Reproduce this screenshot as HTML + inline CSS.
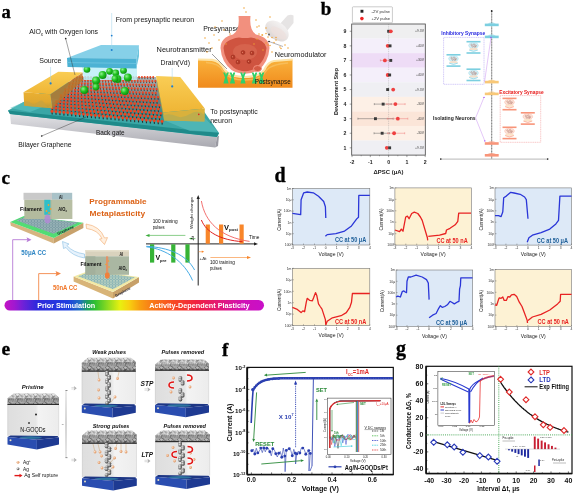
<!DOCTYPE html>
<html><head><meta charset="utf-8"><style>
html,body{margin:0;padding:0;background:#fff;width:575px;height:496px;overflow:hidden}
svg{display:block;filter:blur(0.35px)}
text{font-family:"Liberation Sans",sans-serif}
.sf{font-family:"Liberation Serif",serif;font-weight:bold}
</style></head><body>
<svg width="575" height="496" viewBox="0 0 575 496">
<rect width="575" height="496" fill="#fff"/>
<g id="pa">
<text class="sf" x="1.6" y="18" font-size="18.5" stroke="#000" stroke-width="0.35">a</text>
<defs>
<linearGradient id="gbase" x1="0" y1="0" x2="0" y2="1"><stop offset="0" stop-color="#e2e2e6"/><stop offset="1" stop-color="#a9a9b0"/></linearGradient>
<linearGradient id="gold1" x1="0" y1="0" x2="0" y2="1"><stop offset="0" stop-color="#f9cd55"/><stop offset="1" stop-color="#efb535"/></linearGradient>
<linearGradient id="goldf" x1="0" y1="0" x2="0" y2="1"><stop offset="0" stop-color="#eab032"/><stop offset="0.6" stop-color="#e0a830"/><stop offset="1" stop-color="#b89a3a"/></linearGradient>
<linearGradient id="orgin" x1="0" y1="0" x2="0" y2="1"><stop offset="0" stop-color="#f9b23c"/><stop offset="1" stop-color="#f08a1c"/></linearGradient>
<radialGradient id="gball" cx="0.35" cy="0.35" r="0.7"><stop offset="0" stop-color="#8ff08f"/><stop offset="0.5" stop-color="#22c422"/><stop offset="1" stop-color="#0c8a0c"/></radialGradient>
<linearGradient id="mush" x1="0" y1="0" x2="0" y2="1"><stop offset="0" stop-color="#f4f2f2"/><stop offset="1" stop-color="#ddd6d4"/></linearGradient>
</defs>
<polygon points="10,114 217,137 215,147.5 11,124" fill="url(#gbase)"/>
<polygon points="217,137 219,135.5 218,146 215,147.5" fill="#9a9aa2"/>
<polygon points="8,110.5 60,82 182,80 219,133 217,137 10,114" fill="#3aa6a6"/>
<polygon points="8,110.5 219,133 217,137 10,114" fill="#1f8a8a"/>
<polygon points="10,108 40,95 60,100 30,112" fill="#5cc4c4" opacity="0.6"/>
<polygon points="166,121 205,118 218,132 190,131" fill="#5cc0c0" opacity="0.6"/>
<defs><linearGradient id="latbg" x1="0" y1="0" x2="0" y2="1"><stop offset="0" stop-color="#b0b0b0"/><stop offset="0.5" stop-color="#6e7c7c"/><stop offset="0.85" stop-color="#3a8c8c"/><stop offset="1" stop-color="#2a9a9a"/></linearGradient></defs>
<polygon points="50,111 74,77 156,77 164,121.5" fill="url(#latbg)"/>
<line x1="74.0" y1="77.0" x2="74.2" y2="79.1" stroke="#2a2a2a" stroke-width="0.66"/>
<circle cx="74.0" cy="77.0" r="0.95" fill="#ee4420"/>
<line x1="76.8" y1="77.0" x2="77.0" y2="79.1" stroke="#2a2a2a" stroke-width="0.66"/>
<circle cx="76.8" cy="77.0" r="0.95" fill="#ee4420"/>
<line x1="79.7" y1="77.0" x2="79.9" y2="79.1" stroke="#2a2a2a" stroke-width="0.66"/>
<circle cx="79.7" cy="77.0" r="0.95" fill="#ee4420"/>
<line x1="82.5" y1="77.0" x2="82.7" y2="79.1" stroke="#2a2a2a" stroke-width="0.66"/>
<circle cx="82.5" cy="77.0" r="0.95" fill="#ee4420"/>
<line x1="85.3" y1="77.0" x2="85.5" y2="79.1" stroke="#2a2a2a" stroke-width="0.66"/>
<circle cx="85.3" cy="77.0" r="0.95" fill="#ee4420"/>
<line x1="88.1" y1="77.0" x2="88.3" y2="79.1" stroke="#2a2a2a" stroke-width="0.66"/>
<circle cx="88.1" cy="77.0" r="0.95" fill="#ee4420"/>
<line x1="91.0" y1="77.0" x2="91.2" y2="79.1" stroke="#2a2a2a" stroke-width="0.66"/>
<circle cx="91.0" cy="77.0" r="0.95" fill="#ee4420"/>
<line x1="93.8" y1="77.0" x2="94.0" y2="79.1" stroke="#2a2a2a" stroke-width="0.66"/>
<circle cx="93.8" cy="77.0" r="0.95" fill="#ee4420"/>
<line x1="96.6" y1="77.0" x2="96.8" y2="79.1" stroke="#2a2a2a" stroke-width="0.66"/>
<circle cx="96.6" cy="77.0" r="0.95" fill="#ee4420"/>
<line x1="99.4" y1="77.0" x2="99.6" y2="79.1" stroke="#2a2a2a" stroke-width="0.66"/>
<circle cx="99.4" cy="77.0" r="0.95" fill="#ee4420"/>
<line x1="102.3" y1="77.0" x2="102.5" y2="79.1" stroke="#2a2a2a" stroke-width="0.66"/>
<circle cx="102.3" cy="77.0" r="0.95" fill="#ee4420"/>
<line x1="105.1" y1="77.0" x2="105.3" y2="79.1" stroke="#2a2a2a" stroke-width="0.66"/>
<circle cx="105.1" cy="77.0" r="0.95" fill="#ee4420"/>
<line x1="107.9" y1="77.0" x2="108.1" y2="79.1" stroke="#2a2a2a" stroke-width="0.66"/>
<circle cx="107.9" cy="77.0" r="0.95" fill="#ee4420"/>
<line x1="110.8" y1="77.0" x2="111.0" y2="79.1" stroke="#2a2a2a" stroke-width="0.66"/>
<circle cx="110.8" cy="77.0" r="0.95" fill="#ee4420"/>
<line x1="113.6" y1="77.0" x2="113.8" y2="79.1" stroke="#2a2a2a" stroke-width="0.66"/>
<circle cx="113.6" cy="77.0" r="0.95" fill="#ee4420"/>
<line x1="116.4" y1="77.0" x2="116.6" y2="79.1" stroke="#2a2a2a" stroke-width="0.66"/>
<circle cx="116.4" cy="77.0" r="0.95" fill="#ee4420"/>
<line x1="119.2" y1="77.0" x2="119.4" y2="79.1" stroke="#2a2a2a" stroke-width="0.66"/>
<circle cx="119.2" cy="77.0" r="0.95" fill="#ee4420"/>
<line x1="122.1" y1="77.0" x2="122.3" y2="79.1" stroke="#2a2a2a" stroke-width="0.66"/>
<circle cx="122.1" cy="77.0" r="0.95" fill="#ee4420"/>
<line x1="124.9" y1="77.0" x2="125.1" y2="79.1" stroke="#2a2a2a" stroke-width="0.66"/>
<circle cx="124.9" cy="77.0" r="0.95" fill="#ee4420"/>
<line x1="127.7" y1="77.0" x2="127.9" y2="79.1" stroke="#2a2a2a" stroke-width="0.66"/>
<circle cx="127.7" cy="77.0" r="0.95" fill="#ee4420"/>
<line x1="130.6" y1="77.0" x2="130.8" y2="79.1" stroke="#2a2a2a" stroke-width="0.66"/>
<circle cx="130.6" cy="77.0" r="0.95" fill="#ee4420"/>
<line x1="133.4" y1="77.0" x2="133.6" y2="79.1" stroke="#2a2a2a" stroke-width="0.66"/>
<circle cx="133.4" cy="77.0" r="0.95" fill="#ee4420"/>
<line x1="136.2" y1="77.0" x2="136.4" y2="79.1" stroke="#2a2a2a" stroke-width="0.66"/>
<circle cx="136.2" cy="77.0" r="0.95" fill="#ee4420"/>
<line x1="139.0" y1="77.0" x2="139.2" y2="79.1" stroke="#2a2a2a" stroke-width="0.66"/>
<circle cx="139.0" cy="77.0" r="0.95" fill="#ee4420"/>
<line x1="141.9" y1="77.0" x2="142.1" y2="79.1" stroke="#2a2a2a" stroke-width="0.66"/>
<circle cx="141.9" cy="77.0" r="0.95" fill="#ee4420"/>
<line x1="144.7" y1="77.0" x2="144.9" y2="79.1" stroke="#2a2a2a" stroke-width="0.66"/>
<circle cx="144.7" cy="77.0" r="0.95" fill="#ee4420"/>
<line x1="147.5" y1="77.0" x2="147.7" y2="79.1" stroke="#2a2a2a" stroke-width="0.66"/>
<circle cx="147.5" cy="77.0" r="0.95" fill="#ee4420"/>
<line x1="150.3" y1="77.0" x2="150.5" y2="79.1" stroke="#2a2a2a" stroke-width="0.66"/>
<circle cx="150.3" cy="77.0" r="0.95" fill="#ee4420"/>
<line x1="153.2" y1="77.0" x2="153.4" y2="79.1" stroke="#2a2a2a" stroke-width="0.66"/>
<circle cx="153.2" cy="77.0" r="0.95" fill="#ee4420"/>
<line x1="73.3" y1="80.1" x2="73.5" y2="82.3" stroke="#2a2a2a" stroke-width="0.70"/>
<circle cx="73.3" cy="80.1" r="1.00" fill="#ee4420"/>
<line x1="76.2" y1="80.1" x2="76.4" y2="82.3" stroke="#2a2a2a" stroke-width="0.70"/>
<circle cx="76.2" cy="80.1" r="1.00" fill="#ee4420"/>
<line x1="79.1" y1="80.2" x2="79.3" y2="82.4" stroke="#2a2a2a" stroke-width="0.70"/>
<circle cx="79.1" cy="80.2" r="1.00" fill="#ee4420"/>
<line x1="82.1" y1="80.2" x2="82.3" y2="82.4" stroke="#2a2a2a" stroke-width="0.70"/>
<circle cx="82.1" cy="80.2" r="1.00" fill="#ee4420"/>
<line x1="85.0" y1="80.2" x2="85.2" y2="82.4" stroke="#2a2a2a" stroke-width="0.70"/>
<circle cx="85.0" cy="80.2" r="1.00" fill="#ee4420"/>
<line x1="87.9" y1="80.3" x2="88.1" y2="82.5" stroke="#2a2a2a" stroke-width="0.70"/>
<circle cx="87.9" cy="80.3" r="1.00" fill="#ee4420"/>
<line x1="90.8" y1="80.3" x2="91.0" y2="82.5" stroke="#2a2a2a" stroke-width="0.70"/>
<circle cx="90.8" cy="80.3" r="1.00" fill="#ee4420"/>
<line x1="93.8" y1="80.3" x2="94.0" y2="82.5" stroke="#2a2a2a" stroke-width="0.70"/>
<circle cx="93.8" cy="80.3" r="1.00" fill="#ee4420"/>
<line x1="96.7" y1="80.4" x2="96.9" y2="82.6" stroke="#2a2a2a" stroke-width="0.70"/>
<circle cx="96.7" cy="80.4" r="1.00" fill="#ee4420"/>
<line x1="99.6" y1="80.4" x2="99.8" y2="82.6" stroke="#2a2a2a" stroke-width="0.70"/>
<circle cx="99.6" cy="80.4" r="1.00" fill="#ee4420"/>
<line x1="102.6" y1="80.4" x2="102.8" y2="82.6" stroke="#2a2a2a" stroke-width="0.70"/>
<circle cx="102.6" cy="80.4" r="1.00" fill="#ee4420"/>
<line x1="105.5" y1="80.5" x2="105.7" y2="82.7" stroke="#2a2a2a" stroke-width="0.70"/>
<circle cx="105.5" cy="80.5" r="1.00" fill="#ee4420"/>
<line x1="108.4" y1="80.5" x2="108.6" y2="82.7" stroke="#2a2a2a" stroke-width="0.70"/>
<circle cx="108.4" cy="80.5" r="1.00" fill="#ee4420"/>
<line x1="111.3" y1="80.5" x2="111.5" y2="82.7" stroke="#2a2a2a" stroke-width="0.70"/>
<circle cx="111.3" cy="80.5" r="1.00" fill="#ee4420"/>
<line x1="114.3" y1="80.6" x2="114.5" y2="82.8" stroke="#2a2a2a" stroke-width="0.70"/>
<circle cx="114.3" cy="80.6" r="1.00" fill="#ee4420"/>
<line x1="117.2" y1="80.6" x2="117.4" y2="82.8" stroke="#2a2a2a" stroke-width="0.70"/>
<circle cx="117.2" cy="80.6" r="1.00" fill="#ee4420"/>
<line x1="120.1" y1="80.6" x2="120.3" y2="82.8" stroke="#2a2a2a" stroke-width="0.70"/>
<circle cx="120.1" cy="80.6" r="1.00" fill="#ee4420"/>
<line x1="123.1" y1="80.7" x2="123.3" y2="82.9" stroke="#2a2a2a" stroke-width="0.70"/>
<circle cx="123.1" cy="80.7" r="1.00" fill="#ee4420"/>
<line x1="126.0" y1="80.7" x2="126.2" y2="82.9" stroke="#2a2a2a" stroke-width="0.70"/>
<circle cx="126.0" cy="80.7" r="1.00" fill="#ee4420"/>
<line x1="128.9" y1="80.7" x2="129.1" y2="82.9" stroke="#2a2a2a" stroke-width="0.70"/>
<circle cx="128.9" cy="80.7" r="1.00" fill="#ee4420"/>
<line x1="131.8" y1="80.8" x2="132.0" y2="83.0" stroke="#2a2a2a" stroke-width="0.70"/>
<circle cx="131.8" cy="80.8" r="1.00" fill="#ee4420"/>
<line x1="134.8" y1="80.8" x2="135.0" y2="83.0" stroke="#2a2a2a" stroke-width="0.70"/>
<circle cx="134.8" cy="80.8" r="1.00" fill="#ee4420"/>
<line x1="137.7" y1="80.8" x2="137.9" y2="83.0" stroke="#2a2a2a" stroke-width="0.70"/>
<circle cx="137.7" cy="80.8" r="1.00" fill="#ee4420"/>
<line x1="140.6" y1="80.9" x2="140.8" y2="83.1" stroke="#2a2a2a" stroke-width="0.70"/>
<circle cx="140.6" cy="80.9" r="1.00" fill="#ee4420"/>
<line x1="143.6" y1="80.9" x2="143.8" y2="83.1" stroke="#2a2a2a" stroke-width="0.70"/>
<circle cx="143.6" cy="80.9" r="1.00" fill="#ee4420"/>
<line x1="146.5" y1="80.9" x2="146.7" y2="83.1" stroke="#2a2a2a" stroke-width="0.70"/>
<circle cx="146.5" cy="80.9" r="1.00" fill="#ee4420"/>
<line x1="149.4" y1="81.0" x2="149.6" y2="83.2" stroke="#2a2a2a" stroke-width="0.70"/>
<circle cx="149.4" cy="81.0" r="1.00" fill="#ee4420"/>
<line x1="152.3" y1="81.0" x2="152.5" y2="83.2" stroke="#2a2a2a" stroke-width="0.70"/>
<circle cx="152.3" cy="81.0" r="1.00" fill="#ee4420"/>
<line x1="155.3" y1="81.0" x2="155.5" y2="83.2" stroke="#2a2a2a" stroke-width="0.70"/>
<circle cx="155.3" cy="81.0" r="1.00" fill="#ee4420"/>
<line x1="69.6" y1="83.2" x2="69.8" y2="85.5" stroke="#2a2a2a" stroke-width="0.73"/>
<circle cx="69.6" cy="83.2" r="1.05" fill="#ee4420"/>
<line x1="72.7" y1="83.2" x2="72.9" y2="85.6" stroke="#2a2a2a" stroke-width="0.73"/>
<circle cx="72.7" cy="83.2" r="1.05" fill="#ee4420"/>
<line x1="75.7" y1="83.3" x2="75.9" y2="85.6" stroke="#2a2a2a" stroke-width="0.73"/>
<circle cx="75.7" cy="83.3" r="1.05" fill="#ee4420"/>
<line x1="78.7" y1="83.4" x2="78.9" y2="85.7" stroke="#2a2a2a" stroke-width="0.73"/>
<circle cx="78.7" cy="83.4" r="1.05" fill="#ee4420"/>
<line x1="81.7" y1="83.4" x2="81.9" y2="85.8" stroke="#2a2a2a" stroke-width="0.73"/>
<circle cx="81.7" cy="83.4" r="1.05" fill="#ee4420"/>
<line x1="84.8" y1="83.5" x2="85.0" y2="85.8" stroke="#2a2a2a" stroke-width="0.73"/>
<circle cx="84.8" cy="83.5" r="1.05" fill="#ee4420"/>
<line x1="87.8" y1="83.6" x2="88.0" y2="85.9" stroke="#2a2a2a" stroke-width="0.73"/>
<circle cx="87.8" cy="83.6" r="1.05" fill="#ee4420"/>
<line x1="90.8" y1="83.6" x2="91.0" y2="86.0" stroke="#2a2a2a" stroke-width="0.73"/>
<circle cx="90.8" cy="83.6" r="1.05" fill="#ee4420"/>
<line x1="93.9" y1="83.7" x2="94.1" y2="86.0" stroke="#2a2a2a" stroke-width="0.73"/>
<circle cx="93.9" cy="83.7" r="1.05" fill="#ee4420"/>
<line x1="96.9" y1="83.8" x2="97.1" y2="86.1" stroke="#2a2a2a" stroke-width="0.73"/>
<circle cx="96.9" cy="83.8" r="1.05" fill="#ee4420"/>
<line x1="99.9" y1="83.8" x2="100.1" y2="86.2" stroke="#2a2a2a" stroke-width="0.73"/>
<circle cx="99.9" cy="83.8" r="1.05" fill="#ee4420"/>
<line x1="102.9" y1="83.9" x2="103.1" y2="86.2" stroke="#2a2a2a" stroke-width="0.73"/>
<circle cx="102.9" cy="83.9" r="1.05" fill="#ee4420"/>
<line x1="106.0" y1="84.0" x2="106.2" y2="86.3" stroke="#2a2a2a" stroke-width="0.73"/>
<circle cx="106.0" cy="84.0" r="1.05" fill="#ee4420"/>
<line x1="109.0" y1="84.0" x2="109.2" y2="86.3" stroke="#2a2a2a" stroke-width="0.73"/>
<circle cx="109.0" cy="84.0" r="1.05" fill="#ee4420"/>
<line x1="112.0" y1="84.1" x2="112.2" y2="86.4" stroke="#2a2a2a" stroke-width="0.73"/>
<circle cx="112.0" cy="84.1" r="1.05" fill="#ee4420"/>
<line x1="115.1" y1="84.2" x2="115.3" y2="86.5" stroke="#2a2a2a" stroke-width="0.73"/>
<circle cx="115.1" cy="84.2" r="1.05" fill="#ee4420"/>
<line x1="118.1" y1="84.2" x2="118.3" y2="86.5" stroke="#2a2a2a" stroke-width="0.73"/>
<circle cx="118.1" cy="84.2" r="1.05" fill="#ee4420"/>
<line x1="121.1" y1="84.3" x2="121.3" y2="86.6" stroke="#2a2a2a" stroke-width="0.73"/>
<circle cx="121.1" cy="84.3" r="1.05" fill="#ee4420"/>
<line x1="124.1" y1="84.4" x2="124.3" y2="86.7" stroke="#2a2a2a" stroke-width="0.73"/>
<circle cx="124.1" cy="84.4" r="1.05" fill="#ee4420"/>
<line x1="127.2" y1="84.4" x2="127.4" y2="86.7" stroke="#2a2a2a" stroke-width="0.73"/>
<circle cx="127.2" cy="84.4" r="1.05" fill="#ee4420"/>
<line x1="130.2" y1="84.5" x2="130.4" y2="86.8" stroke="#2a2a2a" stroke-width="0.73"/>
<circle cx="130.2" cy="84.5" r="1.05" fill="#ee4420"/>
<line x1="133.2" y1="84.6" x2="133.4" y2="86.9" stroke="#2a2a2a" stroke-width="0.73"/>
<circle cx="133.2" cy="84.6" r="1.05" fill="#ee4420"/>
<line x1="136.3" y1="84.6" x2="136.5" y2="86.9" stroke="#2a2a2a" stroke-width="0.73"/>
<circle cx="136.3" cy="84.6" r="1.05" fill="#ee4420"/>
<line x1="139.3" y1="84.7" x2="139.5" y2="87.0" stroke="#2a2a2a" stroke-width="0.73"/>
<circle cx="139.3" cy="84.7" r="1.05" fill="#ee4420"/>
<line x1="142.3" y1="84.8" x2="142.5" y2="87.1" stroke="#2a2a2a" stroke-width="0.73"/>
<circle cx="142.3" cy="84.8" r="1.05" fill="#ee4420"/>
<line x1="145.3" y1="84.8" x2="145.5" y2="87.1" stroke="#2a2a2a" stroke-width="0.73"/>
<circle cx="145.3" cy="84.8" r="1.05" fill="#ee4420"/>
<line x1="148.4" y1="84.9" x2="148.6" y2="87.2" stroke="#2a2a2a" stroke-width="0.73"/>
<circle cx="148.4" cy="84.9" r="1.05" fill="#ee4420"/>
<line x1="151.4" y1="85.0" x2="151.6" y2="87.3" stroke="#2a2a2a" stroke-width="0.73"/>
<circle cx="151.4" cy="85.0" r="1.05" fill="#ee4420"/>
<line x1="154.4" y1="85.0" x2="154.6" y2="87.3" stroke="#2a2a2a" stroke-width="0.73"/>
<circle cx="154.4" cy="85.0" r="1.05" fill="#ee4420"/>
<line x1="69.0" y1="86.3" x2="69.2" y2="88.7" stroke="#2a2a2a" stroke-width="0.77"/>
<circle cx="69.0" cy="86.3" r="1.10" fill="#ee4420"/>
<line x1="72.1" y1="86.4" x2="72.3" y2="88.8" stroke="#2a2a2a" stroke-width="0.77"/>
<circle cx="72.1" cy="86.4" r="1.10" fill="#ee4420"/>
<line x1="75.3" y1="86.5" x2="75.5" y2="88.9" stroke="#2a2a2a" stroke-width="0.77"/>
<circle cx="75.3" cy="86.5" r="1.10" fill="#ee4420"/>
<line x1="78.4" y1="86.6" x2="78.6" y2="89.0" stroke="#2a2a2a" stroke-width="0.77"/>
<circle cx="78.4" cy="86.6" r="1.10" fill="#ee4420"/>
<line x1="81.5" y1="86.7" x2="81.7" y2="89.1" stroke="#2a2a2a" stroke-width="0.77"/>
<circle cx="81.5" cy="86.7" r="1.10" fill="#ee4420"/>
<line x1="84.7" y1="86.8" x2="84.9" y2="89.2" stroke="#2a2a2a" stroke-width="0.77"/>
<circle cx="84.7" cy="86.8" r="1.10" fill="#ee4420"/>
<line x1="87.8" y1="86.9" x2="88.0" y2="89.3" stroke="#2a2a2a" stroke-width="0.77"/>
<circle cx="87.8" cy="86.9" r="1.10" fill="#ee4420"/>
<line x1="90.9" y1="87.0" x2="91.1" y2="89.4" stroke="#2a2a2a" stroke-width="0.77"/>
<circle cx="90.9" cy="87.0" r="1.10" fill="#ee4420"/>
<line x1="94.0" y1="87.1" x2="94.2" y2="89.5" stroke="#2a2a2a" stroke-width="0.77"/>
<circle cx="94.0" cy="87.1" r="1.10" fill="#ee4420"/>
<line x1="97.2" y1="87.2" x2="97.4" y2="89.6" stroke="#2a2a2a" stroke-width="0.77"/>
<circle cx="97.2" cy="87.2" r="1.10" fill="#ee4420"/>
<line x1="100.3" y1="87.3" x2="100.5" y2="89.7" stroke="#2a2a2a" stroke-width="0.77"/>
<circle cx="100.3" cy="87.3" r="1.10" fill="#ee4420"/>
<line x1="103.4" y1="87.4" x2="103.6" y2="89.8" stroke="#2a2a2a" stroke-width="0.77"/>
<circle cx="103.4" cy="87.4" r="1.10" fill="#ee4420"/>
<line x1="106.6" y1="87.5" x2="106.8" y2="89.9" stroke="#2a2a2a" stroke-width="0.77"/>
<circle cx="106.6" cy="87.5" r="1.10" fill="#ee4420"/>
<line x1="109.7" y1="87.6" x2="109.9" y2="90.0" stroke="#2a2a2a" stroke-width="0.77"/>
<circle cx="109.7" cy="87.6" r="1.10" fill="#ee4420"/>
<line x1="112.8" y1="87.7" x2="113.0" y2="90.1" stroke="#2a2a2a" stroke-width="0.77"/>
<circle cx="112.8" cy="87.7" r="1.10" fill="#ee4420"/>
<line x1="115.9" y1="87.8" x2="116.1" y2="90.2" stroke="#2a2a2a" stroke-width="0.77"/>
<circle cx="115.9" cy="87.8" r="1.10" fill="#ee4420"/>
<line x1="119.1" y1="87.9" x2="119.3" y2="90.3" stroke="#2a2a2a" stroke-width="0.77"/>
<circle cx="119.1" cy="87.9" r="1.10" fill="#ee4420"/>
<line x1="122.2" y1="88.0" x2="122.4" y2="90.4" stroke="#2a2a2a" stroke-width="0.77"/>
<circle cx="122.2" cy="88.0" r="1.10" fill="#ee4420"/>
<line x1="125.3" y1="88.1" x2="125.5" y2="90.5" stroke="#2a2a2a" stroke-width="0.77"/>
<circle cx="125.3" cy="88.1" r="1.10" fill="#ee4420"/>
<line x1="128.5" y1="88.2" x2="128.7" y2="90.6" stroke="#2a2a2a" stroke-width="0.77"/>
<circle cx="128.5" cy="88.2" r="1.10" fill="#ee4420"/>
<line x1="131.6" y1="88.3" x2="131.8" y2="90.7" stroke="#2a2a2a" stroke-width="0.77"/>
<circle cx="131.6" cy="88.3" r="1.10" fill="#ee4420"/>
<line x1="134.7" y1="88.4" x2="134.9" y2="90.8" stroke="#2a2a2a" stroke-width="0.77"/>
<circle cx="134.7" cy="88.4" r="1.10" fill="#ee4420"/>
<line x1="137.8" y1="88.5" x2="138.0" y2="90.9" stroke="#2a2a2a" stroke-width="0.77"/>
<circle cx="137.8" cy="88.5" r="1.10" fill="#ee4420"/>
<line x1="141.0" y1="88.6" x2="141.2" y2="91.0" stroke="#2a2a2a" stroke-width="0.77"/>
<circle cx="141.0" cy="88.6" r="1.10" fill="#ee4420"/>
<line x1="144.1" y1="88.7" x2="144.3" y2="91.1" stroke="#2a2a2a" stroke-width="0.77"/>
<circle cx="144.1" cy="88.7" r="1.10" fill="#ee4420"/>
<line x1="147.2" y1="88.8" x2="147.4" y2="91.2" stroke="#2a2a2a" stroke-width="0.77"/>
<circle cx="147.2" cy="88.8" r="1.10" fill="#ee4420"/>
<line x1="150.4" y1="88.9" x2="150.6" y2="91.3" stroke="#2a2a2a" stroke-width="0.77"/>
<circle cx="150.4" cy="88.9" r="1.10" fill="#ee4420"/>
<line x1="153.5" y1="89.0" x2="153.7" y2="91.4" stroke="#2a2a2a" stroke-width="0.77"/>
<circle cx="153.5" cy="89.0" r="1.10" fill="#ee4420"/>
<line x1="156.6" y1="89.1" x2="156.8" y2="91.5" stroke="#2a2a2a" stroke-width="0.77"/>
<circle cx="156.6" cy="89.1" r="1.10" fill="#ee4420"/>
<line x1="65.3" y1="89.4" x2="65.5" y2="91.9" stroke="#2a2a2a" stroke-width="0.80"/>
<circle cx="65.3" cy="89.4" r="1.15" fill="#ee4420"/>
<line x1="68.5" y1="89.5" x2="68.7" y2="92.0" stroke="#2a2a2a" stroke-width="0.80"/>
<circle cx="68.5" cy="89.5" r="1.15" fill="#ee4420"/>
<line x1="71.7" y1="89.6" x2="71.9" y2="92.2" stroke="#2a2a2a" stroke-width="0.80"/>
<circle cx="71.7" cy="89.6" r="1.15" fill="#ee4420"/>
<line x1="75.0" y1="89.8" x2="75.2" y2="92.3" stroke="#2a2a2a" stroke-width="0.80"/>
<circle cx="75.0" cy="89.8" r="1.15" fill="#ee4420"/>
<line x1="78.2" y1="89.9" x2="78.4" y2="92.4" stroke="#2a2a2a" stroke-width="0.80"/>
<circle cx="78.2" cy="89.9" r="1.15" fill="#ee4420"/>
<line x1="81.4" y1="90.0" x2="81.6" y2="92.6" stroke="#2a2a2a" stroke-width="0.80"/>
<circle cx="81.4" cy="90.0" r="1.15" fill="#ee4420"/>
<line x1="84.6" y1="90.2" x2="84.8" y2="92.7" stroke="#2a2a2a" stroke-width="0.80"/>
<circle cx="84.6" cy="90.2" r="1.15" fill="#ee4420"/>
<line x1="87.9" y1="90.3" x2="88.1" y2="92.8" stroke="#2a2a2a" stroke-width="0.80"/>
<circle cx="87.9" cy="90.3" r="1.15" fill="#ee4420"/>
<line x1="91.1" y1="90.4" x2="91.3" y2="92.9" stroke="#2a2a2a" stroke-width="0.80"/>
<circle cx="91.1" cy="90.4" r="1.15" fill="#ee4420"/>
<line x1="94.3" y1="90.5" x2="94.5" y2="93.1" stroke="#2a2a2a" stroke-width="0.80"/>
<circle cx="94.3" cy="90.5" r="1.15" fill="#ee4420"/>
<line x1="97.6" y1="90.7" x2="97.8" y2="93.2" stroke="#2a2a2a" stroke-width="0.80"/>
<circle cx="97.6" cy="90.7" r="1.15" fill="#ee4420"/>
<line x1="100.8" y1="90.8" x2="101.0" y2="93.3" stroke="#2a2a2a" stroke-width="0.80"/>
<circle cx="100.8" cy="90.8" r="1.15" fill="#ee4420"/>
<line x1="104.0" y1="90.9" x2="104.2" y2="93.5" stroke="#2a2a2a" stroke-width="0.80"/>
<circle cx="104.0" cy="90.9" r="1.15" fill="#ee4420"/>
<line x1="107.2" y1="91.1" x2="107.4" y2="93.6" stroke="#2a2a2a" stroke-width="0.80"/>
<circle cx="107.2" cy="91.1" r="1.15" fill="#ee4420"/>
<line x1="110.5" y1="91.2" x2="110.7" y2="93.7" stroke="#2a2a2a" stroke-width="0.80"/>
<circle cx="110.5" cy="91.2" r="1.15" fill="#ee4420"/>
<line x1="113.7" y1="91.3" x2="113.9" y2="93.9" stroke="#2a2a2a" stroke-width="0.80"/>
<circle cx="113.7" cy="91.3" r="1.15" fill="#ee4420"/>
<line x1="116.9" y1="91.5" x2="117.1" y2="94.0" stroke="#2a2a2a" stroke-width="0.80"/>
<circle cx="116.9" cy="91.5" r="1.15" fill="#ee4420"/>
<line x1="120.2" y1="91.6" x2="120.4" y2="94.1" stroke="#2a2a2a" stroke-width="0.80"/>
<circle cx="120.2" cy="91.6" r="1.15" fill="#ee4420"/>
<line x1="123.4" y1="91.7" x2="123.6" y2="94.3" stroke="#2a2a2a" stroke-width="0.80"/>
<circle cx="123.4" cy="91.7" r="1.15" fill="#ee4420"/>
<line x1="126.6" y1="91.9" x2="126.8" y2="94.4" stroke="#2a2a2a" stroke-width="0.80"/>
<circle cx="126.6" cy="91.9" r="1.15" fill="#ee4420"/>
<line x1="129.8" y1="92.0" x2="130.0" y2="94.5" stroke="#2a2a2a" stroke-width="0.80"/>
<circle cx="129.8" cy="92.0" r="1.15" fill="#ee4420"/>
<line x1="133.1" y1="92.1" x2="133.3" y2="94.7" stroke="#2a2a2a" stroke-width="0.80"/>
<circle cx="133.1" cy="92.1" r="1.15" fill="#ee4420"/>
<line x1="136.3" y1="92.3" x2="136.5" y2="94.8" stroke="#2a2a2a" stroke-width="0.80"/>
<circle cx="136.3" cy="92.3" r="1.15" fill="#ee4420"/>
<line x1="139.5" y1="92.4" x2="139.7" y2="94.9" stroke="#2a2a2a" stroke-width="0.80"/>
<circle cx="139.5" cy="92.4" r="1.15" fill="#ee4420"/>
<line x1="142.8" y1="92.5" x2="143.0" y2="95.1" stroke="#2a2a2a" stroke-width="0.80"/>
<circle cx="142.8" cy="92.5" r="1.15" fill="#ee4420"/>
<line x1="146.0" y1="92.7" x2="146.2" y2="95.2" stroke="#2a2a2a" stroke-width="0.80"/>
<circle cx="146.0" cy="92.7" r="1.15" fill="#ee4420"/>
<line x1="149.2" y1="92.8" x2="149.4" y2="95.3" stroke="#2a2a2a" stroke-width="0.80"/>
<circle cx="149.2" cy="92.8" r="1.15" fill="#ee4420"/>
<line x1="152.5" y1="92.9" x2="152.7" y2="95.4" stroke="#2a2a2a" stroke-width="0.80"/>
<circle cx="152.5" cy="92.9" r="1.15" fill="#ee4420"/>
<line x1="155.7" y1="93.1" x2="155.9" y2="95.6" stroke="#2a2a2a" stroke-width="0.80"/>
<circle cx="155.7" cy="93.1" r="1.15" fill="#ee4420"/>
<line x1="64.8" y1="92.5" x2="65.0" y2="95.2" stroke="#2a2a2a" stroke-width="0.84"/>
<circle cx="64.8" cy="92.5" r="1.20" fill="#ee4420"/>
<line x1="68.1" y1="92.7" x2="68.3" y2="95.3" stroke="#2a2a2a" stroke-width="0.84"/>
<circle cx="68.1" cy="92.7" r="1.20" fill="#ee4420"/>
<line x1="71.4" y1="92.9" x2="71.6" y2="95.5" stroke="#2a2a2a" stroke-width="0.84"/>
<circle cx="71.4" cy="92.9" r="1.20" fill="#ee4420"/>
<line x1="74.7" y1="93.0" x2="74.9" y2="95.7" stroke="#2a2a2a" stroke-width="0.84"/>
<circle cx="74.7" cy="93.0" r="1.20" fill="#ee4420"/>
<line x1="78.1" y1="93.2" x2="78.3" y2="95.8" stroke="#2a2a2a" stroke-width="0.84"/>
<circle cx="78.1" cy="93.2" r="1.20" fill="#ee4420"/>
<line x1="81.4" y1="93.4" x2="81.6" y2="96.0" stroke="#2a2a2a" stroke-width="0.84"/>
<circle cx="81.4" cy="93.4" r="1.20" fill="#ee4420"/>
<line x1="84.7" y1="93.5" x2="84.9" y2="96.2" stroke="#2a2a2a" stroke-width="0.84"/>
<circle cx="84.7" cy="93.5" r="1.20" fill="#ee4420"/>
<line x1="88.1" y1="93.7" x2="88.3" y2="96.3" stroke="#2a2a2a" stroke-width="0.84"/>
<circle cx="88.1" cy="93.7" r="1.20" fill="#ee4420"/>
<line x1="91.4" y1="93.9" x2="91.6" y2="96.5" stroke="#2a2a2a" stroke-width="0.84"/>
<circle cx="91.4" cy="93.9" r="1.20" fill="#ee4420"/>
<line x1="94.7" y1="94.0" x2="94.9" y2="96.7" stroke="#2a2a2a" stroke-width="0.84"/>
<circle cx="94.7" cy="94.0" r="1.20" fill="#ee4420"/>
<line x1="98.0" y1="94.2" x2="98.2" y2="96.8" stroke="#2a2a2a" stroke-width="0.84"/>
<circle cx="98.0" cy="94.2" r="1.20" fill="#ee4420"/>
<line x1="101.4" y1="94.3" x2="101.6" y2="97.0" stroke="#2a2a2a" stroke-width="0.84"/>
<circle cx="101.4" cy="94.3" r="1.20" fill="#ee4420"/>
<line x1="104.7" y1="94.5" x2="104.9" y2="97.2" stroke="#2a2a2a" stroke-width="0.84"/>
<circle cx="104.7" cy="94.5" r="1.20" fill="#ee4420"/>
<line x1="108.0" y1="94.7" x2="108.2" y2="97.3" stroke="#2a2a2a" stroke-width="0.84"/>
<circle cx="108.0" cy="94.7" r="1.20" fill="#ee4420"/>
<line x1="111.4" y1="94.8" x2="111.6" y2="97.5" stroke="#2a2a2a" stroke-width="0.84"/>
<circle cx="111.4" cy="94.8" r="1.20" fill="#ee4420"/>
<line x1="114.7" y1="95.0" x2="114.9" y2="97.6" stroke="#2a2a2a" stroke-width="0.84"/>
<circle cx="114.7" cy="95.0" r="1.20" fill="#ee4420"/>
<line x1="118.0" y1="95.2" x2="118.2" y2="97.8" stroke="#2a2a2a" stroke-width="0.84"/>
<circle cx="118.0" cy="95.2" r="1.20" fill="#ee4420"/>
<line x1="121.4" y1="95.3" x2="121.6" y2="98.0" stroke="#2a2a2a" stroke-width="0.84"/>
<circle cx="121.4" cy="95.3" r="1.20" fill="#ee4420"/>
<line x1="124.7" y1="95.5" x2="124.9" y2="98.1" stroke="#2a2a2a" stroke-width="0.84"/>
<circle cx="124.7" cy="95.5" r="1.20" fill="#ee4420"/>
<line x1="128.0" y1="95.7" x2="128.2" y2="98.3" stroke="#2a2a2a" stroke-width="0.84"/>
<circle cx="128.0" cy="95.7" r="1.20" fill="#ee4420"/>
<line x1="131.3" y1="95.8" x2="131.5" y2="98.5" stroke="#2a2a2a" stroke-width="0.84"/>
<circle cx="131.3" cy="95.8" r="1.20" fill="#ee4420"/>
<line x1="134.7" y1="96.0" x2="134.9" y2="98.6" stroke="#2a2a2a" stroke-width="0.84"/>
<circle cx="134.7" cy="96.0" r="1.20" fill="#ee4420"/>
<line x1="138.0" y1="96.2" x2="138.2" y2="98.8" stroke="#2a2a2a" stroke-width="0.84"/>
<circle cx="138.0" cy="96.2" r="1.20" fill="#ee4420"/>
<line x1="141.3" y1="96.3" x2="141.5" y2="99.0" stroke="#2a2a2a" stroke-width="0.84"/>
<circle cx="141.3" cy="96.3" r="1.20" fill="#ee4420"/>
<line x1="144.7" y1="96.5" x2="144.9" y2="99.1" stroke="#2a2a2a" stroke-width="0.84"/>
<circle cx="144.7" cy="96.5" r="1.20" fill="#ee4420"/>
<line x1="148.0" y1="96.7" x2="148.2" y2="99.3" stroke="#2a2a2a" stroke-width="0.84"/>
<circle cx="148.0" cy="96.7" r="1.20" fill="#ee4420"/>
<line x1="151.3" y1="96.8" x2="151.5" y2="99.5" stroke="#2a2a2a" stroke-width="0.84"/>
<circle cx="151.3" cy="96.8" r="1.20" fill="#ee4420"/>
<line x1="154.6" y1="97.0" x2="154.8" y2="99.6" stroke="#2a2a2a" stroke-width="0.84"/>
<circle cx="154.6" cy="97.0" r="1.20" fill="#ee4420"/>
<line x1="158.0" y1="97.1" x2="158.2" y2="99.8" stroke="#2a2a2a" stroke-width="0.84"/>
<circle cx="158.0" cy="97.1" r="1.20" fill="#ee4420"/>
<line x1="60.9" y1="95.5" x2="61.1" y2="98.3" stroke="#2a2a2a" stroke-width="0.88"/>
<circle cx="60.9" cy="95.5" r="1.25" fill="#ee4420"/>
<line x1="64.3" y1="95.7" x2="64.5" y2="98.5" stroke="#2a2a2a" stroke-width="0.88"/>
<circle cx="64.3" cy="95.7" r="1.25" fill="#ee4420"/>
<line x1="67.8" y1="95.9" x2="68.0" y2="98.7" stroke="#2a2a2a" stroke-width="0.88"/>
<circle cx="67.8" cy="95.9" r="1.25" fill="#ee4420"/>
<line x1="71.2" y1="96.1" x2="71.4" y2="98.9" stroke="#2a2a2a" stroke-width="0.88"/>
<circle cx="71.2" cy="96.1" r="1.25" fill="#ee4420"/>
<line x1="74.6" y1="96.3" x2="74.8" y2="99.1" stroke="#2a2a2a" stroke-width="0.88"/>
<circle cx="74.6" cy="96.3" r="1.25" fill="#ee4420"/>
<line x1="78.1" y1="96.5" x2="78.3" y2="99.3" stroke="#2a2a2a" stroke-width="0.88"/>
<circle cx="78.1" cy="96.5" r="1.25" fill="#ee4420"/>
<line x1="81.5" y1="96.7" x2="81.7" y2="99.5" stroke="#2a2a2a" stroke-width="0.88"/>
<circle cx="81.5" cy="96.7" r="1.25" fill="#ee4420"/>
<line x1="84.9" y1="96.9" x2="85.1" y2="99.7" stroke="#2a2a2a" stroke-width="0.88"/>
<circle cx="84.9" cy="96.9" r="1.25" fill="#ee4420"/>
<line x1="88.3" y1="97.1" x2="88.5" y2="99.9" stroke="#2a2a2a" stroke-width="0.88"/>
<circle cx="88.3" cy="97.1" r="1.25" fill="#ee4420"/>
<line x1="91.8" y1="97.3" x2="92.0" y2="100.1" stroke="#2a2a2a" stroke-width="0.88"/>
<circle cx="91.8" cy="97.3" r="1.25" fill="#ee4420"/>
<line x1="95.2" y1="97.5" x2="95.4" y2="100.3" stroke="#2a2a2a" stroke-width="0.88"/>
<circle cx="95.2" cy="97.5" r="1.25" fill="#ee4420"/>
<line x1="98.6" y1="97.7" x2="98.8" y2="100.5" stroke="#2a2a2a" stroke-width="0.88"/>
<circle cx="98.6" cy="97.7" r="1.25" fill="#ee4420"/>
<line x1="102.1" y1="97.9" x2="102.3" y2="100.7" stroke="#2a2a2a" stroke-width="0.88"/>
<circle cx="102.1" cy="97.9" r="1.25" fill="#ee4420"/>
<line x1="105.5" y1="98.1" x2="105.7" y2="100.9" stroke="#2a2a2a" stroke-width="0.88"/>
<circle cx="105.5" cy="98.1" r="1.25" fill="#ee4420"/>
<line x1="108.9" y1="98.3" x2="109.1" y2="101.1" stroke="#2a2a2a" stroke-width="0.88"/>
<circle cx="108.9" cy="98.3" r="1.25" fill="#ee4420"/>
<line x1="112.4" y1="98.5" x2="112.6" y2="101.3" stroke="#2a2a2a" stroke-width="0.88"/>
<circle cx="112.4" cy="98.5" r="1.25" fill="#ee4420"/>
<line x1="115.8" y1="98.7" x2="116.0" y2="101.5" stroke="#2a2a2a" stroke-width="0.88"/>
<circle cx="115.8" cy="98.7" r="1.25" fill="#ee4420"/>
<line x1="119.2" y1="98.9" x2="119.4" y2="101.7" stroke="#2a2a2a" stroke-width="0.88"/>
<circle cx="119.2" cy="98.9" r="1.25" fill="#ee4420"/>
<line x1="122.6" y1="99.1" x2="122.8" y2="101.9" stroke="#2a2a2a" stroke-width="0.88"/>
<circle cx="122.6" cy="99.1" r="1.25" fill="#ee4420"/>
<line x1="126.1" y1="99.3" x2="126.3" y2="102.0" stroke="#2a2a2a" stroke-width="0.88"/>
<circle cx="126.1" cy="99.3" r="1.25" fill="#ee4420"/>
<line x1="129.5" y1="99.5" x2="129.7" y2="102.2" stroke="#2a2a2a" stroke-width="0.88"/>
<circle cx="129.5" cy="99.5" r="1.25" fill="#ee4420"/>
<line x1="132.9" y1="99.7" x2="133.1" y2="102.4" stroke="#2a2a2a" stroke-width="0.88"/>
<circle cx="132.9" cy="99.7" r="1.25" fill="#ee4420"/>
<line x1="136.4" y1="99.9" x2="136.6" y2="102.6" stroke="#2a2a2a" stroke-width="0.88"/>
<circle cx="136.4" cy="99.9" r="1.25" fill="#ee4420"/>
<line x1="139.8" y1="100.1" x2="140.0" y2="102.8" stroke="#2a2a2a" stroke-width="0.88"/>
<circle cx="139.8" cy="100.1" r="1.25" fill="#ee4420"/>
<line x1="143.2" y1="100.3" x2="143.4" y2="103.0" stroke="#2a2a2a" stroke-width="0.88"/>
<circle cx="143.2" cy="100.3" r="1.25" fill="#ee4420"/>
<line x1="146.6" y1="100.5" x2="146.8" y2="103.2" stroke="#2a2a2a" stroke-width="0.88"/>
<circle cx="146.6" cy="100.5" r="1.25" fill="#ee4420"/>
<line x1="150.1" y1="100.7" x2="150.3" y2="103.4" stroke="#2a2a2a" stroke-width="0.88"/>
<circle cx="150.1" cy="100.7" r="1.25" fill="#ee4420"/>
<line x1="153.5" y1="100.9" x2="153.7" y2="103.6" stroke="#2a2a2a" stroke-width="0.88"/>
<circle cx="153.5" cy="100.9" r="1.25" fill="#ee4420"/>
<line x1="156.9" y1="101.1" x2="157.1" y2="103.8" stroke="#2a2a2a" stroke-width="0.88"/>
<circle cx="156.9" cy="101.1" r="1.25" fill="#ee4420"/>
<line x1="60.5" y1="98.8" x2="60.7" y2="101.6" stroke="#2a2a2a" stroke-width="0.91"/>
<circle cx="60.5" cy="98.8" r="1.30" fill="#ee4420"/>
<line x1="64.0" y1="99.0" x2="64.2" y2="101.8" stroke="#2a2a2a" stroke-width="0.91"/>
<circle cx="64.0" cy="99.0" r="1.30" fill="#ee4420"/>
<line x1="67.6" y1="99.2" x2="67.8" y2="102.1" stroke="#2a2a2a" stroke-width="0.91"/>
<circle cx="67.6" cy="99.2" r="1.30" fill="#ee4420"/>
<line x1="71.1" y1="99.4" x2="71.3" y2="102.3" stroke="#2a2a2a" stroke-width="0.91"/>
<circle cx="71.1" cy="99.4" r="1.30" fill="#ee4420"/>
<line x1="74.6" y1="99.7" x2="74.8" y2="102.5" stroke="#2a2a2a" stroke-width="0.91"/>
<circle cx="74.6" cy="99.7" r="1.30" fill="#ee4420"/>
<line x1="78.1" y1="99.9" x2="78.3" y2="102.8" stroke="#2a2a2a" stroke-width="0.91"/>
<circle cx="78.1" cy="99.9" r="1.30" fill="#ee4420"/>
<line x1="81.7" y1="100.1" x2="81.9" y2="103.0" stroke="#2a2a2a" stroke-width="0.91"/>
<circle cx="81.7" cy="100.1" r="1.30" fill="#ee4420"/>
<line x1="85.2" y1="100.4" x2="85.4" y2="103.2" stroke="#2a2a2a" stroke-width="0.91"/>
<circle cx="85.2" cy="100.4" r="1.30" fill="#ee4420"/>
<line x1="88.7" y1="100.6" x2="88.9" y2="103.5" stroke="#2a2a2a" stroke-width="0.91"/>
<circle cx="88.7" cy="100.6" r="1.30" fill="#ee4420"/>
<line x1="92.3" y1="100.8" x2="92.5" y2="103.7" stroke="#2a2a2a" stroke-width="0.91"/>
<circle cx="92.3" cy="100.8" r="1.30" fill="#ee4420"/>
<line x1="95.8" y1="101.1" x2="96.0" y2="103.9" stroke="#2a2a2a" stroke-width="0.91"/>
<circle cx="95.8" cy="101.1" r="1.30" fill="#ee4420"/>
<line x1="99.3" y1="101.3" x2="99.5" y2="104.1" stroke="#2a2a2a" stroke-width="0.91"/>
<circle cx="99.3" cy="101.3" r="1.30" fill="#ee4420"/>
<line x1="102.8" y1="101.5" x2="103.0" y2="104.4" stroke="#2a2a2a" stroke-width="0.91"/>
<circle cx="102.8" cy="101.5" r="1.30" fill="#ee4420"/>
<line x1="106.4" y1="101.7" x2="106.6" y2="104.6" stroke="#2a2a2a" stroke-width="0.91"/>
<circle cx="106.4" cy="101.7" r="1.30" fill="#ee4420"/>
<line x1="109.9" y1="102.0" x2="110.1" y2="104.8" stroke="#2a2a2a" stroke-width="0.91"/>
<circle cx="109.9" cy="102.0" r="1.30" fill="#ee4420"/>
<line x1="113.4" y1="102.2" x2="113.6" y2="105.1" stroke="#2a2a2a" stroke-width="0.91"/>
<circle cx="113.4" cy="102.2" r="1.30" fill="#ee4420"/>
<line x1="117.0" y1="102.4" x2="117.2" y2="105.3" stroke="#2a2a2a" stroke-width="0.91"/>
<circle cx="117.0" cy="102.4" r="1.30" fill="#ee4420"/>
<line x1="120.5" y1="102.7" x2="120.7" y2="105.5" stroke="#2a2a2a" stroke-width="0.91"/>
<circle cx="120.5" cy="102.7" r="1.30" fill="#ee4420"/>
<line x1="124.0" y1="102.9" x2="124.2" y2="105.8" stroke="#2a2a2a" stroke-width="0.91"/>
<circle cx="124.0" cy="102.9" r="1.30" fill="#ee4420"/>
<line x1="127.6" y1="103.1" x2="127.8" y2="106.0" stroke="#2a2a2a" stroke-width="0.91"/>
<circle cx="127.6" cy="103.1" r="1.30" fill="#ee4420"/>
<line x1="131.1" y1="103.4" x2="131.3" y2="106.2" stroke="#2a2a2a" stroke-width="0.91"/>
<circle cx="131.1" cy="103.4" r="1.30" fill="#ee4420"/>
<line x1="134.6" y1="103.6" x2="134.8" y2="106.5" stroke="#2a2a2a" stroke-width="0.91"/>
<circle cx="134.6" cy="103.6" r="1.30" fill="#ee4420"/>
<line x1="138.1" y1="103.8" x2="138.3" y2="106.7" stroke="#2a2a2a" stroke-width="0.91"/>
<circle cx="138.1" cy="103.8" r="1.30" fill="#ee4420"/>
<line x1="141.7" y1="104.1" x2="141.9" y2="106.9" stroke="#2a2a2a" stroke-width="0.91"/>
<circle cx="141.7" cy="104.1" r="1.30" fill="#ee4420"/>
<line x1="145.2" y1="104.3" x2="145.4" y2="107.1" stroke="#2a2a2a" stroke-width="0.91"/>
<circle cx="145.2" cy="104.3" r="1.30" fill="#ee4420"/>
<line x1="148.7" y1="104.5" x2="148.9" y2="107.4" stroke="#2a2a2a" stroke-width="0.91"/>
<circle cx="148.7" cy="104.5" r="1.30" fill="#ee4420"/>
<line x1="152.3" y1="104.7" x2="152.5" y2="107.6" stroke="#2a2a2a" stroke-width="0.91"/>
<circle cx="152.3" cy="104.7" r="1.30" fill="#ee4420"/>
<line x1="155.8" y1="105.0" x2="156.0" y2="107.8" stroke="#2a2a2a" stroke-width="0.91"/>
<circle cx="155.8" cy="105.0" r="1.30" fill="#ee4420"/>
<line x1="159.3" y1="105.2" x2="159.5" y2="108.1" stroke="#2a2a2a" stroke-width="0.91"/>
<circle cx="159.3" cy="105.2" r="1.30" fill="#ee4420"/>
<line x1="56.5" y1="101.7" x2="56.7" y2="104.7" stroke="#2a2a2a" stroke-width="0.94"/>
<circle cx="56.5" cy="101.7" r="1.35" fill="#ee4420"/>
<line x1="60.2" y1="102.0" x2="60.4" y2="105.0" stroke="#2a2a2a" stroke-width="0.94"/>
<circle cx="60.2" cy="102.0" r="1.35" fill="#ee4420"/>
<line x1="63.8" y1="102.3" x2="64.0" y2="105.2" stroke="#2a2a2a" stroke-width="0.94"/>
<circle cx="63.8" cy="102.3" r="1.35" fill="#ee4420"/>
<line x1="67.4" y1="102.5" x2="67.6" y2="105.5" stroke="#2a2a2a" stroke-width="0.94"/>
<circle cx="67.4" cy="102.5" r="1.35" fill="#ee4420"/>
<line x1="71.1" y1="102.8" x2="71.3" y2="105.8" stroke="#2a2a2a" stroke-width="0.94"/>
<circle cx="71.1" cy="102.8" r="1.35" fill="#ee4420"/>
<line x1="74.7" y1="103.0" x2="74.9" y2="106.0" stroke="#2a2a2a" stroke-width="0.94"/>
<circle cx="74.7" cy="103.0" r="1.35" fill="#ee4420"/>
<line x1="78.3" y1="103.3" x2="78.5" y2="106.3" stroke="#2a2a2a" stroke-width="0.94"/>
<circle cx="78.3" cy="103.3" r="1.35" fill="#ee4420"/>
<line x1="82.0" y1="103.6" x2="82.2" y2="106.5" stroke="#2a2a2a" stroke-width="0.94"/>
<circle cx="82.0" cy="103.6" r="1.35" fill="#ee4420"/>
<line x1="85.6" y1="103.8" x2="85.8" y2="106.8" stroke="#2a2a2a" stroke-width="0.94"/>
<circle cx="85.6" cy="103.8" r="1.35" fill="#ee4420"/>
<line x1="89.2" y1="104.1" x2="89.4" y2="107.1" stroke="#2a2a2a" stroke-width="0.94"/>
<circle cx="89.2" cy="104.1" r="1.35" fill="#ee4420"/>
<line x1="92.8" y1="104.4" x2="93.0" y2="107.3" stroke="#2a2a2a" stroke-width="0.94"/>
<circle cx="92.8" cy="104.4" r="1.35" fill="#ee4420"/>
<line x1="96.5" y1="104.6" x2="96.7" y2="107.6" stroke="#2a2a2a" stroke-width="0.94"/>
<circle cx="96.5" cy="104.6" r="1.35" fill="#ee4420"/>
<line x1="100.1" y1="104.9" x2="100.3" y2="107.9" stroke="#2a2a2a" stroke-width="0.94"/>
<circle cx="100.1" cy="104.9" r="1.35" fill="#ee4420"/>
<line x1="103.7" y1="105.2" x2="103.9" y2="108.1" stroke="#2a2a2a" stroke-width="0.94"/>
<circle cx="103.7" cy="105.2" r="1.35" fill="#ee4420"/>
<line x1="107.4" y1="105.4" x2="107.6" y2="108.4" stroke="#2a2a2a" stroke-width="0.94"/>
<circle cx="107.4" cy="105.4" r="1.35" fill="#ee4420"/>
<line x1="111.0" y1="105.7" x2="111.2" y2="108.6" stroke="#2a2a2a" stroke-width="0.94"/>
<circle cx="111.0" cy="105.7" r="1.35" fill="#ee4420"/>
<line x1="114.6" y1="105.9" x2="114.8" y2="108.9" stroke="#2a2a2a" stroke-width="0.94"/>
<circle cx="114.6" cy="105.9" r="1.35" fill="#ee4420"/>
<line x1="118.3" y1="106.2" x2="118.5" y2="109.2" stroke="#2a2a2a" stroke-width="0.94"/>
<circle cx="118.3" cy="106.2" r="1.35" fill="#ee4420"/>
<line x1="121.9" y1="106.5" x2="122.1" y2="109.4" stroke="#2a2a2a" stroke-width="0.94"/>
<circle cx="121.9" cy="106.5" r="1.35" fill="#ee4420"/>
<line x1="125.5" y1="106.7" x2="125.7" y2="109.7" stroke="#2a2a2a" stroke-width="0.94"/>
<circle cx="125.5" cy="106.7" r="1.35" fill="#ee4420"/>
<line x1="129.1" y1="107.0" x2="129.3" y2="110.0" stroke="#2a2a2a" stroke-width="0.94"/>
<circle cx="129.1" cy="107.0" r="1.35" fill="#ee4420"/>
<line x1="132.8" y1="107.3" x2="133.0" y2="110.2" stroke="#2a2a2a" stroke-width="0.94"/>
<circle cx="132.8" cy="107.3" r="1.35" fill="#ee4420"/>
<line x1="136.4" y1="107.5" x2="136.6" y2="110.5" stroke="#2a2a2a" stroke-width="0.94"/>
<circle cx="136.4" cy="107.5" r="1.35" fill="#ee4420"/>
<line x1="140.0" y1="107.8" x2="140.2" y2="110.8" stroke="#2a2a2a" stroke-width="0.94"/>
<circle cx="140.0" cy="107.8" r="1.35" fill="#ee4420"/>
<line x1="143.7" y1="108.0" x2="143.9" y2="111.0" stroke="#2a2a2a" stroke-width="0.94"/>
<circle cx="143.7" cy="108.0" r="1.35" fill="#ee4420"/>
<line x1="147.3" y1="108.3" x2="147.5" y2="111.3" stroke="#2a2a2a" stroke-width="0.94"/>
<circle cx="147.3" cy="108.3" r="1.35" fill="#ee4420"/>
<line x1="150.9" y1="108.6" x2="151.1" y2="111.5" stroke="#2a2a2a" stroke-width="0.94"/>
<circle cx="150.9" cy="108.6" r="1.35" fill="#ee4420"/>
<line x1="154.6" y1="108.8" x2="154.8" y2="111.8" stroke="#2a2a2a" stroke-width="0.94"/>
<circle cx="154.6" cy="108.8" r="1.35" fill="#ee4420"/>
<line x1="158.2" y1="109.1" x2="158.4" y2="112.1" stroke="#2a2a2a" stroke-width="0.94"/>
<circle cx="158.2" cy="109.1" r="1.35" fill="#ee4420"/>
<line x1="56.2" y1="105.0" x2="56.4" y2="108.0" stroke="#2a2a2a" stroke-width="0.98"/>
<circle cx="56.2" cy="105.0" r="1.40" fill="#ee4420"/>
<line x1="60.0" y1="105.3" x2="60.2" y2="108.3" stroke="#2a2a2a" stroke-width="0.98"/>
<circle cx="60.0" cy="105.3" r="1.40" fill="#ee4420"/>
<line x1="63.7" y1="105.6" x2="63.9" y2="108.6" stroke="#2a2a2a" stroke-width="0.98"/>
<circle cx="63.7" cy="105.6" r="1.40" fill="#ee4420"/>
<line x1="67.4" y1="105.9" x2="67.6" y2="108.9" stroke="#2a2a2a" stroke-width="0.98"/>
<circle cx="67.4" cy="105.9" r="1.40" fill="#ee4420"/>
<line x1="71.2" y1="106.2" x2="71.4" y2="109.2" stroke="#2a2a2a" stroke-width="0.98"/>
<circle cx="71.2" cy="106.2" r="1.40" fill="#ee4420"/>
<line x1="74.9" y1="106.4" x2="75.1" y2="109.5" stroke="#2a2a2a" stroke-width="0.98"/>
<circle cx="74.9" cy="106.4" r="1.40" fill="#ee4420"/>
<line x1="78.6" y1="106.7" x2="78.8" y2="109.8" stroke="#2a2a2a" stroke-width="0.98"/>
<circle cx="78.6" cy="106.7" r="1.40" fill="#ee4420"/>
<line x1="82.3" y1="107.0" x2="82.5" y2="110.1" stroke="#2a2a2a" stroke-width="0.98"/>
<circle cx="82.3" cy="107.0" r="1.40" fill="#ee4420"/>
<line x1="86.1" y1="107.3" x2="86.3" y2="110.4" stroke="#2a2a2a" stroke-width="0.98"/>
<circle cx="86.1" cy="107.3" r="1.40" fill="#ee4420"/>
<line x1="89.8" y1="107.6" x2="90.0" y2="110.7" stroke="#2a2a2a" stroke-width="0.98"/>
<circle cx="89.8" cy="107.6" r="1.40" fill="#ee4420"/>
<line x1="93.5" y1="107.9" x2="93.7" y2="111.0" stroke="#2a2a2a" stroke-width="0.98"/>
<circle cx="93.5" cy="107.9" r="1.40" fill="#ee4420"/>
<line x1="97.3" y1="108.2" x2="97.5" y2="111.3" stroke="#2a2a2a" stroke-width="0.98"/>
<circle cx="97.3" cy="108.2" r="1.40" fill="#ee4420"/>
<line x1="101.0" y1="108.5" x2="101.2" y2="111.6" stroke="#2a2a2a" stroke-width="0.98"/>
<circle cx="101.0" cy="108.5" r="1.40" fill="#ee4420"/>
<line x1="104.7" y1="108.8" x2="104.9" y2="111.9" stroke="#2a2a2a" stroke-width="0.98"/>
<circle cx="104.7" cy="108.8" r="1.40" fill="#ee4420"/>
<line x1="108.5" y1="109.1" x2="108.7" y2="112.2" stroke="#2a2a2a" stroke-width="0.98"/>
<circle cx="108.5" cy="109.1" r="1.40" fill="#ee4420"/>
<line x1="112.2" y1="109.4" x2="112.4" y2="112.5" stroke="#2a2a2a" stroke-width="0.98"/>
<circle cx="112.2" cy="109.4" r="1.40" fill="#ee4420"/>
<line x1="115.9" y1="109.7" x2="116.1" y2="112.8" stroke="#2a2a2a" stroke-width="0.98"/>
<circle cx="115.9" cy="109.7" r="1.40" fill="#ee4420"/>
<line x1="119.6" y1="110.0" x2="119.8" y2="113.1" stroke="#2a2a2a" stroke-width="0.98"/>
<circle cx="119.6" cy="110.0" r="1.40" fill="#ee4420"/>
<line x1="123.4" y1="110.3" x2="123.6" y2="113.4" stroke="#2a2a2a" stroke-width="0.98"/>
<circle cx="123.4" cy="110.3" r="1.40" fill="#ee4420"/>
<line x1="127.1" y1="110.6" x2="127.3" y2="113.7" stroke="#2a2a2a" stroke-width="0.98"/>
<circle cx="127.1" cy="110.6" r="1.40" fill="#ee4420"/>
<line x1="130.8" y1="110.9" x2="131.0" y2="114.0" stroke="#2a2a2a" stroke-width="0.98"/>
<circle cx="130.8" cy="110.9" r="1.40" fill="#ee4420"/>
<line x1="134.6" y1="111.2" x2="134.8" y2="114.3" stroke="#2a2a2a" stroke-width="0.98"/>
<circle cx="134.6" cy="111.2" r="1.40" fill="#ee4420"/>
<line x1="138.3" y1="111.5" x2="138.5" y2="114.6" stroke="#2a2a2a" stroke-width="0.98"/>
<circle cx="138.3" cy="111.5" r="1.40" fill="#ee4420"/>
<line x1="142.0" y1="111.8" x2="142.2" y2="114.9" stroke="#2a2a2a" stroke-width="0.98"/>
<circle cx="142.0" cy="111.8" r="1.40" fill="#ee4420"/>
<line x1="145.8" y1="112.1" x2="146.0" y2="115.2" stroke="#2a2a2a" stroke-width="0.98"/>
<circle cx="145.8" cy="112.1" r="1.40" fill="#ee4420"/>
<line x1="149.5" y1="112.4" x2="149.7" y2="115.5" stroke="#2a2a2a" stroke-width="0.98"/>
<circle cx="149.5" cy="112.4" r="1.40" fill="#ee4420"/>
<line x1="153.2" y1="112.7" x2="153.4" y2="115.7" stroke="#2a2a2a" stroke-width="0.98"/>
<circle cx="153.2" cy="112.7" r="1.40" fill="#ee4420"/>
<line x1="156.9" y1="113.0" x2="157.1" y2="116.0" stroke="#2a2a2a" stroke-width="0.98"/>
<circle cx="156.9" cy="113.0" r="1.40" fill="#ee4420"/>
<line x1="160.7" y1="113.3" x2="160.9" y2="116.3" stroke="#2a2a2a" stroke-width="0.98"/>
<circle cx="160.7" cy="113.3" r="1.40" fill="#ee4420"/>
<line x1="52.2" y1="107.9" x2="52.4" y2="111.1" stroke="#2a2a2a" stroke-width="1.01"/>
<circle cx="52.2" cy="107.9" r="1.45" fill="#ee4420"/>
<line x1="56.0" y1="108.2" x2="56.2" y2="111.4" stroke="#2a2a2a" stroke-width="1.01"/>
<circle cx="56.0" cy="108.2" r="1.45" fill="#ee4420"/>
<line x1="59.8" y1="108.6" x2="60.0" y2="111.8" stroke="#2a2a2a" stroke-width="1.01"/>
<circle cx="59.8" cy="108.6" r="1.45" fill="#ee4420"/>
<line x1="63.7" y1="108.9" x2="63.9" y2="112.1" stroke="#2a2a2a" stroke-width="1.01"/>
<circle cx="63.7" cy="108.9" r="1.45" fill="#ee4420"/>
<line x1="67.5" y1="109.2" x2="67.7" y2="112.4" stroke="#2a2a2a" stroke-width="1.01"/>
<circle cx="67.5" cy="109.2" r="1.45" fill="#ee4420"/>
<line x1="71.3" y1="109.6" x2="71.5" y2="112.7" stroke="#2a2a2a" stroke-width="1.01"/>
<circle cx="71.3" cy="109.6" r="1.45" fill="#ee4420"/>
<line x1="75.2" y1="109.9" x2="75.4" y2="113.1" stroke="#2a2a2a" stroke-width="1.01"/>
<circle cx="75.2" cy="109.9" r="1.45" fill="#ee4420"/>
<line x1="79.0" y1="110.2" x2="79.2" y2="113.4" stroke="#2a2a2a" stroke-width="1.01"/>
<circle cx="79.0" cy="110.2" r="1.45" fill="#ee4420"/>
<line x1="82.8" y1="110.5" x2="83.0" y2="113.7" stroke="#2a2a2a" stroke-width="1.01"/>
<circle cx="82.8" cy="110.5" r="1.45" fill="#ee4420"/>
<line x1="86.7" y1="110.9" x2="86.9" y2="114.1" stroke="#2a2a2a" stroke-width="1.01"/>
<circle cx="86.7" cy="110.9" r="1.45" fill="#ee4420"/>
<line x1="90.5" y1="111.2" x2="90.7" y2="114.4" stroke="#2a2a2a" stroke-width="1.01"/>
<circle cx="90.5" cy="111.2" r="1.45" fill="#ee4420"/>
<line x1="94.3" y1="111.5" x2="94.5" y2="114.7" stroke="#2a2a2a" stroke-width="1.01"/>
<circle cx="94.3" cy="111.5" r="1.45" fill="#ee4420"/>
<line x1="98.2" y1="111.9" x2="98.4" y2="115.0" stroke="#2a2a2a" stroke-width="1.01"/>
<circle cx="98.2" cy="111.9" r="1.45" fill="#ee4420"/>
<line x1="102.0" y1="112.2" x2="102.2" y2="115.4" stroke="#2a2a2a" stroke-width="1.01"/>
<circle cx="102.0" cy="112.2" r="1.45" fill="#ee4420"/>
<line x1="105.8" y1="112.5" x2="106.0" y2="115.7" stroke="#2a2a2a" stroke-width="1.01"/>
<circle cx="105.8" cy="112.5" r="1.45" fill="#ee4420"/>
<line x1="109.6" y1="112.8" x2="109.8" y2="116.0" stroke="#2a2a2a" stroke-width="1.01"/>
<circle cx="109.6" cy="112.8" r="1.45" fill="#ee4420"/>
<line x1="113.5" y1="113.2" x2="113.7" y2="116.4" stroke="#2a2a2a" stroke-width="1.01"/>
<circle cx="113.5" cy="113.2" r="1.45" fill="#ee4420"/>
<line x1="117.3" y1="113.5" x2="117.5" y2="116.7" stroke="#2a2a2a" stroke-width="1.01"/>
<circle cx="117.3" cy="113.5" r="1.45" fill="#ee4420"/>
<line x1="121.1" y1="113.8" x2="121.3" y2="117.0" stroke="#2a2a2a" stroke-width="1.01"/>
<circle cx="121.1" cy="113.8" r="1.45" fill="#ee4420"/>
<line x1="125.0" y1="114.2" x2="125.2" y2="117.4" stroke="#2a2a2a" stroke-width="1.01"/>
<circle cx="125.0" cy="114.2" r="1.45" fill="#ee4420"/>
<line x1="128.8" y1="114.5" x2="129.0" y2="117.7" stroke="#2a2a2a" stroke-width="1.01"/>
<circle cx="128.8" cy="114.5" r="1.45" fill="#ee4420"/>
<line x1="132.6" y1="114.8" x2="132.8" y2="118.0" stroke="#2a2a2a" stroke-width="1.01"/>
<circle cx="132.6" cy="114.8" r="1.45" fill="#ee4420"/>
<line x1="136.5" y1="115.2" x2="136.7" y2="118.3" stroke="#2a2a2a" stroke-width="1.01"/>
<circle cx="136.5" cy="115.2" r="1.45" fill="#ee4420"/>
<line x1="140.3" y1="115.5" x2="140.5" y2="118.7" stroke="#2a2a2a" stroke-width="1.01"/>
<circle cx="140.3" cy="115.5" r="1.45" fill="#ee4420"/>
<line x1="144.1" y1="115.8" x2="144.3" y2="119.0" stroke="#2a2a2a" stroke-width="1.01"/>
<circle cx="144.1" cy="115.8" r="1.45" fill="#ee4420"/>
<line x1="147.9" y1="116.1" x2="148.1" y2="119.3" stroke="#2a2a2a" stroke-width="1.01"/>
<circle cx="147.9" cy="116.1" r="1.45" fill="#ee4420"/>
<line x1="151.8" y1="116.5" x2="152.0" y2="119.7" stroke="#2a2a2a" stroke-width="1.01"/>
<circle cx="151.8" cy="116.5" r="1.45" fill="#ee4420"/>
<line x1="155.6" y1="116.8" x2="155.8" y2="120.0" stroke="#2a2a2a" stroke-width="1.01"/>
<circle cx="155.6" cy="116.8" r="1.45" fill="#ee4420"/>
<line x1="159.4" y1="117.1" x2="159.6" y2="120.3" stroke="#2a2a2a" stroke-width="1.01"/>
<circle cx="159.4" cy="117.1" r="1.45" fill="#ee4420"/>
<line x1="52.0" y1="111.2" x2="52.2" y2="114.5" stroke="#2a2a2a" stroke-width="1.05"/>
<circle cx="52.0" cy="111.2" r="1.50" fill="#ee4420"/>
<line x1="55.9" y1="111.5" x2="56.1" y2="114.8" stroke="#2a2a2a" stroke-width="1.05"/>
<circle cx="55.9" cy="111.5" r="1.50" fill="#ee4420"/>
<line x1="59.8" y1="111.9" x2="60.0" y2="115.2" stroke="#2a2a2a" stroke-width="1.05"/>
<circle cx="59.8" cy="111.9" r="1.50" fill="#ee4420"/>
<line x1="63.8" y1="112.3" x2="64.0" y2="115.6" stroke="#2a2a2a" stroke-width="1.05"/>
<circle cx="63.8" cy="112.3" r="1.50" fill="#ee4420"/>
<line x1="67.7" y1="112.6" x2="67.9" y2="115.9" stroke="#2a2a2a" stroke-width="1.05"/>
<circle cx="67.7" cy="112.6" r="1.50" fill="#ee4420"/>
<line x1="71.6" y1="113.0" x2="71.8" y2="116.3" stroke="#2a2a2a" stroke-width="1.05"/>
<circle cx="71.6" cy="113.0" r="1.50" fill="#ee4420"/>
<line x1="75.6" y1="113.4" x2="75.8" y2="116.7" stroke="#2a2a2a" stroke-width="1.05"/>
<circle cx="75.6" cy="113.4" r="1.50" fill="#ee4420"/>
<line x1="79.5" y1="113.7" x2="79.7" y2="117.0" stroke="#2a2a2a" stroke-width="1.05"/>
<circle cx="79.5" cy="113.7" r="1.50" fill="#ee4420"/>
<line x1="83.4" y1="114.1" x2="83.6" y2="117.4" stroke="#2a2a2a" stroke-width="1.05"/>
<circle cx="83.4" cy="114.1" r="1.50" fill="#ee4420"/>
<line x1="87.3" y1="114.4" x2="87.5" y2="117.7" stroke="#2a2a2a" stroke-width="1.05"/>
<circle cx="87.3" cy="114.4" r="1.50" fill="#ee4420"/>
<line x1="91.3" y1="114.8" x2="91.5" y2="118.1" stroke="#2a2a2a" stroke-width="1.05"/>
<circle cx="91.3" cy="114.8" r="1.50" fill="#ee4420"/>
<line x1="95.2" y1="115.2" x2="95.4" y2="118.5" stroke="#2a2a2a" stroke-width="1.05"/>
<circle cx="95.2" cy="115.2" r="1.50" fill="#ee4420"/>
<line x1="99.1" y1="115.5" x2="99.3" y2="118.8" stroke="#2a2a2a" stroke-width="1.05"/>
<circle cx="99.1" cy="115.5" r="1.50" fill="#ee4420"/>
<line x1="103.1" y1="115.9" x2="103.3" y2="119.2" stroke="#2a2a2a" stroke-width="1.05"/>
<circle cx="103.1" cy="115.9" r="1.50" fill="#ee4420"/>
<line x1="107.0" y1="116.2" x2="107.2" y2="119.5" stroke="#2a2a2a" stroke-width="1.05"/>
<circle cx="107.0" cy="116.2" r="1.50" fill="#ee4420"/>
<line x1="110.9" y1="116.6" x2="111.1" y2="119.9" stroke="#2a2a2a" stroke-width="1.05"/>
<circle cx="110.9" cy="116.6" r="1.50" fill="#ee4420"/>
<line x1="114.9" y1="117.0" x2="115.1" y2="120.3" stroke="#2a2a2a" stroke-width="1.05"/>
<circle cx="114.9" cy="117.0" r="1.50" fill="#ee4420"/>
<line x1="118.8" y1="117.3" x2="119.0" y2="120.6" stroke="#2a2a2a" stroke-width="1.05"/>
<circle cx="118.8" cy="117.3" r="1.50" fill="#ee4420"/>
<line x1="122.7" y1="117.7" x2="122.9" y2="121.0" stroke="#2a2a2a" stroke-width="1.05"/>
<circle cx="122.7" cy="117.7" r="1.50" fill="#ee4420"/>
<line x1="126.7" y1="118.1" x2="126.9" y2="121.4" stroke="#2a2a2a" stroke-width="1.05"/>
<circle cx="126.7" cy="118.1" r="1.50" fill="#ee4420"/>
<line x1="130.6" y1="118.4" x2="130.8" y2="121.7" stroke="#2a2a2a" stroke-width="1.05"/>
<circle cx="130.6" cy="118.4" r="1.50" fill="#ee4420"/>
<line x1="134.5" y1="118.8" x2="134.7" y2="122.1" stroke="#2a2a2a" stroke-width="1.05"/>
<circle cx="134.5" cy="118.8" r="1.50" fill="#ee4420"/>
<line x1="138.4" y1="119.1" x2="138.6" y2="122.4" stroke="#2a2a2a" stroke-width="1.05"/>
<circle cx="138.4" cy="119.1" r="1.50" fill="#ee4420"/>
<line x1="142.4" y1="119.5" x2="142.6" y2="122.8" stroke="#2a2a2a" stroke-width="1.05"/>
<circle cx="142.4" cy="119.5" r="1.50" fill="#ee4420"/>
<line x1="146.3" y1="119.9" x2="146.5" y2="123.2" stroke="#2a2a2a" stroke-width="1.05"/>
<circle cx="146.3" cy="119.9" r="1.50" fill="#ee4420"/>
<line x1="150.2" y1="120.2" x2="150.4" y2="123.5" stroke="#2a2a2a" stroke-width="1.05"/>
<circle cx="150.2" cy="120.2" r="1.50" fill="#ee4420"/>
<line x1="154.2" y1="120.6" x2="154.4" y2="123.9" stroke="#2a2a2a" stroke-width="1.05"/>
<circle cx="154.2" cy="120.6" r="1.50" fill="#ee4420"/>
<line x1="158.1" y1="121.0" x2="158.3" y2="124.3" stroke="#2a2a2a" stroke-width="1.05"/>
<circle cx="158.1" cy="121.0" r="1.50" fill="#ee4420"/>
<line x1="162.0" y1="121.3" x2="162.2" y2="124.6" stroke="#2a2a2a" stroke-width="1.05"/>
<circle cx="162.0" cy="121.3" r="1.50" fill="#ee4420"/>
<polygon points="50.4,94.3 82.6,72.6 82.6,80.4 52.2,108.3" fill="#b9762a" opacity="0.85"/>
<polygon points="23.5,92.3 58.3,71.7 82.6,72.6 50.4,94.3" fill="url(#gold1)"/>
<polygon points="23.5,92.3 50.4,94.3 52.2,108.3 24.3,105.7" fill="url(#goldf)"/>
<path d="M24,102 Q28,100 31,103 T38,102 T45,104 T51.5,103 L52.2,108.3 L24.3,105.7Z" fill="#c9a43e" opacity="0.8"/>
<polygon points="156,76.1 163.1,112.4 164.1,120.5 157,84.2" fill="#c2902c"/>
<polygon points="156,76.1 180.2,77.1 204.8,108.4 163.1,112.4" fill="url(#gold1)"/>
<polygon points="163.1,112.4 204.8,108.4 204.4,121.5 164.1,120.5" fill="#d9b13c"/>
<path d="M163.5,115 Q170,113 176,116 T190,114 T204.6,115 L204.4,121.5 L164.1,120.5Z" fill="#b6ad50" opacity="0.8"/>
<polygon points="82,66 137,66 137,80 84,80" fill="#bdeef8" opacity="0.85"/>
<circle cx="87" cy="69.5" r="3.3" fill="url(#gball)"/>
<circle cx="96" cy="80.5" r="4" fill="url(#gball)"/>
<circle cx="102.6" cy="75" r="4" fill="url(#gball)"/>
<circle cx="109.6" cy="71.3" r="3.4" fill="url(#gball)"/>
<circle cx="115.7" cy="73" r="3.4" fill="url(#gball)"/>
<circle cx="117.4" cy="79" r="4" fill="url(#gball)"/>
<circle cx="123.5" cy="70.4" r="3.4" fill="url(#gball)"/>
<circle cx="127.8" cy="77.4" r="4" fill="url(#gball)"/>
<circle cx="96" cy="87" r="3.4" fill="url(#gball)"/>
<circle cx="84.3" cy="90" r="4" fill="url(#gball)"/>
<circle cx="124.8" cy="91" r="4" fill="url(#gball)"/>
<circle cx="115" cy="78.7" r="3.4" fill="url(#gball)"/>
<polygon points="67,58 101,45 139,45.3 136.5,58.5" fill="#86d0e8"/>
<polygon points="136.5,58.5 139,45.5 139,56 136.5,67.5" fill="#6cc4de"/>
<polygon points="67,58 136.5,58.5 136.5,68.5 67.5,67" fill="#4cb2d4"/>
<line x1="67" y1="62.5" x2="136.5" y2="63.5" stroke="#6cc4e0" stroke-width="0.9"/>
<line x1="111.7" y1="13" x2="111.7" y2="50" stroke="#9fd3ea" stroke-width="0.5"/>
<circle cx="111.7" cy="35.6" r="0.9" fill="#1e7fd0"/><circle cx="111.7" cy="50" r="1" fill="#1e7fd0"/>
<line x1="65.7" y1="38.6" x2="75" y2="75" stroke="#333" stroke-width="0.45"/><circle cx="65.7" cy="38.6" r="0.8" fill="#222"/>
<line x1="50.6" y1="67" x2="50.6" y2="83" stroke="#9fd3ea" stroke-width="0.5"/><circle cx="50.6" cy="83.4" r="1.1" fill="#1e7fd0"/>
<line x1="172.2" y1="68" x2="172.2" y2="86" stroke="#9fd3ea" stroke-width="0.5"/><circle cx="172.2" cy="86.4" r="1.1" fill="#1e7fd0"/>
<line x1="41.7" y1="136" x2="86" y2="117" stroke="#333" stroke-width="0.45"/><circle cx="41.7" cy="136" r="0.8" fill="#222"/>
<circle cx="198.8" cy="114.4" r="0.8" fill="#e02020"/>
<text x="115.7" y="21.6" font-size="7.2" fill="#151515" textLength="78.5" lengthAdjust="spacingAndGlyphs" >From presynaptic neuron</text>
<text x="29.3" y="34.3" font-size="7.2" fill="#151515" textLength="68.8" lengthAdjust="spacingAndGlyphs" >AlO<tspan font-size="4.5" dy="1.5">x</tspan><tspan dy="-1.5"> with Oxygen Ions</tspan></text>
<text x="39.2" y="62.7" font-size="7.2" fill="#151515" textLength="22.3" lengthAdjust="spacingAndGlyphs" >Source</text>
<text x="160.5" y="65.3" font-size="7.2" fill="#151515" textLength="29.5" lengthAdjust="spacingAndGlyphs" >Drain(Vd)</text>
<text x="156.6" y="51.6" font-size="7.2" fill="#151515" textLength="55" lengthAdjust="spacingAndGlyphs" >Neurotransmitter</text>
<text x="203.2" y="31.2" font-size="7.2" fill="#151515" textLength="36.6" lengthAdjust="spacingAndGlyphs" >Presynapse</text>
<text x="210.2" y="114.2" font-size="7.2" fill="#151515" textLength="47.5" lengthAdjust="spacingAndGlyphs" >To postsynaptic</text>
<text x="210.2" y="123.2" font-size="7.2" fill="#151515" textLength="21.9" lengthAdjust="spacingAndGlyphs" >neuron</text>
<text x="96" y="134.5" font-size="7.2" fill="#151515" textLength="28.6" lengthAdjust="spacingAndGlyphs" >Back gate</text>
<text x="18.3" y="146.8" font-size="7.2" fill="#151515" textLength="53.2" lengthAdjust="spacingAndGlyphs" >Bilayer Graphene</text>
<path d="M198,59.5 L212,59.8 Q220,61 224.5,69.5 Q229,77 245,77 Q260,77 264.5,69.5 Q268,62 274,61 L292.5,59.5 L292.5,87.7 L198,87.7 Z" fill="url(#orgin)"/>
<path d="M198,59.5 L212,59.8 Q220,61 224.5,69.5 Q229,77 245,77 Q260,77 264.5,69.5 Q268,62 274,61 L292.5,59.5" fill="none" stroke="#fde4a8" stroke-width="2.2"/>
<path d="M226,70 Q232,76 245,76 Q258,76 263.5,70 L262,72 Q256,77.5 245,77.5 Q233,77.5 227,72 Z" fill="#fde4a8"/>
<path d="M206,62.5 Q219,63 223,71 Q229,80 245,80 Q261,80 266,71 Q270,64.5 288,63" fill="none" stroke="#f7c060" stroke-width="1.5" opacity="0.8"/>
<path d="M238.5,16 L250.5,16 Q249,30 256,34.5 Q269.5,37.5 269.5,48 Q268.5,62 258.5,70 Q252,73.8 245,73.8 Q238,73.8 231.5,70 Q221.5,62 220.5,48 Q220.5,37.5 233,34.5 Q240,30 238.5,16 Z" fill="#f2907e"/>
<path d="M239,37.5 Q245,38.5 251,37.5 Q265.5,39.5 266.5,48 Q265.5,60 256.5,67.5 Q251,71.3 245,71.3 Q239,71.3 233.5,67.5 Q224.5,60 223.5,48 Q224.5,39.5 239,37.5 Z" fill="#cf5440"/>
<ellipse cx="257.5" cy="68.5" rx="4" ry="3" fill="#d45a44" stroke="#f2907e" stroke-width="1"/>
<ellipse cx="245" cy="52" rx="12" ry="8" fill="#e07a62" opacity="0.4"/>
<circle cx="233" cy="57" r="2" fill="#b63a28" stroke="#8e2a1c" stroke-width="0.4"/>
<circle cx="232.5" cy="56.7" r="0.5" fill="#f0a080"/>
<circle cx="243" cy="52.5" r="2" fill="#b63a28" stroke="#8e2a1c" stroke-width="0.4"/>
<circle cx="242.5" cy="52.2" r="0.5" fill="#f0a080"/>
<circle cx="252" cy="53" r="2" fill="#b63a28" stroke="#8e2a1c" stroke-width="0.4"/>
<circle cx="251.5" cy="52.7" r="0.5" fill="#f0a080"/>
<circle cx="238" cy="62" r="2" fill="#b63a28" stroke="#8e2a1c" stroke-width="0.4"/>
<circle cx="237.5" cy="61.7" r="0.5" fill="#f0a080"/>
<circle cx="249" cy="61.5" r="2" fill="#b63a28" stroke="#8e2a1c" stroke-width="0.4"/>
<circle cx="248.5" cy="61.2" r="0.5" fill="#f0a080"/>
<path d="M223.2,72.5 L225.1,72.5 L226,75 L226.9,72.5 L228.8,72.5 L227,77.5 L228.6,83.5 L223.4,83.5 L225,77.5Z" fill="#2fd06a"/>
<path d="M229.7,72.5 L231.6,72.5 L232.5,75 L233.4,72.5 L235.3,72.5 L233.5,77.5 L235.1,83.5 L229.9,83.5 L231.5,77.5Z" fill="#2fd06a"/>
<path d="M240.2,72.5 L242.1,72.5 L243,75 L243.9,72.5 L245.8,72.5 L244,77.5 L245.6,83.5 L240.4,83.5 L242,77.5Z" fill="#2fd06a"/>
<path d="M251.7,72.5 L253.6,72.5 L254.5,75 L255.4,72.5 L257.3,72.5 L255.5,77.5 L257.1,83.5 L251.9,83.5 L253.5,77.5Z" fill="#2fd06a"/>
<path d="M258.7,72.5 L260.6,72.5 L261.5,75 L262.4,72.5 L264.3,72.5 L262.5,77.5 L264.1,83.5 L258.9,83.5 L260.5,77.5Z" fill="#2fd06a"/>
<path d="M279,25 L287.5,15.5 Q291,14 293.5,15.5 L293.5,23 L287,31 Z" fill="#e6e4e4"/>
<ellipse cx="277" cy="31" rx="13" ry="8.8" transform="rotate(36 277 31)" fill="url(#mush)"/>
<ellipse cx="278.5" cy="33" rx="9" ry="4.5" transform="rotate(36 278.5 33)" fill="#efe0dc" opacity="0.6"/>
<circle cx="269" cy="34.5" r="0.9" fill="#555"/>
<line x1="269" y1="41.5" x2="283" y2="46.5" stroke="#667" stroke-width="0.5"/><circle cx="269" cy="41.5" r="0.8" fill="#111"/>
<circle cx="257" cy="27" r="0.75" fill="#f0a030"/>
<circle cx="259" cy="34" r="0.75" fill="#f0a030"/>
<circle cx="262.5" cy="35" r="0.75" fill="#f0a030"/>
<circle cx="266" cy="33.5" r="0.75" fill="#f0a030"/>
<circle cx="268" cy="37" r="0.75" fill="#f0a030"/>
<circle cx="272" cy="37.5" r="0.75" fill="#f0a030"/>
<circle cx="276" cy="37.5" r="0.75" fill="#f0a030"/>
<circle cx="274" cy="42.5" r="0.75" fill="#f0a030"/>
<circle cx="266" cy="43" r="0.75" fill="#f0a030"/>
<circle cx="270" cy="45.5" r="0.75" fill="#f0a030"/>
<circle cx="281" cy="48.5" r="0.75" fill="#f0a030"/>
<circle cx="205" cy="38" r="0.75" fill="#f0a030"/>
<circle cx="209" cy="43" r="0.75" fill="#f0a030"/>
<circle cx="214" cy="35" r="0.75" fill="#f0a030"/>
<circle cx="219" cy="40" r="0.75" fill="#f0a030"/>
<circle cx="212" cy="48" r="0.75" fill="#f0a030"/>
<circle cx="224" cy="30" r="0.75" fill="#f0a030"/>
<circle cx="230" cy="34" r="0.75" fill="#f0a030"/>
<circle cx="226" cy="44" r="0.75" fill="#f0a030"/>
<circle cx="207" cy="52" r="0.75" fill="#f0a030"/>
<circle cx="256" cy="20" r="0.75" fill="#f0a030"/>
<circle cx="259" cy="26" r="0.75" fill="#f0a030"/>
<circle cx="262" cy="35" r="0.75" fill="#f0a030"/>
<circle cx="268" cy="45" r="0.75" fill="#f0a030"/>
<circle cx="272" cy="52" r="0.75" fill="#f0a030"/>
<circle cx="276" cy="40" r="0.75" fill="#f0a030"/>
<circle cx="280" cy="47" r="0.75" fill="#f0a030"/>
<circle cx="285" cy="45" r="0.75" fill="#f0a030"/>
<circle cx="263" cy="50" r="0.75" fill="#f0a030"/>
<circle cx="254" cy="44" r="0.75" fill="#f0a030"/>
<circle cx="257" cy="39" r="0.75" fill="#f0a030"/>
<circle cx="246" cy="12" r="0.75" fill="#f0a030"/>
<circle cx="244" cy="8" r="0.75" fill="#f0a030"/>
<circle cx="215" cy="27" r="0.75" fill="#f0a030"/>
<circle cx="222" cy="21" r="0.75" fill="#f0a030"/>
<circle cx="270" cy="17" r="0.75" fill="#f0a030"/>
<circle cx="288" cy="48" r="0.75" fill="#f0a030"/>
<circle cx="266" cy="28" r="0.75" fill="#f0a030"/>
<text x="274.7" y="57.3" font-size="7.2" fill="#151515" textLength="51.8" lengthAdjust="spacingAndGlyphs" >Neuromodulator</text>
<text x="254.7" y="83.8" font-size="7.2" fill="#151515" textLength="36" lengthAdjust="spacingAndGlyphs" >Postsynapse</text>
<line x1="212" y1="54" x2="227" y2="69" stroke="#222" stroke-width="0.45"/>
</g>
<g id="pb">
<text class="sf" x="320.8" y="14.8" font-size="19" stroke="#000" stroke-width="0.35">b</text>
<rect x="351.7" y="24.00" width="73.60000000000002" height="14.62" fill="#efeff0"/>
<rect x="351.7" y="38.57" width="73.60000000000002" height="14.62" fill="#f4effa"/>
<rect x="351.7" y="53.13" width="73.60000000000002" height="14.62" fill="#eedcf6"/>
<rect x="351.7" y="67.70" width="73.60000000000002" height="14.62" fill="#f4effa"/>
<rect x="351.7" y="82.27" width="73.60000000000002" height="14.62" fill="#efeff3"/>
<rect x="351.7" y="96.83" width="73.60000000000002" height="14.62" fill="#fdf0e6"/>
<rect x="351.7" y="111.40" width="73.60000000000002" height="14.62" fill="#fbe5d8"/>
<rect x="351.7" y="125.97" width="73.60000000000002" height="14.62" fill="#fdf0e6"/>
<rect x="351.7" y="140.53" width="73.60000000000002" height="14.62" fill="#efeff3"/>
<line x1="388.6" y1="24" x2="388.6" y2="155.1" stroke="#999" stroke-width="0.4" stroke-dasharray="1,0.8"/>
<rect x="351.7" y="24" width="73.60000000000002" height="131.1" fill="none" stroke="#444" stroke-width="0.8"/>
<line x1="349.7" y1="147.82" x2="351.7" y2="147.82" stroke="#444" stroke-width="0.5"/>
<text x="343.6" y="149.71666666666667" font-size="5.2" fill="#222" font-weight="bold">1</text>
<line x1="349.7" y1="133.25" x2="351.7" y2="133.25" stroke="#444" stroke-width="0.5"/>
<text x="343.6" y="135.15" font-size="5.2" fill="#222" font-weight="bold">2</text>
<line x1="349.7" y1="118.68" x2="351.7" y2="118.68" stroke="#444" stroke-width="0.5"/>
<text x="343.6" y="120.58333333333334" font-size="5.2" fill="#222" font-weight="bold">3</text>
<line x1="349.7" y1="104.12" x2="351.7" y2="104.12" stroke="#444" stroke-width="0.5"/>
<text x="343.6" y="106.01666666666667" font-size="5.2" fill="#222" font-weight="bold">4</text>
<line x1="349.7" y1="89.55" x2="351.7" y2="89.55" stroke="#444" stroke-width="0.5"/>
<text x="343.6" y="91.45" font-size="5.2" fill="#222" font-weight="bold">5</text>
<line x1="349.7" y1="74.98" x2="351.7" y2="74.98" stroke="#444" stroke-width="0.5"/>
<text x="343.6" y="76.88333333333334" font-size="5.2" fill="#222" font-weight="bold">6</text>
<line x1="349.7" y1="60.42" x2="351.7" y2="60.42" stroke="#444" stroke-width="0.5"/>
<text x="343.6" y="62.31666666666666" font-size="5.2" fill="#222" font-weight="bold">7</text>
<line x1="349.7" y1="45.85" x2="351.7" y2="45.85" stroke="#444" stroke-width="0.5"/>
<text x="343.6" y="47.74999999999999" font-size="5.2" fill="#222" font-weight="bold">8</text>
<line x1="349.7" y1="31.28" x2="351.7" y2="31.28" stroke="#444" stroke-width="0.5"/>
<text x="343.6" y="33.18333333333333" font-size="5.2" fill="#222" font-weight="bold">9</text>
<line x1="352.0" y1="155.1" x2="352.0" y2="157.1" stroke="#444" stroke-width="0.5"/>
<text x="352.0" y="163.6" font-size="5.2" font-weight="bold" fill="#222" text-anchor="middle">-2</text>
<line x1="370.3" y1="155.1" x2="370.3" y2="157.1" stroke="#444" stroke-width="0.5"/>
<text x="370.3" y="163.6" font-size="5.2" font-weight="bold" fill="#222" text-anchor="middle">-1</text>
<line x1="388.6" y1="155.1" x2="388.6" y2="157.1" stroke="#444" stroke-width="0.5"/>
<text x="388.6" y="163.6" font-size="5.2" font-weight="bold" fill="#222" text-anchor="middle">0</text>
<line x1="406.9" y1="155.1" x2="406.9" y2="157.1" stroke="#444" stroke-width="0.5"/>
<text x="406.9" y="163.6" font-size="5.2" font-weight="bold" fill="#222" text-anchor="middle">1</text>
<line x1="425.2" y1="155.1" x2="425.2" y2="157.1" stroke="#444" stroke-width="0.5"/>
<text x="425.2" y="163.6" font-size="5.2" font-weight="bold" fill="#222" text-anchor="middle">2</text>
<line x1="361.2" y1="155.1" x2="361.2" y2="156.29999999999998" stroke="#444" stroke-width="0.4"/>
<line x1="379.5" y1="155.1" x2="379.5" y2="156.29999999999998" stroke="#444" stroke-width="0.4"/>
<line x1="397.8" y1="155.1" x2="397.8" y2="156.29999999999998" stroke="#444" stroke-width="0.4"/>
<line x1="416.1" y1="155.1" x2="416.1" y2="156.29999999999998" stroke="#444" stroke-width="0.4"/>
<text x="388.6" y="173.6" font-size="5.2" font-weight="bold" fill="#222" text-anchor="middle" textLength="30" lengthAdjust="spacingAndGlyphs">ΔPSC (μA)</text>
<text transform="translate(337.8,91.4) rotate(-90)" font-size="5.6" font-weight="bold" fill="#222" text-anchor="middle" textLength="47" lengthAdjust="spacingAndGlyphs">Development Step</text>
<text x="424" y="32.28" font-size="3.4" fill="#444" text-anchor="end">+9.3V</text>
<text x="424" y="46.85" font-size="3.4" fill="#444" text-anchor="end">+40V</text>
<text x="424" y="61.42" font-size="3.4" fill="#444" text-anchor="end">+30V</text>
<text x="424" y="75.98" font-size="3.4" fill="#444" text-anchor="end">+40V</text>
<text x="424" y="90.55" font-size="3.4" fill="#444" text-anchor="end">+9.3V</text>
<text x="424" y="105.12" font-size="3.4" fill="#444" text-anchor="end">-30V</text>
<text x="424" y="119.68" font-size="3.4" fill="#444" text-anchor="end">-40V</text>
<text x="424" y="134.25" font-size="3.4" fill="#444" text-anchor="end">-30V</text>
<text x="424" y="148.82" font-size="3.4" fill="#444" text-anchor="end">+9.3V</text>
<rect x="387.2" y="29.83" width="2.9" height="2.9" fill="#3a3a3a"/>
<circle cx="390.8" cy="31.28" r="1.9" fill="#ef4040"/>
<circle cx="387.7" cy="45.85" r="1.9" fill="#ef4040"/>
<rect x="388.6" y="44.40" width="2.9" height="2.9" fill="#3a3a3a"/>
<line x1="380.4" y1="60.42" x2="388.6" y2="60.42" stroke="#f07070" stroke-width="0.45"/>
<line x1="380.4" y1="59.42" x2="380.4" y2="61.42" stroke="#f07070" stroke-width="0.45"/>
<line x1="388.6" y1="59.42" x2="388.6" y2="61.42" stroke="#f07070" stroke-width="0.45"/>
<circle cx="384.9" cy="60.42" r="1.9" fill="#ef4040"/>
<rect x="389.3" y="58.97" width="2.9" height="2.9" fill="#3a3a3a"/>
<circle cx="387.7" cy="74.98" r="1.9" fill="#ef4040"/>
<rect x="388.2" y="73.53" width="2.9" height="2.9" fill="#3a3a3a"/>
<rect x="386.2" y="88.10" width="2.9" height="2.9" fill="#3a3a3a"/>
<circle cx="393.2" cy="89.55" r="1.9" fill="#ef4040"/>
<line x1="374.3" y1="104.12" x2="391.3" y2="104.12" stroke="#555" stroke-width="0.45"/>
<line x1="374.3" y1="103.12" x2="374.3" y2="105.12" stroke="#555" stroke-width="0.45"/>
<line x1="391.3" y1="103.12" x2="391.3" y2="105.12" stroke="#555" stroke-width="0.45"/>
<line x1="386.8" y1="104.12" x2="405.1" y2="104.12" stroke="#f07070" stroke-width="0.45"/>
<line x1="386.8" y1="103.12" x2="386.8" y2="105.12" stroke="#f07070" stroke-width="0.45"/>
<line x1="405.1" y1="103.12" x2="405.1" y2="105.12" stroke="#f07070" stroke-width="0.45"/>
<rect x="381.7" y="102.67" width="2.9" height="2.9" fill="#3a3a3a"/>
<circle cx="395.4" cy="104.12" r="1.9" fill="#ef4040"/>
<line x1="357.9" y1="118.68" x2="393.2" y2="118.68" stroke="#555" stroke-width="0.45"/>
<line x1="357.9" y1="117.68" x2="357.9" y2="119.68" stroke="#555" stroke-width="0.45"/>
<line x1="393.2" y1="117.68" x2="393.2" y2="119.68" stroke="#555" stroke-width="0.45"/>
<line x1="387.3" y1="118.68" x2="407.8" y2="118.68" stroke="#f07070" stroke-width="0.45"/>
<line x1="387.3" y1="117.68" x2="387.3" y2="119.68" stroke="#f07070" stroke-width="0.45"/>
<line x1="407.8" y1="117.68" x2="407.8" y2="119.68" stroke="#f07070" stroke-width="0.45"/>
<rect x="374.0" y="117.23" width="2.9" height="2.9" fill="#3a3a3a"/>
<circle cx="397.8" cy="118.68" r="1.9" fill="#ef4040"/>
<line x1="374.0" y1="133.25" x2="389.5" y2="133.25" stroke="#555" stroke-width="0.45"/>
<line x1="374.0" y1="132.25" x2="374.0" y2="134.25" stroke="#555" stroke-width="0.45"/>
<line x1="389.5" y1="132.25" x2="389.5" y2="134.25" stroke="#555" stroke-width="0.45"/>
<line x1="387.7" y1="133.25" x2="404.7" y2="133.25" stroke="#f07070" stroke-width="0.45"/>
<line x1="387.7" y1="132.25" x2="387.7" y2="134.25" stroke="#f07070" stroke-width="0.45"/>
<line x1="404.7" y1="132.25" x2="404.7" y2="134.25" stroke="#f07070" stroke-width="0.45"/>
<rect x="380.7" y="131.80" width="2.9" height="2.9" fill="#3a3a3a"/>
<circle cx="394.1" cy="133.25" r="1.9" fill="#ef4040"/>
<circle cx="386.8" cy="147.82" r="1.9" fill="#ef4040"/>
<rect x="388.2" y="146.37" width="2.9" height="2.9" fill="#3a3a3a"/>
<rect x="352.4" y="6.8" width="40" height="16" rx="0.8" fill="#fff" stroke="#999" stroke-width="0.5"/>
<rect x="360.5" y="9.8" width="2.9" height="2.9" fill="#222"/>
<circle cx="361.9" cy="18.6" r="1.8" fill="#ee2525"/>
<text x="371.6" y="12.7" font-size="3.6" fill="#333" textLength="18.4" lengthAdjust="spacingAndGlyphs">-2V pulse</text>
<text x="371.6" y="20.2" font-size="3.6" fill="#333" textLength="18.4" lengthAdjust="spacingAndGlyphs">+2V pulse</text>
<line x1="491.7" y1="11" x2="491.7" y2="159" stroke="#aaa" stroke-width="1"/>
<line x1="491.7" y1="11" x2="491.7" y2="159" stroke="#777" stroke-width="1" stroke-dasharray="0.8,2"/>
<circle cx="491.7" cy="11" r="0.9" fill="#222"/>
<line x1="440.4" y1="159.1" x2="548" y2="159.1" stroke="#999" stroke-width="0.7"/>
<circle cx="440.8" cy="159.1" r="0.8" fill="#222"/><circle cx="547.7" cy="159.1" r="0.8" fill="#222"/>
<path d="M484.8,23.599999999999998 L498.7,23.599999999999998 L498.7,26.2 L484.8,26.2 Z" fill="#7ccfe0"/>
<path d="M487.5,23.7 Q491.7,21.5 495.9,23.7 Z" fill="#7ccfe0" opacity="0.75"/>
<path d="M484.8,35.6 L498.7,35.6 L498.7,38.199999999999996 L484.8,38.199999999999996 Z" fill="#7ccfe0"/>
<path d="M487.5,35.699999999999996 Q491.7,33.5 495.9,35.699999999999996 Z" fill="#7ccfe0" opacity="0.75"/>
<path d="M484.8,80.8 L498.7,80.8 L498.7,83.39999999999999 L484.8,83.39999999999999 Z" fill="#f8c878"/>
<path d="M487.5,80.89999999999999 Q491.7,78.69999999999999 495.9,80.89999999999999 Z" fill="#f8c878" opacity="0.75"/>
<path d="M484.8,92.60000000000001 L498.7,92.60000000000001 L498.7,95.2 L484.8,95.2 Z" fill="#f8c878"/>
<path d="M487.5,92.7 Q491.7,90.5 495.9,92.7 Z" fill="#f8c878" opacity="0.75"/>
<path d="M484.8,142.2 L498.7,142.2 L498.7,144.8 L484.8,144.8 Z" fill="#f8957a"/>
<path d="M487.5,142.3 Q491.7,140.1 495.9,142.3 Z" fill="#f8957a" opacity="0.75"/>
<path d="M484.8,154.0 L498.7,154.0 L498.7,156.60000000000002 L484.8,156.60000000000002 Z" fill="#f8957a"/>
<path d="M487.5,154.10000000000002 Q491.7,151.9 495.9,154.10000000000002 Z" fill="#f8957a" opacity="0.75"/>
<text x="441.3" y="34.8" font-size="5.6" font-weight="bold" fill="#2828e0" textLength="44" lengthAdjust="spacingAndGlyphs">Inhibitory Synapse</text>
<rect x="443.6" y="37.4" width="40.4" height="46.9" fill="none" stroke="#a898f0" stroke-width="0.5" stroke-dasharray="1.2,0.6"/>
<text x="499.3" y="93.6" font-size="5.6" font-weight="bold" fill="#e81818" textLength="44.4" lengthAdjust="spacingAndGlyphs">Excitatory Synapse</text>
<rect x="500.2" y="95.6" width="40.5" height="46.7" fill="none" stroke="#f09090" stroke-width="0.5" stroke-dasharray="1.2,0.6"/>
<text x="433" y="120.3" font-size="5.6" font-weight="bold" fill="#222" textLength="42.6" lengthAdjust="spacingAndGlyphs">Isolating Neurons</text>
<line x1="475.6" y1="117.9" x2="484" y2="97.4" stroke="#c890f0" stroke-width="0.5"/>
<line x1="475.6" y1="117.9" x2="484.8" y2="140.9" stroke="#c890f0" stroke-width="0.5"/>
<line x1="484.5" y1="82" x2="491" y2="37.5" stroke="#c890f0" stroke-width="0.5"/>
<circle cx="484" cy="97.4" r="0.7" fill="#a040f0"/>
<circle cx="484.8" cy="140.9" r="0.7" fill="#a040f0"/>
<circle cx="491" cy="37.5" r="0.7" fill="#a040f0"/>
<rect x="466.5" y="40.9" width="14" height="1.6" fill="#7ccfe0"/>
<ellipse cx="473.5" cy="45.5" rx="4.8" ry="2.7" fill="#d6f0f6" stroke="#7ccfe0" stroke-width="0.35"/>
<circle cx="471.5" cy="44.9" r="0.75" fill="none" stroke="#a05848" stroke-width="0.35"/>
<circle cx="474.0" cy="44.5" r="0.75" fill="none" stroke="#a05848" stroke-width="0.35"/>
<circle cx="475.8" cy="45.7" r="0.75" fill="none" stroke="#a05848" stroke-width="0.35"/>
<circle cx="472.7" cy="46.5" r="0.75" fill="none" stroke="#a05848" stroke-width="0.35"/>
<circle cx="474.9" cy="46.7" r="0.75" fill="none" stroke="#a05848" stroke-width="0.35"/>
<ellipse cx="473.5" cy="49.099999999999994" rx="4.2" ry="1.3" fill="#f4e0cc"/>
<path d="M469.0,49.9 Q473.5,52.9 478.0,49.9" fill="#d6f0f6" stroke="#7ccfe0" stroke-width="0.6"/>
<rect x="466.5" y="52.2" width="14" height="1.6" fill="#7ccfe0"/>
<rect x="446.5" y="54" width="14" height="1.6" fill="#7ccfe0"/>
<ellipse cx="453.5" cy="58.6" rx="4.8" ry="2.7" fill="#d6f0f6" stroke="#7ccfe0" stroke-width="0.35"/>
<circle cx="451.5" cy="58.0" r="0.75" fill="none" stroke="#a05848" stroke-width="0.35"/>
<circle cx="454.0" cy="57.6" r="0.75" fill="none" stroke="#a05848" stroke-width="0.35"/>
<circle cx="455.8" cy="58.800000000000004" r="0.75" fill="none" stroke="#a05848" stroke-width="0.35"/>
<circle cx="452.7" cy="59.6" r="0.75" fill="none" stroke="#a05848" stroke-width="0.35"/>
<circle cx="454.9" cy="59.800000000000004" r="0.75" fill="none" stroke="#a05848" stroke-width="0.35"/>
<ellipse cx="453.5" cy="62.2" rx="4.2" ry="1.3" fill="#f4e0cc"/>
<path d="M449.0,63 Q453.5,66 458.0,63" fill="#d6f0f6" stroke="#7ccfe0" stroke-width="0.6"/>
<rect x="446.5" y="65.3" width="14" height="1.6" fill="#7ccfe0"/>
<rect x="466.5" y="68.4" width="14" height="1.6" fill="#7ccfe0"/>
<ellipse cx="473.5" cy="73.0" rx="4.8" ry="2.7" fill="#d6f0f6" stroke="#7ccfe0" stroke-width="0.35"/>
<circle cx="471.5" cy="72.4" r="0.75" fill="none" stroke="#a05848" stroke-width="0.35"/>
<circle cx="474.0" cy="72.0" r="0.75" fill="none" stroke="#a05848" stroke-width="0.35"/>
<circle cx="475.8" cy="73.2" r="0.75" fill="none" stroke="#a05848" stroke-width="0.35"/>
<circle cx="472.7" cy="74.0" r="0.75" fill="none" stroke="#a05848" stroke-width="0.35"/>
<circle cx="474.9" cy="74.2" r="0.75" fill="none" stroke="#a05848" stroke-width="0.35"/>
<ellipse cx="473.5" cy="76.60000000000001" rx="4.2" ry="1.3" fill="#f4e0cc"/>
<path d="M469.0,77.4 Q473.5,80.4 478.0,77.4" fill="#d6f0f6" stroke="#7ccfe0" stroke-width="0.6"/>
<rect x="466.5" y="79.7" width="14" height="1.6" fill="#7ccfe0"/>
<rect x="502.5" y="97.6" width="14" height="1.6" fill="#f8957a"/>
<ellipse cx="509.5" cy="102.19999999999999" rx="4.8" ry="2.7" fill="#fde6dc" stroke="#f8957a" stroke-width="0.35"/>
<circle cx="507.5" cy="101.6" r="0.75" fill="none" stroke="#a05848" stroke-width="0.35"/>
<circle cx="510.0" cy="101.19999999999999" r="0.75" fill="none" stroke="#a05848" stroke-width="0.35"/>
<circle cx="511.8" cy="102.39999999999999" r="0.75" fill="none" stroke="#a05848" stroke-width="0.35"/>
<circle cx="508.7" cy="103.19999999999999" r="0.75" fill="none" stroke="#a05848" stroke-width="0.35"/>
<circle cx="510.9" cy="103.39999999999999" r="0.75" fill="none" stroke="#a05848" stroke-width="0.35"/>
<ellipse cx="509.5" cy="105.8" rx="4.2" ry="1.3" fill="#fbe4c8"/>
<path d="M505.0,106.6 Q509.5,109.6 514.0,106.6" fill="#fde6dc" stroke="#f8957a" stroke-width="0.6"/>
<rect x="502.5" y="108.89999999999999" width="14" height="1.6" fill="#f8957a"/>
<rect x="520.8" y="112" width="14" height="1.6" fill="#f8957a"/>
<ellipse cx="527.8" cy="116.6" rx="4.8" ry="2.7" fill="#fde6dc" stroke="#f8957a" stroke-width="0.35"/>
<circle cx="525.8" cy="116.0" r="0.75" fill="none" stroke="#a05848" stroke-width="0.35"/>
<circle cx="528.3" cy="115.6" r="0.75" fill="none" stroke="#a05848" stroke-width="0.35"/>
<circle cx="530.0999999999999" cy="116.8" r="0.75" fill="none" stroke="#a05848" stroke-width="0.35"/>
<circle cx="527.0" cy="117.6" r="0.75" fill="none" stroke="#a05848" stroke-width="0.35"/>
<circle cx="529.1999999999999" cy="117.8" r="0.75" fill="none" stroke="#a05848" stroke-width="0.35"/>
<ellipse cx="527.8" cy="120.2" rx="4.2" ry="1.3" fill="#fbe4c8"/>
<path d="M523.3,121 Q527.8,124 532.3,121" fill="#fde6dc" stroke="#f8957a" stroke-width="0.6"/>
<rect x="520.8" y="123.3" width="14" height="1.6" fill="#f8957a"/>
<rect x="502.5" y="126.5" width="14" height="1.6" fill="#f8957a"/>
<ellipse cx="509.5" cy="131.1" rx="4.8" ry="2.7" fill="#fde6dc" stroke="#f8957a" stroke-width="0.35"/>
<circle cx="507.5" cy="130.5" r="0.75" fill="none" stroke="#a05848" stroke-width="0.35"/>
<circle cx="510.0" cy="130.1" r="0.75" fill="none" stroke="#a05848" stroke-width="0.35"/>
<circle cx="511.8" cy="131.29999999999998" r="0.75" fill="none" stroke="#a05848" stroke-width="0.35"/>
<circle cx="508.7" cy="132.1" r="0.75" fill="none" stroke="#a05848" stroke-width="0.35"/>
<circle cx="510.9" cy="132.29999999999998" r="0.75" fill="none" stroke="#a05848" stroke-width="0.35"/>
<ellipse cx="509.5" cy="134.7" rx="4.2" ry="1.3" fill="#fbe4c8"/>
<path d="M505.0,135.5 Q509.5,138.5 514.0,135.5" fill="#fde6dc" stroke="#f8957a" stroke-width="0.6"/>
<rect x="502.5" y="137.8" width="14" height="1.6" fill="#f8957a"/>
</g>
<g id="pc">
<text class="sf" x="1.4" y="184.2" font-size="19" stroke="#000" stroke-width="0.35">c</text>
<defs>
<linearGradient id="rainbow" x1="4.5" y1="0" x2="264" y2="0" gradientUnits="userSpaceOnUse">
<stop offset="0" stop-color="#c414c4"/><stop offset="0.039" stop-color="#a018d0"/><stop offset="0.075" stop-color="#6a22d8"/>
<stop offset="0.123" stop-color="#3028dc"/><stop offset="0.245" stop-color="#1f3fe0"/><stop offset="0.29" stop-color="#2070c0"/>
<stop offset="0.32" stop-color="#20a060"/><stop offset="0.349" stop-color="#30c030"/><stop offset="0.399" stop-color="#90dc20"/>
<stop offset="0.445" stop-color="#e8f010"/><stop offset="0.48" stop-color="#f8d010"/><stop offset="0.52" stop-color="#f8a010"/>
<stop offset="0.56" stop-color="#f88018"/><stop offset="0.64" stop-color="#f85020"/><stop offset="0.74" stop-color="#f02040"/>
<stop offset="0.84" stop-color="#e01880"/><stop offset="0.92" stop-color="#d010b8"/><stop offset="1" stop-color="#c810c8"/></linearGradient>
<pattern id="hexg" width="3" height="2.6" patternUnits="userSpaceOnUse"><rect width="3" height="2.6" fill="#a2b4c0"/><circle cx="1.5" cy="1.3" r="0.85" fill="none" stroke="#56708a" stroke-width="0.45"/></pattern>
<pattern id="hexg2" width="3" height="2.6" patternUnits="userSpaceOnUse"><rect width="3" height="2.6" fill="#b8d0c4"/><circle cx="1.5" cy="1.3" r="0.85" fill="none" stroke="#3f8aa8" stroke-width="0.5"/></pattern>
</defs>
<polygon points="10.2,222 53.8,238 53.8,243.4 10.8,225.7" fill="#d6b480"/>
<polygon points="53.8,238 83.4,222.7 83.4,227.9 53.8,243.4" fill="#c8a26c"/>
<polygon points="10.2,222 24,216 83.4,222.7 53.8,238" fill="#52dc74"/>
<polygon points="16.5,220.6 26,216.6 78.5,222.5 53.5,233.8" fill="url(#hexg)" opacity="0.92"/>
<rect x="23.5" y="192.8" width="28.5" height="7" fill="#c9c9c9"/>
<rect x="52" y="192.8" width="20.2" height="7" fill="#a9c2c8"/>
<rect x="24.3" y="199.8" width="47.9" height="19.2" fill="#b3bb9e"/>
<rect x="52" y="199.8" width="20.2" height="19.2" fill="#b8bfa4"/>
<rect x="44.3" y="199.8" width="6.1" height="15" fill="#2fbfc9"/>
<ellipse cx="47.5" cy="219" rx="3" ry="4.5" fill="#b18ad6" opacity="0.85"/>
<circle cx="48.5" cy="205" r="0.9" fill="#f0a030"/>
<circle cx="50.5" cy="209" r="0.9" fill="#f0a030"/>
<circle cx="46.5" cy="211" r="0.9" fill="#f0a030"/>
<circle cx="49" cy="213" r="0.9" fill="#f0a030"/>
<text x="20" y="211.2" font-size="5.4" fill="#111" textLength="21.7" lengthAdjust="spacingAndGlyphs" font-weight="bold">Filament</text>
<text x="58.3" y="211.2" font-size="5.4" fill="#111" textLength="8.7" lengthAdjust="spacingAndGlyphs" font-weight="bold">AlO<tspan font-size="3.5" dy="1">x</tspan></text>
<text x="59" y="198.8" font-size="5.4" fill="#111" textLength="3.6" lengthAdjust="spacingAndGlyphs" font-weight="bold">Al</text>
<text transform="translate(58,235) rotate(-24)" font-size="3.8" fill="#223" font-weight="bold">Graphene</text>
<polygon points="73.6,276.4 113,292 113,298.4 73.6,281.5" fill="#d8b478"/>
<polygon points="113,292 139,277 139,282.5 113,298.4" fill="#c7a068"/>
<polygon points="73.6,276.4 90,270.5 139,277 113,292" fill="#f2eaa6"/>
<polygon points="78,276.2 91,271.4 135,277.2 113,289.3" fill="url(#hexg2)" opacity="0.9"/>
<rect x="85.4" y="250" width="43.6" height="6.3" fill="#d9d2bd"/><rect x="85.4" y="250" width="43.6" height="1.6" fill="#e6e0cc"/>
<rect x="85.4" y="256.3" width="43.6" height="18.5" fill="#aab7a2"/>
<rect x="85.4" y="256.3" width="10" height="18.5" fill="#a3b09c"/>
<rect x="106" y="256.3" width="2.2" height="16" fill="#f08a5a" opacity="0.8"/>
<ellipse cx="107.3" cy="275.5" rx="2.4" ry="3.2" fill="#f0803c"/>
<circle cx="108.5" cy="261" r="0.8" fill="#f0a030"/>
<circle cx="106" cy="264.5" r="0.8" fill="#f0a030"/>
<circle cx="109" cy="267" r="0.8" fill="#f0a030"/>
<text x="80.5" y="265.7" font-size="5.2" fill="#111" textLength="21" lengthAdjust="spacingAndGlyphs" font-weight="bold">Filament</text>
<text x="118.5" y="270" font-size="5.2" fill="#111" textLength="8.5" lengthAdjust="spacingAndGlyphs" font-weight="bold">AlO<tspan font-size="3.4" dy="1">x</tspan></text>
<text x="119.5" y="256" font-size="5.2" fill="#111" textLength="3.6" lengthAdjust="spacingAndGlyphs" font-weight="bold">Al</text>
<text transform="translate(116,297) rotate(-28)" font-size="3.6" fill="#223" font-weight="bold">Graphene</text>
<path d="M86,224 Q100,226 104.5,238 L107.5,237.6 L104.5,244.5 L99.5,239 L102,238.6 Q98,230 86.5,228.5 Z" fill="#fff0e0" stroke="#f2a86a" stroke-width="0.6"/>
<path d="M84.5,258 Q72,256 66,247.5 L63.5,248.5 L62.5,241.5 L69,244 L66.8,245.5 Q73,252.5 84.5,254 Z" fill="#e6f2fc" stroke="#88bde2" stroke-width="0.6"/>
<path d="M12.7,300 L12.7,239.7 L28,239.7" fill="none" stroke="#b77ad6" stroke-width="0.9"/>
<path d="M31.5,239.7 L26.5,237.2 L27.5,239.7 L26.5,242.2 Z" fill="#b77ad6"/>
<path d="M38.7,300 L38.7,273.6 L57,273.6" fill="none" stroke="#f3884a" stroke-width="0.9"/>
<path d="M61,273.6 L55.5,271 L56.5,273.6 L55.5,276.2 Z" fill="#f3884a"/>
<text x="21.2" y="254.7" font-size="6.8" fill="#2f86c4" textLength="24.9" lengthAdjust="spacingAndGlyphs" font-weight="bold">50μA CC</text>
<text x="52.9" y="290.2" font-size="6.8" fill="#f07628" textLength="24.5" lengthAdjust="spacingAndGlyphs" font-weight="bold">50nA CC</text>
<text x="89.3" y="204.4" font-size="7.6" fill="#dc6216" textLength="57.3" lengthAdjust="spacingAndGlyphs" font-weight="bold">Programmable</text>
<text x="89.6" y="216" font-size="7.6" fill="#dc6216" textLength="55.5" lengthAdjust="spacingAndGlyphs" font-weight="bold">Metaplasticity</text>
<rect x="4.5" y="300" width="259.5" height="10.6" rx="5.3" fill="url(#rainbow)"/>
<text x="37.2" y="308.1" font-size="7.8" fill="#fff" textLength="58.1" lengthAdjust="spacingAndGlyphs" font-weight="bold">Prior Stimulation</text>
<text x="149.3" y="308.1" font-size="7.8" fill="#fff" textLength="100.3" lengthAdjust="spacingAndGlyphs" font-weight="bold">Activity-Dependent Plasticity</text>
<line x1="198.2" y1="197" x2="198.2" y2="285.5" stroke="#222" stroke-width="1"/>
<path d="M198.2,195 L196.6,199 L199.8,199 Z" fill="#222"/>
<line x1="146" y1="243.9" x2="256" y2="243.9" stroke="#222" stroke-width="1"/>
<path d="M258,243.9 L254,242.3 L254,245.5 Z" fill="#222"/>
<rect x="150" y="244.3" width="4.2" height="18.3" fill="#36b336"/>
<rect x="171.2" y="244.3" width="4.2" height="18.3" fill="#36b336"/>
<rect x="185.4" y="244.3" width="4.2" height="18.3" fill="#36b336"/>
<rect x="205.7" y="224.5" width="4.2" height="19.2" fill="#f8862a"/>
<rect x="219" y="224.5" width="4.2" height="19.2" fill="#f8862a"/>
<rect x="239.5" y="224.5" width="4.2" height="19.2" fill="#f8862a"/>
<path d="M201.4,201 C205,222 220,237 249.5,241.4" fill="none" stroke="#f06060" stroke-width="0.9"/>
<path d="M201.4,220 C206,232 220,240 242.5,241.7" fill="none" stroke="#e02020" stroke-width="1"/>
<path d="M146.4,246.3 C168,247.5 186,254 194.6,270" fill="none" stroke="#3ea8e4" stroke-width="0.95"/>
<path d="M146.4,246.8 C166,249 184,261 192.6,280.5" fill="none" stroke="#3ea8e4" stroke-width="0.95"/>
<line x1="185.4" y1="235.4" x2="148" y2="235.4" stroke="#3aab3a" stroke-width="0.6"/>
<path d="M145.5,235.4 L149.5,233.9 L149.5,236.9 Z" fill="#3aab3a"/>
<line x1="195.4" y1="238.6" x2="191" y2="238.6" stroke="#3aab3a" stroke-width="0.6"/><path d="M189,238.6 L191.5,237.5 L191.5,239.7Z" fill="#3aab3a"/>
<line x1="210.4" y1="257.5" x2="248.5" y2="257.5" stroke="#f8862a" stroke-width="0.6"/><path d="M251,257.5 L247,256 L247,259 Z" fill="#f8862a"/>
<line x1="198.6" y1="251.7" x2="202.5" y2="251.7" stroke="#f8862a" stroke-width="0.6"/><path d="M204.2,251.7 L201.8,250.6 L201.8,252.8Z" fill="#f8862a"/>
<text x="152.7" y="222.6" font-size="4.6" fill="#111" textLength="25" lengthAdjust="spacingAndGlyphs" >100 training</text>
<text x="152.7" y="228.6" font-size="4.6" fill="#111" textLength="12" lengthAdjust="spacingAndGlyphs" >pulses</text>
<text x="209.9" y="264.4" font-size="4.6" fill="#111" textLength="25" lengthAdjust="spacingAndGlyphs" >100 training</text>
<text x="209.9" y="270.4" font-size="4.6" fill="#111" textLength="12" lengthAdjust="spacingAndGlyphs" >pulses</text>
<text transform="translate(193.3,229) rotate(-90)" font-size="4.4" fill="#111" textLength="32" lengthAdjust="spacingAndGlyphs">Weight change</text>
<text transform="translate(193.6,241) rotate(-90)" font-size="4" fill="#111">-Δt</text>
<text x="199.5" y="259.7" font-size="4" fill="#111" textLength="7" lengthAdjust="spacingAndGlyphs" >+Δt</text>
<text x="249" y="239" font-size="5" fill="#111" textLength="10.4" lengthAdjust="spacingAndGlyphs" >Time</text>
<text x="155.4" y="260.4" font-size="7" fill="#111" textLength="11" lengthAdjust="spacingAndGlyphs" font-weight="bold">V<tspan font-size="4" dy="1.2">pre</tspan></text>
<text x="224" y="229.6" font-size="7" fill="#111" textLength="14" lengthAdjust="spacingAndGlyphs" font-weight="bold">V<tspan font-size="4" dy="1.2">post</tspan></text>
</g>
<g id="pd">
<text class="sf" x="274.6" y="182.2" font-size="20" stroke="#000" stroke-width="0.35">d</text>
<rect x="292.4" y="188.5" width="77.4" height="56.5" fill="#dde9f7" stroke="#777" stroke-width="0.6"/>
<line x1="292.4" y1="188.5" x2="293.9" y2="188.5" stroke="#555" stroke-width="0.4"/>
<text x="291.4" y="189.7" font-size="3.4" fill="#333" text-anchor="end">1m</text>
<line x1="292.4" y1="199.8" x2="293.9" y2="199.8" stroke="#555" stroke-width="0.4"/>
<text x="291.4" y="201.0" font-size="3.4" fill="#333" text-anchor="end">10μ</text>
<line x1="292.4" y1="211.1" x2="293.9" y2="211.1" stroke="#555" stroke-width="0.4"/>
<text x="291.4" y="212.3" font-size="3.4" fill="#333" text-anchor="end">100n</text>
<line x1="292.4" y1="222.4" x2="293.9" y2="222.4" stroke="#555" stroke-width="0.4"/>
<text x="291.4" y="223.6" font-size="3.4" fill="#333" text-anchor="end">1n</text>
<line x1="292.4" y1="233.7" x2="293.9" y2="233.7" stroke="#555" stroke-width="0.4"/>
<text x="291.4" y="234.9" font-size="3.4" fill="#333" text-anchor="end">10p</text>
<line x1="292.4" y1="245.0" x2="293.9" y2="245.0" stroke="#555" stroke-width="0.4"/>
<text x="291.4" y="246.2" font-size="3.4" fill="#333" text-anchor="end">100f</text>
<line x1="292.4" y1="245" x2="292.4" y2="243.5" stroke="#555" stroke-width="0.4"/>
<text x="292.4" y="248.8" font-size="3.3" fill="#333" text-anchor="middle">-3</text>
<line x1="303.5" y1="245" x2="303.5" y2="243.5" stroke="#555" stroke-width="0.4"/>
<text x="303.5" y="248.8" font-size="3.3" fill="#333" text-anchor="middle">-2</text>
<line x1="314.5" y1="245" x2="314.5" y2="243.5" stroke="#555" stroke-width="0.4"/>
<text x="314.5" y="248.8" font-size="3.3" fill="#333" text-anchor="middle">-1</text>
<line x1="325.6" y1="245" x2="325.6" y2="243.5" stroke="#555" stroke-width="0.4"/>
<text x="325.6" y="248.8" font-size="3.3" fill="#333" text-anchor="middle">0</text>
<line x1="336.6" y1="245" x2="336.6" y2="243.5" stroke="#555" stroke-width="0.4"/>
<text x="336.6" y="248.8" font-size="3.3" fill="#333" text-anchor="middle">1</text>
<line x1="347.7" y1="245" x2="347.7" y2="243.5" stroke="#555" stroke-width="0.4"/>
<text x="347.7" y="248.8" font-size="3.3" fill="#333" text-anchor="middle">2</text>
<line x1="358.7" y1="245" x2="358.7" y2="243.5" stroke="#555" stroke-width="0.4"/>
<text x="358.7" y="248.8" font-size="3.3" fill="#333" text-anchor="middle">3</text>
<line x1="369.8" y1="245" x2="369.8" y2="243.5" stroke="#555" stroke-width="0.4"/>
<text x="369.8" y="248.8" font-size="3.3" fill="#333" text-anchor="middle">4</text>
<text transform="translate(280.59999999999997,219.8) rotate(-90)" font-size="4.6" fill="#222" text-anchor="middle" textLength="22" lengthAdjust="spacingAndGlyphs">Current(A)</text>
<text x="331.1" y="256.2" font-size="4.8" fill="#222" text-anchor="middle" textLength="25" lengthAdjust="spacingAndGlyphs">Voltage (V)</text>
<polyline points="292.4,213.3 300.7,214.6 301.1,199.8 303.7,192.8 307.2,192 313.3,192.8 318.5,196.3 323.7,201.5 325.4,206.7 325.8,218" fill="none" stroke="#2a36d8" stroke-width="1.3" stroke-linejoin="round"/>
<polyline points="325.4,236.3 327.2,234.6 335.9,233.7 344.6,231.1 351.5,225.9 356.7,218.9 358.5,217.2 358.8,195.4 369.8,195.4" fill="none" stroke="#2a36d8" stroke-width="1.3" stroke-linejoin="round"/>
<text x="335" y="242.2" font-size="6.4" fill="#1d5e98" textLength="31.3" lengthAdjust="spacingAndGlyphs" font-weight="bold">CC at 50 μA</text>
<rect x="394.9" y="187.9" width="76.4" height="57.2" fill="#fdf2d4" stroke="#777" stroke-width="0.6"/>
<line x1="394.9" y1="187.9" x2="396.4" y2="187.9" stroke="#555" stroke-width="0.4"/>
<text x="393.9" y="189.1" font-size="3.4" fill="#333" text-anchor="end">1m</text>
<line x1="394.9" y1="199.3" x2="396.4" y2="199.3" stroke="#555" stroke-width="0.4"/>
<text x="393.9" y="200.5" font-size="3.4" fill="#333" text-anchor="end">10μ</text>
<line x1="394.9" y1="210.8" x2="396.4" y2="210.8" stroke="#555" stroke-width="0.4"/>
<text x="393.9" y="212.0" font-size="3.4" fill="#333" text-anchor="end">100n</text>
<line x1="394.9" y1="222.2" x2="396.4" y2="222.2" stroke="#555" stroke-width="0.4"/>
<text x="393.9" y="223.4" font-size="3.4" fill="#333" text-anchor="end">1n</text>
<line x1="394.9" y1="233.7" x2="396.4" y2="233.7" stroke="#555" stroke-width="0.4"/>
<text x="393.9" y="234.9" font-size="3.4" fill="#333" text-anchor="end">10p</text>
<line x1="394.9" y1="245.1" x2="396.4" y2="245.1" stroke="#555" stroke-width="0.4"/>
<text x="393.9" y="246.3" font-size="3.4" fill="#333" text-anchor="end">100f</text>
<line x1="394.9" y1="245.1" x2="394.9" y2="243.6" stroke="#555" stroke-width="0.4"/>
<text x="394.9" y="248.9" font-size="3.3" fill="#333" text-anchor="middle">-3</text>
<line x1="405.8" y1="245.1" x2="405.8" y2="243.6" stroke="#555" stroke-width="0.4"/>
<text x="405.8" y="248.9" font-size="3.3" fill="#333" text-anchor="middle">-2</text>
<line x1="416.7" y1="245.1" x2="416.7" y2="243.6" stroke="#555" stroke-width="0.4"/>
<text x="416.7" y="248.9" font-size="3.3" fill="#333" text-anchor="middle">-1</text>
<line x1="427.6" y1="245.1" x2="427.6" y2="243.6" stroke="#555" stroke-width="0.4"/>
<text x="427.6" y="248.9" font-size="3.3" fill="#333" text-anchor="middle">0</text>
<line x1="438.6" y1="245.1" x2="438.6" y2="243.6" stroke="#555" stroke-width="0.4"/>
<text x="438.6" y="248.9" font-size="3.3" fill="#333" text-anchor="middle">1</text>
<line x1="449.5" y1="245.1" x2="449.5" y2="243.6" stroke="#555" stroke-width="0.4"/>
<text x="449.5" y="248.9" font-size="3.3" fill="#333" text-anchor="middle">2</text>
<line x1="460.4" y1="245.1" x2="460.4" y2="243.6" stroke="#555" stroke-width="0.4"/>
<text x="460.4" y="248.9" font-size="3.3" fill="#333" text-anchor="middle">3</text>
<line x1="471.3" y1="245.1" x2="471.3" y2="243.6" stroke="#555" stroke-width="0.4"/>
<text x="471.3" y="248.9" font-size="3.3" fill="#333" text-anchor="middle">4</text>
<text transform="translate(383.09999999999997,219.5) rotate(-90)" font-size="4.6" fill="#222" text-anchor="middle" textLength="22" lengthAdjust="spacingAndGlyphs">Current(A)</text>
<text x="433.1" y="256.3" font-size="4.8" fill="#222" text-anchor="middle" textLength="25" lengthAdjust="spacingAndGlyphs">Voltage (V)</text>
<polyline points="394.9,230 399.6,231.7 401.3,229.1 403,231.2 405.7,217 407.4,216.1 409.1,218.7 411.7,213.5 414.3,212.1 417.8,213.5 420.4,217 422.2,220.4 427.4,237.8 427.7,240.4" fill="none" stroke="#e82222" stroke-width="1.3" stroke-linejoin="round"/>
<polyline points="428.3,236.4 439.6,235.2 445.7,233.5 446.5,230 450,228.3 455.2,224.8 457.8,221.3 458.7,213.1 471,213.1" fill="none" stroke="#e82222" stroke-width="1.3" stroke-linejoin="round"/>
<text x="436.4" y="242.8" font-size="6.4" fill="#e82222" textLength="31.3" lengthAdjust="spacingAndGlyphs" font-weight="bold">CC at 50 nA</text>
<rect x="495" y="187.9" width="76.5" height="57.2" fill="#dde9f7" stroke="#777" stroke-width="0.6"/>
<line x1="495" y1="187.9" x2="496.5" y2="187.9" stroke="#555" stroke-width="0.4"/>
<text x="494" y="189.1" font-size="3.4" fill="#333" text-anchor="end">1m</text>
<line x1="495" y1="199.3" x2="496.5" y2="199.3" stroke="#555" stroke-width="0.4"/>
<text x="494" y="200.5" font-size="3.4" fill="#333" text-anchor="end">10μ</text>
<line x1="495" y1="210.8" x2="496.5" y2="210.8" stroke="#555" stroke-width="0.4"/>
<text x="494" y="212.0" font-size="3.4" fill="#333" text-anchor="end">100n</text>
<line x1="495" y1="222.2" x2="496.5" y2="222.2" stroke="#555" stroke-width="0.4"/>
<text x="494" y="223.4" font-size="3.4" fill="#333" text-anchor="end">1n</text>
<line x1="495" y1="233.7" x2="496.5" y2="233.7" stroke="#555" stroke-width="0.4"/>
<text x="494" y="234.9" font-size="3.4" fill="#333" text-anchor="end">10p</text>
<line x1="495" y1="245.1" x2="496.5" y2="245.1" stroke="#555" stroke-width="0.4"/>
<text x="494" y="246.3" font-size="3.4" fill="#333" text-anchor="end">100f</text>
<line x1="495.0" y1="245.1" x2="495.0" y2="243.6" stroke="#555" stroke-width="0.4"/>
<text x="495.0" y="248.9" font-size="3.3" fill="#333" text-anchor="middle">-3</text>
<line x1="505.9" y1="245.1" x2="505.9" y2="243.6" stroke="#555" stroke-width="0.4"/>
<text x="505.9" y="248.9" font-size="3.3" fill="#333" text-anchor="middle">-2</text>
<line x1="516.9" y1="245.1" x2="516.9" y2="243.6" stroke="#555" stroke-width="0.4"/>
<text x="516.9" y="248.9" font-size="3.3" fill="#333" text-anchor="middle">-1</text>
<line x1="527.8" y1="245.1" x2="527.8" y2="243.6" stroke="#555" stroke-width="0.4"/>
<text x="527.8" y="248.9" font-size="3.3" fill="#333" text-anchor="middle">0</text>
<line x1="538.7" y1="245.1" x2="538.7" y2="243.6" stroke="#555" stroke-width="0.4"/>
<text x="538.7" y="248.9" font-size="3.3" fill="#333" text-anchor="middle">1</text>
<line x1="549.6" y1="245.1" x2="549.6" y2="243.6" stroke="#555" stroke-width="0.4"/>
<text x="549.6" y="248.9" font-size="3.3" fill="#333" text-anchor="middle">2</text>
<line x1="560.6" y1="245.1" x2="560.6" y2="243.6" stroke="#555" stroke-width="0.4"/>
<text x="560.6" y="248.9" font-size="3.3" fill="#333" text-anchor="middle">3</text>
<line x1="571.5" y1="245.1" x2="571.5" y2="243.6" stroke="#555" stroke-width="0.4"/>
<text x="571.5" y="248.9" font-size="3.3" fill="#333" text-anchor="middle">4</text>
<text transform="translate(483.2,219.5) rotate(-90)" font-size="4.6" fill="#222" text-anchor="middle" textLength="22" lengthAdjust="spacingAndGlyphs">Current(A)</text>
<text x="533.2" y="256.3" font-size="4.8" fill="#222" text-anchor="middle" textLength="25" lengthAdjust="spacingAndGlyphs">Voltage (V)</text>
<polyline points="495,215.6 498.5,215.6 501.1,216.6 502.8,211.7 503.7,197.8 506.3,196.1 510.7,192.3 514.1,193 520.2,194.3 524.6,197 526.3,199.6 528,218.7" fill="none" stroke="#2a36d8" stroke-width="1.3" stroke-linejoin="round"/>
<polyline points="527.2,242.2 528.9,237.8 532.4,235.2 541.1,232.6 549.8,229.1 555.9,223.9 558.5,220.4 559.9,196.1 571.5,196.1" fill="none" stroke="#2a36d8" stroke-width="1.3" stroke-linejoin="round"/>
<text x="536.7" y="242.8" font-size="6.4" fill="#1d5e98" textLength="31.3" lengthAdjust="spacingAndGlyphs" font-weight="bold">CC at 50 μA</text>
<rect x="292.4" y="268.3" width="77.4" height="57.4" fill="#fdf2d4" stroke="#777" stroke-width="0.6"/>
<line x1="292.4" y1="268.3" x2="293.9" y2="268.3" stroke="#555" stroke-width="0.4"/>
<text x="291.4" y="269.5" font-size="3.4" fill="#333" text-anchor="end">1m</text>
<line x1="292.4" y1="279.8" x2="293.9" y2="279.8" stroke="#555" stroke-width="0.4"/>
<text x="291.4" y="281.0" font-size="3.4" fill="#333" text-anchor="end">10μ</text>
<line x1="292.4" y1="291.3" x2="293.9" y2="291.3" stroke="#555" stroke-width="0.4"/>
<text x="291.4" y="292.5" font-size="3.4" fill="#333" text-anchor="end">100n</text>
<line x1="292.4" y1="302.7" x2="293.9" y2="302.7" stroke="#555" stroke-width="0.4"/>
<text x="291.4" y="303.9" font-size="3.4" fill="#333" text-anchor="end">1n</text>
<line x1="292.4" y1="314.2" x2="293.9" y2="314.2" stroke="#555" stroke-width="0.4"/>
<text x="291.4" y="315.4" font-size="3.4" fill="#333" text-anchor="end">10p</text>
<line x1="292.4" y1="325.7" x2="293.9" y2="325.7" stroke="#555" stroke-width="0.4"/>
<text x="291.4" y="326.9" font-size="3.4" fill="#333" text-anchor="end">100f</text>
<line x1="292.4" y1="325.7" x2="292.4" y2="324.2" stroke="#555" stroke-width="0.4"/>
<text x="292.4" y="329.5" font-size="3.3" fill="#333" text-anchor="middle">-3</text>
<line x1="303.5" y1="325.7" x2="303.5" y2="324.2" stroke="#555" stroke-width="0.4"/>
<text x="303.5" y="329.5" font-size="3.3" fill="#333" text-anchor="middle">-2</text>
<line x1="314.5" y1="325.7" x2="314.5" y2="324.2" stroke="#555" stroke-width="0.4"/>
<text x="314.5" y="329.5" font-size="3.3" fill="#333" text-anchor="middle">-1</text>
<line x1="325.6" y1="325.7" x2="325.6" y2="324.2" stroke="#555" stroke-width="0.4"/>
<text x="325.6" y="329.5" font-size="3.3" fill="#333" text-anchor="middle">0</text>
<line x1="336.6" y1="325.7" x2="336.6" y2="324.2" stroke="#555" stroke-width="0.4"/>
<text x="336.6" y="329.5" font-size="3.3" fill="#333" text-anchor="middle">1</text>
<line x1="347.7" y1="325.7" x2="347.7" y2="324.2" stroke="#555" stroke-width="0.4"/>
<text x="347.7" y="329.5" font-size="3.3" fill="#333" text-anchor="middle">2</text>
<line x1="358.7" y1="325.7" x2="358.7" y2="324.2" stroke="#555" stroke-width="0.4"/>
<text x="358.7" y="329.5" font-size="3.3" fill="#333" text-anchor="middle">3</text>
<line x1="369.8" y1="325.7" x2="369.8" y2="324.2" stroke="#555" stroke-width="0.4"/>
<text x="369.8" y="329.5" font-size="3.3" fill="#333" text-anchor="middle">4</text>
<text transform="translate(280.59999999999997,300.0) rotate(-90)" font-size="4.6" fill="#222" text-anchor="middle" textLength="22" lengthAdjust="spacingAndGlyphs">Current(A)</text>
<text x="331.1" y="336.9" font-size="4.8" fill="#222" text-anchor="middle" textLength="25" lengthAdjust="spacingAndGlyphs">Voltage (V)</text>
<polyline points="292.4,307.4 296.7,309.1 301.1,312.6 302.8,310.9 304.6,311.7 306.3,302.2 307.2,298.3 309.8,300.4 312.4,300.8 313.6,297.8 315.5,292.6 316.7,295.2 318.5,303.9 320.2,306.5 322,309.1 325.4,319.6 325.8,324.8" fill="none" stroke="#e82222" stroke-width="1.3" stroke-linejoin="round"/>
<polyline points="325.8,324.8 327.2,321.3 332.4,317.8 341.1,315.7 346.3,312.6 349.8,307.4 351.5,302.2 352.4,293.5 369.8,293.5" fill="none" stroke="#e82222" stroke-width="1.3" stroke-linejoin="round"/>
<text x="335" y="323.8" font-size="6.4" fill="#e82222" textLength="31.3" lengthAdjust="spacingAndGlyphs" font-weight="bold">CC at 50 nA</text>
<rect x="396.1" y="270" width="76.6" height="56.5" fill="#dde9f7" stroke="#777" stroke-width="0.6"/>
<line x1="396.1" y1="270.0" x2="397.6" y2="270.0" stroke="#555" stroke-width="0.4"/>
<text x="395.1" y="271.2" font-size="3.4" fill="#333" text-anchor="end">1m</text>
<line x1="396.1" y1="281.3" x2="397.6" y2="281.3" stroke="#555" stroke-width="0.4"/>
<text x="395.1" y="282.5" font-size="3.4" fill="#333" text-anchor="end">10μ</text>
<line x1="396.1" y1="292.6" x2="397.6" y2="292.6" stroke="#555" stroke-width="0.4"/>
<text x="395.1" y="293.8" font-size="3.4" fill="#333" text-anchor="end">100n</text>
<line x1="396.1" y1="303.9" x2="397.6" y2="303.9" stroke="#555" stroke-width="0.4"/>
<text x="395.1" y="305.1" font-size="3.4" fill="#333" text-anchor="end">1n</text>
<line x1="396.1" y1="315.2" x2="397.6" y2="315.2" stroke="#555" stroke-width="0.4"/>
<text x="395.1" y="316.4" font-size="3.4" fill="#333" text-anchor="end">10p</text>
<line x1="396.1" y1="326.5" x2="397.6" y2="326.5" stroke="#555" stroke-width="0.4"/>
<text x="395.1" y="327.7" font-size="3.4" fill="#333" text-anchor="end">100f</text>
<line x1="396.1" y1="326.5" x2="396.1" y2="325.0" stroke="#555" stroke-width="0.4"/>
<text x="396.1" y="330.3" font-size="3.3" fill="#333" text-anchor="middle">-3</text>
<line x1="407.0" y1="326.5" x2="407.0" y2="325.0" stroke="#555" stroke-width="0.4"/>
<text x="407.0" y="330.3" font-size="3.3" fill="#333" text-anchor="middle">-2</text>
<line x1="418.0" y1="326.5" x2="418.0" y2="325.0" stroke="#555" stroke-width="0.4"/>
<text x="418.0" y="330.3" font-size="3.3" fill="#333" text-anchor="middle">-1</text>
<line x1="428.9" y1="326.5" x2="428.9" y2="325.0" stroke="#555" stroke-width="0.4"/>
<text x="428.9" y="330.3" font-size="3.3" fill="#333" text-anchor="middle">0</text>
<line x1="439.9" y1="326.5" x2="439.9" y2="325.0" stroke="#555" stroke-width="0.4"/>
<text x="439.9" y="330.3" font-size="3.3" fill="#333" text-anchor="middle">1</text>
<line x1="450.8" y1="326.5" x2="450.8" y2="325.0" stroke="#555" stroke-width="0.4"/>
<text x="450.8" y="330.3" font-size="3.3" fill="#333" text-anchor="middle">2</text>
<line x1="461.8" y1="326.5" x2="461.8" y2="325.0" stroke="#555" stroke-width="0.4"/>
<text x="461.8" y="330.3" font-size="3.3" fill="#333" text-anchor="middle">3</text>
<line x1="472.7" y1="326.5" x2="472.7" y2="325.0" stroke="#555" stroke-width="0.4"/>
<text x="472.7" y="330.3" font-size="3.3" fill="#333" text-anchor="middle">4</text>
<text transform="translate(384.3,301.2) rotate(-90)" font-size="4.6" fill="#222" text-anchor="middle" textLength="22" lengthAdjust="spacingAndGlyphs">Current(A)</text>
<text x="434.4" y="337.7" font-size="4.8" fill="#222" text-anchor="middle" textLength="25" lengthAdjust="spacingAndGlyphs">Voltage (V)</text>
<polyline points="396.1,297 397.8,296.1 400.4,297 402.2,291.7 403.9,290.9 404.8,291.7 406.5,292.6 407,281.3 408.3,277 410.9,277 416.1,275.2 422.2,277 426.5,279.6 428.3,283 429.1,299.6" fill="none" stroke="#2a36d8" stroke-width="1.3" stroke-linejoin="round"/>
<polyline points="429.1,317.8 432.6,315.2 436.1,313.5 438.7,308.3 440.4,305.7 442.2,307.4 444.8,306.5 447.4,304.8 450,301.3 451.7,302.2 454.3,303.9 457,302.2 459,301.3 459.6,289.1 460.4,285.7 460.8,277.8 472.5,277.8" fill="none" stroke="#2a36d8" stroke-width="1.3" stroke-linejoin="round"/>
<text x="436" y="324.6" font-size="6.4" fill="#1d5e98" textLength="31.3" lengthAdjust="spacingAndGlyphs" font-weight="bold">CC at 50 μA</text>
<rect x="495" y="269.5" width="76.5" height="57.0" fill="#fdf2d4" stroke="#777" stroke-width="0.6"/>
<line x1="495" y1="269.5" x2="496.5" y2="269.5" stroke="#555" stroke-width="0.4"/>
<text x="494" y="270.7" font-size="3.4" fill="#333" text-anchor="end">1m</text>
<line x1="495" y1="280.9" x2="496.5" y2="280.9" stroke="#555" stroke-width="0.4"/>
<text x="494" y="282.1" font-size="3.4" fill="#333" text-anchor="end">10μ</text>
<line x1="495" y1="292.3" x2="496.5" y2="292.3" stroke="#555" stroke-width="0.4"/>
<text x="494" y="293.5" font-size="3.4" fill="#333" text-anchor="end">100n</text>
<line x1="495" y1="303.7" x2="496.5" y2="303.7" stroke="#555" stroke-width="0.4"/>
<text x="494" y="304.9" font-size="3.4" fill="#333" text-anchor="end">1n</text>
<line x1="495" y1="315.1" x2="496.5" y2="315.1" stroke="#555" stroke-width="0.4"/>
<text x="494" y="316.3" font-size="3.4" fill="#333" text-anchor="end">10p</text>
<line x1="495" y1="326.5" x2="496.5" y2="326.5" stroke="#555" stroke-width="0.4"/>
<text x="494" y="327.7" font-size="3.4" fill="#333" text-anchor="end">100f</text>
<line x1="495.0" y1="326.5" x2="495.0" y2="325.0" stroke="#555" stroke-width="0.4"/>
<text x="495.0" y="330.3" font-size="3.3" fill="#333" text-anchor="middle">-3</text>
<line x1="505.9" y1="326.5" x2="505.9" y2="325.0" stroke="#555" stroke-width="0.4"/>
<text x="505.9" y="330.3" font-size="3.3" fill="#333" text-anchor="middle">-2</text>
<line x1="516.9" y1="326.5" x2="516.9" y2="325.0" stroke="#555" stroke-width="0.4"/>
<text x="516.9" y="330.3" font-size="3.3" fill="#333" text-anchor="middle">-1</text>
<line x1="527.8" y1="326.5" x2="527.8" y2="325.0" stroke="#555" stroke-width="0.4"/>
<text x="527.8" y="330.3" font-size="3.3" fill="#333" text-anchor="middle">0</text>
<line x1="538.7" y1="326.5" x2="538.7" y2="325.0" stroke="#555" stroke-width="0.4"/>
<text x="538.7" y="330.3" font-size="3.3" fill="#333" text-anchor="middle">1</text>
<line x1="549.6" y1="326.5" x2="549.6" y2="325.0" stroke="#555" stroke-width="0.4"/>
<text x="549.6" y="330.3" font-size="3.3" fill="#333" text-anchor="middle">2</text>
<line x1="560.6" y1="326.5" x2="560.6" y2="325.0" stroke="#555" stroke-width="0.4"/>
<text x="560.6" y="330.3" font-size="3.3" fill="#333" text-anchor="middle">3</text>
<line x1="571.5" y1="326.5" x2="571.5" y2="325.0" stroke="#555" stroke-width="0.4"/>
<text x="571.5" y="330.3" font-size="3.3" fill="#333" text-anchor="middle">4</text>
<text transform="translate(483.2,301.0) rotate(-90)" font-size="4.6" fill="#222" text-anchor="middle" textLength="22" lengthAdjust="spacingAndGlyphs">Current(A)</text>
<text x="533.2" y="337.7" font-size="4.8" fill="#222" text-anchor="middle" textLength="25" lengthAdjust="spacingAndGlyphs">Voltage (V)</text>
<polyline points="495,304.8 496.7,305.3 498.5,299.6 499.3,297.8 501.1,298.3 502.8,297 504.2,300.4 506.3,300.4 508,296.6 509.8,297 511.5,294.9 514.1,294.3 516.7,296.6 519.3,302.2 522,306.5 523.7,310.9 527.2,320.4 527.5,323" fill="none" stroke="#e82222" stroke-width="1.3" stroke-linejoin="round"/>
<polyline points="528,320.4 532.4,317 541.1,314.3 549.8,310 557.6,303.9 560.2,301.3 560.6,294.3 571.5,294.3" fill="none" stroke="#e82222" stroke-width="1.3" stroke-linejoin="round"/>
<text x="537.6" y="323.8" font-size="6.4" fill="#e82222" textLength="31.3" lengthAdjust="spacingAndGlyphs" font-weight="bold">CC at 50 nA</text>
</g>
<g id="pe">
<text class="sf" x="1.4" y="355.4" font-size="19.5" stroke="#000" stroke-width="0.35">e</text>
<defs>
<pattern id="noise" width="9.0" height="9.0" patternUnits="userSpaceOnUse"><g transform="scale(0.9)"><rect x="0" y="0" width="1" height="1" fill="#505050"/><rect x="1" y="0" width="1" height="1" fill="#a8a8a8"/><rect x="2" y="0" width="1" height="1" fill="#cacaca"/><rect x="3" y="0" width="1" height="1" fill="#777777"/><rect x="4" y="0" width="1" height="1" fill="#4a4a4a"/><rect x="5" y="0" width="1" height="1" fill="#909090"/><rect x="6" y="0" width="1" height="1" fill="#aeaeae"/><rect x="7" y="0" width="1" height="1" fill="#d0d0d0"/><rect x="8" y="0" width="1" height="1" fill="#515151"/><rect x="9" y="0" width="1" height="1" fill="#4c4c4c"/><rect x="0" y="1" width="1" height="1" fill="#bababa"/><rect x="1" y="1" width="1" height="1" fill="#aeaeae"/><rect x="2" y="1" width="1" height="1" fill="#e8e8e8"/><rect x="3" y="1" width="1" height="1" fill="#cacaca"/><rect x="4" y="1" width="1" height="1" fill="#8e8e8e"/><rect x="5" y="1" width="1" height="1" fill="#848484"/><rect x="6" y="1" width="1" height="1" fill="#f0f0f0"/><rect x="7" y="1" width="1" height="1" fill="#848484"/><rect x="8" y="1" width="1" height="1" fill="#686868"/><rect x="9" y="1" width="1" height="1" fill="#555555"/><rect x="0" y="2" width="1" height="1" fill="#999999"/><rect x="1" y="2" width="1" height="1" fill="#9b9b9b"/><rect x="2" y="2" width="1" height="1" fill="#818181"/><rect x="3" y="2" width="1" height="1" fill="#909090"/><rect x="4" y="2" width="1" height="1" fill="#a3a3a3"/><rect x="5" y="2" width="1" height="1" fill="#bababa"/><rect x="6" y="2" width="1" height="1" fill="#d0d0d0"/><rect x="7" y="2" width="1" height="1" fill="#9f9f9f"/><rect x="8" y="2" width="1" height="1" fill="#313131"/><rect x="9" y="2" width="1" height="1" fill="#bababa"/><rect x="0" y="3" width="1" height="1" fill="#454545"/><rect x="1" y="3" width="1" height="1" fill="#8a8a8a"/><rect x="2" y="3" width="1" height="1" fill="#424242"/><rect x="3" y="3" width="1" height="1" fill="#949494"/><rect x="4" y="3" width="1" height="1" fill="#696969"/><rect x="5" y="3" width="1" height="1" fill="#9f9f9f"/><rect x="6" y="3" width="1" height="1" fill="#f0f0f0"/><rect x="7" y="3" width="1" height="1" fill="#919191"/><rect x="8" y="3" width="1" height="1" fill="#c2c2c2"/><rect x="9" y="3" width="1" height="1" fill="#4b4b4b"/><rect x="0" y="4" width="1" height="1" fill="#848484"/><rect x="1" y="4" width="1" height="1" fill="#b8b8b8"/><rect x="2" y="4" width="1" height="1" fill="#8e8e8e"/><rect x="3" y="4" width="1" height="1" fill="#a8a8a8"/><rect x="4" y="4" width="1" height="1" fill="#999999"/><rect x="5" y="4" width="1" height="1" fill="#5c5c5c"/><rect x="6" y="4" width="1" height="1" fill="#b3b3b3"/><rect x="7" y="4" width="1" height="1" fill="#676767"/><rect x="8" y="4" width="1" height="1" fill="#f0f0f0"/><rect x="9" y="4" width="1" height="1" fill="#787878"/><rect x="0" y="5" width="1" height="1" fill="#b9b9b9"/><rect x="1" y="5" width="1" height="1" fill="#949494"/><rect x="2" y="5" width="1" height="1" fill="#c8c8c8"/><rect x="3" y="5" width="1" height="1" fill="#727272"/><rect x="4" y="5" width="1" height="1" fill="#cacaca"/><rect x="5" y="5" width="1" height="1" fill="#8d8d8d"/><rect x="6" y="5" width="1" height="1" fill="#d9d9d9"/><rect x="7" y="5" width="1" height="1" fill="#b6b6b6"/><rect x="8" y="5" width="1" height="1" fill="#9b9b9b"/><rect x="9" y="5" width="1" height="1" fill="#696969"/><rect x="0" y="6" width="1" height="1" fill="#bebebe"/><rect x="1" y="6" width="1" height="1" fill="#adadad"/><rect x="2" y="6" width="1" height="1" fill="#eeeeee"/><rect x="3" y="6" width="1" height="1" fill="#7f7f7f"/><rect x="4" y="6" width="1" height="1" fill="#b2b2b2"/><rect x="5" y="6" width="1" height="1" fill="#afafaf"/><rect x="6" y="6" width="1" height="1" fill="#a3a3a3"/><rect x="7" y="6" width="1" height="1" fill="#9f9f9f"/><rect x="8" y="6" width="1" height="1" fill="#9e9e9e"/><rect x="9" y="6" width="1" height="1" fill="#737373"/><rect x="0" y="7" width="1" height="1" fill="#5c5c5c"/><rect x="1" y="7" width="1" height="1" fill="#7e7e7e"/><rect x="2" y="7" width="1" height="1" fill="#b4b4b4"/><rect x="3" y="7" width="1" height="1" fill="#e7e7e7"/><rect x="4" y="7" width="1" height="1" fill="#c9c9c9"/><rect x="5" y="7" width="1" height="1" fill="#cdcdcd"/><rect x="6" y="7" width="1" height="1" fill="#bebebe"/><rect x="7" y="7" width="1" height="1" fill="#bababa"/><rect x="8" y="7" width="1" height="1" fill="#9e9e9e"/><rect x="9" y="7" width="1" height="1" fill="#bebebe"/><rect x="0" y="8" width="1" height="1" fill="#f0f0f0"/><rect x="1" y="8" width="1" height="1" fill="#818181"/><rect x="2" y="8" width="1" height="1" fill="#6d6d6d"/><rect x="3" y="8" width="1" height="1" fill="#f0f0f0"/><rect x="4" y="8" width="1" height="1" fill="#a1a1a1"/><rect x="5" y="8" width="1" height="1" fill="#c9c9c9"/><rect x="6" y="8" width="1" height="1" fill="#c4c4c4"/><rect x="7" y="8" width="1" height="1" fill="#555555"/><rect x="8" y="8" width="1" height="1" fill="#f0f0f0"/><rect x="9" y="8" width="1" height="1" fill="#f0f0f0"/><rect x="0" y="9" width="1" height="1" fill="#9d9d9d"/><rect x="1" y="9" width="1" height="1" fill="#bdbdbd"/><rect x="2" y="9" width="1" height="1" fill="#9a9a9a"/><rect x="3" y="9" width="1" height="1" fill="#636363"/><rect x="4" y="9" width="1" height="1" fill="#8d8d8d"/><rect x="5" y="9" width="1" height="1" fill="#a8a8a8"/><rect x="6" y="9" width="1" height="1" fill="#d1d1d1"/><rect x="7" y="9" width="1" height="1" fill="#bbbbbb"/><rect x="8" y="9" width="1" height="1" fill="#979797"/><rect x="9" y="9" width="1" height="1" fill="#dedede"/></g></pattern>
<linearGradient id="boxg" x1="0" y1="0" x2="1" y2="0"><stop offset="0" stop-color="#dedede"/><stop offset="0.55" stop-color="#e6e6e6"/><stop offset="0.6" stop-color="#f3f3f3"/><stop offset="1" stop-color="#ececec"/></linearGradient>
<radialGradient id="bglow" cx="0.5" cy="0.5" r="0.5"><stop offset="0" stop-color="#4fc0c8"/><stop offset="1" stop-color="#2d58b0"/></radialGradient>
<radialGradient id="agp" cx="0.35" cy="0.35" r="0.7"><stop offset="0" stop-color="#fde0c8"/><stop offset="1" stop-color="#d98850"/></radialGradient>
<radialGradient id="agb" cx="0.35" cy="0.35" r="0.7"><stop offset="0" stop-color="#e8e8e8"/><stop offset="0.6" stop-color="#7a7a7a"/><stop offset="1" stop-color="#333"/></radialGradient>
</defs>
<rect x="7.5" y="404.8" width="51.5" height="31.0" fill="url(#boxg)"/>
<line x1="7.8" y1="404.8" x2="7.8" y2="435.8" stroke="#c8c8c8" stroke-width="0.5"/>
<line x1="58.7" y1="404.8" x2="58.7" y2="435.8" stroke="#d0d0d0" stroke-width="0.5"/>
<polygon points="7.5,437.0 10.5,435.40000000000003 57.5,436.0 59,437.6 36.9,439.8" fill="#1d3684"/>
<ellipse cx="30.7" cy="437.6" rx="11.3" ry="1.3" fill="#3aa6b4" opacity="0.55"/>
<polygon points="7.5,437.0 36.9,439.8 36.9,449.40000000000003 7.5,444.6" fill="#2a4db0"/>
<polygon points="36.9,439.8 59,437.6 59,444.6 36.9,449.40000000000003" fill="#1e3a92"/>
<circle cx="10.5" cy="440.3" r="1" fill="#e8e0c0"/>
<polygon points="7.5,398.5 13.5,393.5 54,393.5 59,397.5 59,404.8 7.5,404.8" fill="url(#noise)"/>
<polygon points="7.5,398.5 13.5,393.5 54,393.5 59,397.5" fill="#d0d0d0" opacity="0.3"/>
<polygon points="7.5,398.5 59,397.5 59,404.8 7.5,404.8" fill="#000" opacity="0.22"/>
<rect x="7.5" y="403.8" width="51.5" height="1.2" fill="#2a2a2a"/>
<circle cx="36" cy="414.5" r="1" fill="#222"/><circle cx="29" cy="423" r="1" fill="#444"/>
<text x="20.3" y="432.2" font-size="6.3" fill="#111" textLength="25.2" lengthAdjust="spacingAndGlyphs" >N-GOQDs</text>
<rect x="81.8" y="371.5" width="54.000000000000014" height="32.5" fill="url(#boxg)"/>
<line x1="82.1" y1="371.5" x2="82.1" y2="404" stroke="#c8c8c8" stroke-width="0.5"/>
<line x1="135.5" y1="371.5" x2="135.5" y2="404" stroke="#d0d0d0" stroke-width="0.5"/>
<polygon points="81.8,405.2 84.8,403.6 134.3,404.2 135.8,405.8 112.6,408" fill="#1d3684"/>
<ellipse cx="106.1" cy="405.8" rx="11.9" ry="1.3" fill="#3aa6b4" opacity="0.55"/>
<polygon points="81.8,405.2 112.6,408 112.6,417.6 81.8,412.8" fill="#2a4db0"/>
<polygon points="112.6,408 135.8,405.8 135.8,412.8 112.6,417.6" fill="#1e3a92"/>
<circle cx="84.8" cy="408.5" r="1" fill="#e8e0c0"/>
<polygon points="81.8,362.7 87.8,357.7 130.8,357.7 135.8,361.7 135.8,371.5 81.8,371.5" fill="url(#noise)"/>
<polygon points="81.8,362.7 87.8,357.7 130.8,357.7 135.8,361.7" fill="#d0d0d0" opacity="0.3"/>
<polygon points="81.8,362.7 135.8,361.7 135.8,371.5 81.8,371.5" fill="#000" opacity="0.22"/>
<rect x="81.8" y="370.5" width="54.000000000000014" height="1.2" fill="#2a2a2a"/>
<circle cx="107.0" cy="372.5" r="1.9" fill="url(#agb)"/>
<circle cx="107.0" cy="374.4" r="1.9" fill="url(#agb)"/>
<circle cx="109.0" cy="376.3" r="1.9" fill="url(#agb)"/>
<circle cx="109.0" cy="378.2" r="1.9" fill="url(#agb)"/>
<circle cx="107.0" cy="380.1" r="1.9" fill="url(#agb)"/>
<circle cx="107.0" cy="382.0" r="1.9" fill="url(#agb)"/>
<circle cx="109.0" cy="383.9" r="1.9" fill="url(#agb)"/>
<circle cx="109.0" cy="385.8" r="1.9" fill="url(#agb)"/>
<circle cx="107.0" cy="387.7" r="1.9" fill="url(#agb)"/>
<circle cx="107.0" cy="389.6" r="1.9" fill="url(#agb)"/>
<circle cx="109.0" cy="391.5" r="1.9" fill="url(#agb)"/>
<circle cx="109.0" cy="393.4" r="1.9" fill="url(#agb)"/>
<circle cx="107.0" cy="395.3" r="1.9" fill="url(#agb)"/>
<circle cx="107.0" cy="397.2" r="1.9" fill="url(#agb)"/>
<circle cx="109.0" cy="399.1" r="1.9" fill="url(#agb)"/>
<circle cx="109.0" cy="401.0" r="1.9" fill="url(#agb)"/>
<circle cx="107.0" cy="402.9" r="1.9" fill="url(#agb)"/>
<line x1="98" y1="372" x2="99" y2="380" stroke="#c8a070" stroke-width="0.5"/>
<circle cx="99" cy="380" r="1.4" fill="url(#agp)"/>
<line x1="119" y1="372" x2="117.5" y2="378.5" stroke="#c8a070" stroke-width="0.5"/>
<circle cx="117.5" cy="378.5" r="1.4" fill="url(#agp)"/>
<circle cx="98.5" cy="390" r="1.4" fill="url(#agp)"/>
<circle cx="99" cy="398" r="1.4" fill="url(#agp)"/>
<line x1="111" y1="402" x2="115" y2="397" stroke="#c8a070" stroke-width="0.5"/>
<circle cx="115" cy="397" r="1.4" fill="url(#agp)"/>
<rect x="155" y="370.6" width="54" height="33.099999999999966" fill="url(#boxg)"/>
<line x1="155.3" y1="370.6" x2="155.3" y2="403.7" stroke="#c8c8c8" stroke-width="0.5"/>
<line x1="208.7" y1="370.6" x2="208.7" y2="403.7" stroke="#d0d0d0" stroke-width="0.5"/>
<polygon points="155,404.9 158,403.3 207.5,403.9 209,405.5 185.8,407.7" fill="#1d3684"/>
<ellipse cx="179.3" cy="405.5" rx="11.9" ry="1.3" fill="#3aa6b4" opacity="0.55"/>
<polygon points="155,404.9 185.8,407.7 185.8,417.3 155,412.5" fill="#2a4db0"/>
<polygon points="185.8,407.7 209,405.5 209,412.5 185.8,417.3" fill="#1e3a92"/>
<circle cx="158" cy="408.2" r="1" fill="#e8e0c0"/>
<polygon points="155,364.4 161,359.4 204,359.4 209,363.4 209,370.6 155,370.6" fill="url(#noise)"/>
<polygon points="155,364.4 161,359.4 204,359.4 209,363.4" fill="#d0d0d0" opacity="0.3"/>
<polygon points="155,364.4 209,363.4 209,370.6 155,370.6" fill="#000" opacity="0.22"/>
<rect x="155" y="369.6" width="54" height="1.2" fill="#2a2a2a"/>
<circle cx="180.4" cy="378.0" r="1.9" fill="url(#agb)"/>
<circle cx="180.4" cy="379.9" r="1.9" fill="url(#agb)"/>
<circle cx="182.6" cy="381.8" r="1.9" fill="url(#agb)"/>
<circle cx="182.6" cy="383.7" r="1.9" fill="url(#agb)"/>
<circle cx="180.4" cy="390.0" r="1.9" fill="url(#agb)"/>
<circle cx="180.4" cy="391.9" r="1.9" fill="url(#agb)"/>
<circle cx="182.6" cy="393.8" r="1.9" fill="url(#agb)"/>
<circle cx="182.6" cy="395.7" r="1.9" fill="url(#agb)"/>
<circle cx="180.4" cy="397.6" r="1.9" fill="url(#agb)"/>
<circle cx="180.4" cy="399.5" r="1.9" fill="url(#agb)"/>
<circle cx="173.5" cy="378" r="1.4" fill="url(#agp)"/>
<circle cx="190" cy="387" r="1.4" fill="url(#agp)"/>
<circle cx="171" cy="392" r="1.4" fill="url(#agp)"/>
<path d="M174,382 Q169,382 169,385 Q169,388 174,388" fill="none" stroke="#fff" stroke-width="2.6" opacity="0.8"/>
<path d="M174,382 Q169,382 169,385 Q169,388 174,388" fill="none" stroke="#e01818" stroke-width="1.6"/>
<path d="M187,375 Q192,375 192,378 Q192,381 187,381" fill="none" stroke="#fff" stroke-width="2.6" opacity="0.8"/>
<path d="M187,375 Q192,375 192,378 Q192,381 187,381" fill="none" stroke="#e01818" stroke-width="1.6"/>
<rect x="82" y="443.6" width="54.80000000000001" height="33.39999999999998" fill="url(#boxg)"/>
<line x1="82.3" y1="443.6" x2="82.3" y2="477" stroke="#c8c8c8" stroke-width="0.5"/>
<line x1="136.5" y1="443.6" x2="136.5" y2="477" stroke="#d0d0d0" stroke-width="0.5"/>
<polygon points="82,478.2 85,476.6 135.3,477.2 136.8,478.8 113.2,481" fill="#1d3684"/>
<ellipse cx="106.7" cy="478.8" rx="12.1" ry="1.3" fill="#3aa6b4" opacity="0.55"/>
<polygon points="82,478.2 113.2,481 113.2,490.6 82,485.8" fill="#2a4db0"/>
<polygon points="113.2,481 136.8,478.8 136.8,485.8 113.2,490.6" fill="#1e3a92"/>
<circle cx="85" cy="481.5" r="1" fill="#e8e0c0"/>
<polygon points="82,435.5 88,430.5 131.8,430.5 136.8,434.5 136.8,443.6 82,443.6" fill="url(#noise)"/>
<polygon points="82,435.5 88,430.5 131.8,430.5 136.8,434.5" fill="#d0d0d0" opacity="0.3"/>
<polygon points="82,435.5 136.8,434.5 136.8,443.6 82,443.6" fill="#000" opacity="0.22"/>
<rect x="82" y="442.6" width="54.80000000000001" height="1.2" fill="#2a2a2a"/>
<circle cx="106.6" cy="444.5" r="1.9" fill="url(#agb)"/>
<circle cx="106.6" cy="446.4" r="1.9" fill="url(#agb)"/>
<circle cx="109.4" cy="448.3" r="1.9" fill="url(#agb)"/>
<circle cx="109.4" cy="450.2" r="1.9" fill="url(#agb)"/>
<circle cx="106.6" cy="452.1" r="1.9" fill="url(#agb)"/>
<circle cx="106.6" cy="454.0" r="1.9" fill="url(#agb)"/>
<circle cx="109.4" cy="455.9" r="1.9" fill="url(#agb)"/>
<circle cx="109.4" cy="457.8" r="1.9" fill="url(#agb)"/>
<circle cx="106.6" cy="459.7" r="1.9" fill="url(#agb)"/>
<circle cx="106.6" cy="461.6" r="1.9" fill="url(#agb)"/>
<circle cx="109.4" cy="463.5" r="1.9" fill="url(#agb)"/>
<circle cx="109.4" cy="465.4" r="1.9" fill="url(#agb)"/>
<circle cx="106.6" cy="467.3" r="1.9" fill="url(#agb)"/>
<circle cx="106.6" cy="469.2" r="1.9" fill="url(#agb)"/>
<circle cx="109.4" cy="471.1" r="1.9" fill="url(#agb)"/>
<circle cx="109.4" cy="473.0" r="1.9" fill="url(#agb)"/>
<circle cx="106.6" cy="474.9" r="1.9" fill="url(#agb)"/>
<line x1="93" y1="444" x2="95" y2="452" stroke="#c8a070" stroke-width="0.5"/>
<circle cx="95" cy="452" r="1.4" fill="url(#agp)"/>
<line x1="98" y1="444" x2="100" y2="452" stroke="#c8a070" stroke-width="0.5"/>
<circle cx="100" cy="452" r="1.4" fill="url(#agp)"/>
<line x1="117" y1="444" x2="115.5" y2="448.5" stroke="#c8a070" stroke-width="0.5"/>
<circle cx="115.5" cy="448.5" r="1.4" fill="url(#agp)"/>
<line x1="121" y1="444" x2="121" y2="451.5" stroke="#c8a070" stroke-width="0.5"/>
<circle cx="121" cy="451.5" r="1.4" fill="url(#agp)"/>
<line x1="126" y1="444" x2="126" y2="452" stroke="#c8a070" stroke-width="0.5"/>
<circle cx="126" cy="452" r="1.4" fill="url(#agp)"/>
<circle cx="101.5" cy="456" r="1.4" fill="url(#agp)"/>
<line x1="110" y1="463" x2="114.5" y2="458" stroke="#c8a070" stroke-width="0.5"/>
<circle cx="114.5" cy="458" r="1.4" fill="url(#agp)"/>
<circle cx="99" cy="462.5" r="1.4" fill="url(#agp)"/>
<line x1="108" y1="472" x2="113" y2="467" stroke="#c8a070" stroke-width="0.5"/>
<circle cx="113" cy="467" r="1.4" fill="url(#agp)"/>
<circle cx="102" cy="468" r="1.4" fill="url(#agp)"/>
<rect x="155.3" y="442" width="54.69999999999999" height="33.5" fill="url(#boxg)"/>
<line x1="155.60000000000002" y1="442" x2="155.60000000000002" y2="475.5" stroke="#c8c8c8" stroke-width="0.5"/>
<line x1="209.7" y1="442" x2="209.7" y2="475.5" stroke="#d0d0d0" stroke-width="0.5"/>
<polygon points="155.3,476.7 158.3,475.1 208.5,475.7 210,477.3 186.5,479.5" fill="#1d3684"/>
<ellipse cx="179.9" cy="477.3" rx="12.0" ry="1.3" fill="#3aa6b4" opacity="0.55"/>
<polygon points="155.3,476.7 186.5,479.5 186.5,489.1 155.3,484.3" fill="#2a4db0"/>
<polygon points="186.5,479.5 210,477.3 210,484.3 186.5,489.1" fill="#1e3a92"/>
<circle cx="158.3" cy="480.0" r="1" fill="#e8e0c0"/>
<polygon points="155.3,435.5 161.3,430.5 205,430.5 210,434.5 210,442 155.3,442" fill="url(#noise)"/>
<polygon points="155.3,435.5 161.3,430.5 205,430.5 210,434.5" fill="#d0d0d0" opacity="0.3"/>
<polygon points="155.3,435.5 210,434.5 210,442 155.3,442" fill="#000" opacity="0.22"/>
<rect x="155.3" y="441" width="54.69999999999999" height="1.2" fill="#2a2a2a"/>
<circle cx="180.1" cy="443.0" r="1.9" fill="url(#agb)"/>
<circle cx="180.1" cy="444.9" r="1.9" fill="url(#agb)"/>
<circle cx="182.9" cy="446.8" r="1.9" fill="url(#agb)"/>
<circle cx="182.9" cy="448.7" r="1.9" fill="url(#agb)"/>
<circle cx="180.1" cy="450.6" r="1.9" fill="url(#agb)"/>
<circle cx="180.1" cy="452.5" r="1.9" fill="url(#agb)"/>
<circle cx="182.9" cy="454.4" r="1.9" fill="url(#agb)"/>
<circle cx="182.9" cy="456.3" r="1.9" fill="url(#agb)"/>
<circle cx="180.1" cy="458.2" r="1.9" fill="url(#agb)"/>
<circle cx="180.1" cy="460.1" r="1.9" fill="url(#agb)"/>
<circle cx="182.9" cy="462.0" r="1.9" fill="url(#agb)"/>
<circle cx="182.9" cy="463.9" r="1.9" fill="url(#agb)"/>
<circle cx="180.1" cy="465.8" r="1.9" fill="url(#agb)"/>
<circle cx="180.1" cy="467.7" r="1.9" fill="url(#agb)"/>
<circle cx="182.9" cy="469.6" r="1.9" fill="url(#agb)"/>
<circle cx="182.9" cy="471.5" r="1.9" fill="url(#agb)"/>
<circle cx="180.1" cy="473.4" r="1.9" fill="url(#agb)"/>
<circle cx="173" cy="447.5" r="1.4" fill="url(#agp)"/>
<circle cx="190.5" cy="453" r="1.4" fill="url(#agp)"/>
<circle cx="167.5" cy="455.5" r="1.4" fill="url(#agp)"/>
<circle cx="174.5" cy="461" r="1.4" fill="url(#agp)"/>
<circle cx="194" cy="459.5" r="1.4" fill="url(#agp)"/>
<circle cx="190.5" cy="467.5" r="1.4" fill="url(#agp)"/>
<path d="M177,451.5 Q172,451.5 172,454.5 Q172,457.5 177,457.5" fill="none" stroke="#fff" stroke-width="2.6" opacity="0.8"/>
<path d="M177,451.5 Q172,451.5 172,454.5 Q172,457.5 177,457.5" fill="none" stroke="#e01818" stroke-width="1.6"/>
<path d="M187.5,446.5 Q192.5,446.5 192.5,449.5 Q192.5,452.5 187.5,452.5" fill="none" stroke="#fff" stroke-width="2.6" opacity="0.8"/>
<path d="M187.5,446.5 Q192.5,446.5 192.5,449.5 Q192.5,452.5 187.5,452.5" fill="none" stroke="#e01818" stroke-width="1.6"/>
<path d="M187.5,458 Q192.5,458 192.5,461 Q192.5,464 187.5,464" fill="none" stroke="#fff" stroke-width="2.6" opacity="0.8"/>
<path d="M187.5,458 Q192.5,458 192.5,461 Q192.5,464 187.5,464" fill="none" stroke="#e01818" stroke-width="1.6"/>
<text x="21.8" y="388.6" font-size="6.2" fill="#111" textLength="21.8" lengthAdjust="spacingAndGlyphs" font-style="italic" font-weight="bold">Pristine</text>
<text x="92.3" y="354.0" font-size="6.2" fill="#111" textLength="33.8" lengthAdjust="spacingAndGlyphs" font-style="italic" font-weight="bold">Weak pulses</text>
<text x="161.5" y="354.2" font-size="6.2" fill="#111" textLength="42.7" lengthAdjust="spacingAndGlyphs" font-style="italic" font-weight="bold">Pulses removed</text>
<text x="92.7" y="428.3" font-size="6.2" fill="#111" textLength="36.7" lengthAdjust="spacingAndGlyphs" font-style="italic" font-weight="bold">Strong pulses</text>
<text x="163.5" y="427.6" font-size="6.2" fill="#111" textLength="42.5" lengthAdjust="spacingAndGlyphs" font-style="italic" font-weight="bold">Pulses removed</text>
<text x="140.5" y="386.2" font-size="7.4" fill="#111" textLength="12.9" lengthAdjust="spacingAndGlyphs" font-style="italic" font-weight="bold">STP</text>
<text x="141.4" y="457.3" font-size="7.4" fill="#111" textLength="11.5" lengthAdjust="spacingAndGlyphs" font-style="italic" font-weight="bold">LTP</text>
<circle cx="18" cy="462.3" r="1.4" fill="url(#agp)"/>
<circle cx="18" cy="468.8" r="1.4" fill="url(#agb)"/>
<text x="23" y="463.9" font-size="4.8" fill="#111" >Ag<tspan font-size="3" dy="-1.6">+</tspan></text>
<text x="23" y="470.6" font-size="4.8" fill="#111" >Ag</text>
<line x1="14.5" y1="475.6" x2="20" y2="475.6" stroke="#e01818" stroke-width="1.4"/><path d="M22.5,475.6 L19.5,473.8 L19.5,477.4Z" fill="#e01818"/>
<text x="24.2" y="477.4" font-size="4.8" fill="#111" textLength="33.8" lengthAdjust="spacingAndGlyphs" >Ag Self rupture</text>
<defs><linearGradient id="brk" x1="0" y1="0" x2="0" y2="1"><stop offset="0" stop-color="#d8d8d8"/><stop offset="0.5" stop-color="#a8a8a8"/><stop offset="1" stop-color="#d0d0d0"/></linearGradient></defs>
<rect x="65.5" y="390" width="1" height="68" fill="url(#brk)"/>
<rect x="65.5" y="390" width="2" height="0.8" fill="#777"/><rect x="65.5" y="457.3" width="2" height="0.8" fill="#777"/><rect x="61.8" y="424.2" width="1.8" height="0.6" fill="#888"/>
<line x1="71.4" y1="387.6" x2="74.8" y2="387.6" stroke="#bbb" stroke-width="0.5"/>
<line x1="71.4" y1="389.0" x2="74.8" y2="389.0" stroke="#bbb" stroke-width="0.5"/>
<path d="M76.8,388.3 L73.8,386.1 L74.39999999999999,388.3 L73.8,390.5Z" fill="#b0b0b0"/>
<line x1="71.4" y1="459.3" x2="74.8" y2="459.3" stroke="#bbb" stroke-width="0.5"/>
<line x1="71.4" y1="460.7" x2="74.8" y2="460.7" stroke="#bbb" stroke-width="0.5"/>
<path d="M76.8,460 L73.8,457.8 L74.39999999999999,460 L73.8,462.2Z" fill="#b0b0b0"/>
<line x1="144.5" y1="388.8" x2="148.5" y2="388.8" stroke="#bbb" stroke-width="0.5"/>
<line x1="144.5" y1="390.2" x2="148.5" y2="390.2" stroke="#bbb" stroke-width="0.5"/>
<path d="M150.5,389.5 L147.5,387.3 L148.1,389.5 L147.5,391.7Z" fill="#b0b0b0"/>
<line x1="144.5" y1="460.3" x2="148.5" y2="460.3" stroke="#bbb" stroke-width="0.5"/>
<line x1="144.5" y1="461.7" x2="148.5" y2="461.7" stroke="#bbb" stroke-width="0.5"/>
<path d="M150.5,461 L147.5,458.8 L148.1,461 L147.5,463.2Z" fill="#b0b0b0"/>
</g>
<g id="pf">
<text class="sf" x="222" y="355.9" font-size="19" stroke="#000" stroke-width="0.35">f</text>
<rect x="247.2" y="367.4" width="146.10000000000002" height="107.20000000000005" fill="#fff" stroke="#111" stroke-width="1.2"/>
<line x1="247.2" y1="367.4" x2="247.2" y2="474.6" stroke="#111" stroke-width="1.8"/>
<line x1="247.2" y1="474.6" x2="393.3" y2="474.6" stroke="#111" stroke-width="1.5"/>
<line x1="247.2" y1="475.0" x2="249.39999999999998" y2="475.0" stroke="#111" stroke-width="0.6"/>
<line x1="247.2" y1="464.3" x2="248.5" y2="464.3" stroke="#111" stroke-width="0.6"/>
<line x1="247.2" y1="453.6" x2="249.39999999999998" y2="453.6" stroke="#111" stroke-width="0.6"/>
<line x1="247.2" y1="442.9" x2="248.5" y2="442.9" stroke="#111" stroke-width="0.6"/>
<line x1="247.2" y1="432.2" x2="249.39999999999998" y2="432.2" stroke="#111" stroke-width="0.6"/>
<line x1="247.2" y1="421.5" x2="248.5" y2="421.5" stroke="#111" stroke-width="0.6"/>
<line x1="247.2" y1="410.8" x2="249.39999999999998" y2="410.8" stroke="#111" stroke-width="0.6"/>
<line x1="247.2" y1="400.1" x2="248.5" y2="400.1" stroke="#111" stroke-width="0.6"/>
<line x1="247.2" y1="389.4" x2="249.39999999999998" y2="389.4" stroke="#111" stroke-width="0.6"/>
<line x1="247.2" y1="378.7" x2="248.5" y2="378.7" stroke="#111" stroke-width="0.6"/>
<line x1="247.2" y1="368.0" x2="249.39999999999998" y2="368.0" stroke="#111" stroke-width="0.6"/>
<text x="245.3" y="370.3" font-size="6.2" font-weight="bold" fill="#111" text-anchor="end">10<tspan font-size="3.8" dy="-2.6">-2</tspan></text>
<text x="245.3" y="391.7" font-size="6.2" font-weight="bold" fill="#111" text-anchor="end">10<tspan font-size="3.8" dy="-2.6">-4</tspan></text>
<text x="245.3" y="413.1" font-size="6.2" font-weight="bold" fill="#111" text-anchor="end">10<tspan font-size="3.8" dy="-2.6">-6</tspan></text>
<text x="245.3" y="434.5" font-size="6.2" font-weight="bold" fill="#111" text-anchor="end">10<tspan font-size="3.8" dy="-2.6">-8</tspan></text>
<text x="245.3" y="455.9" font-size="6.2" font-weight="bold" fill="#111" text-anchor="end">10<tspan font-size="3.8" dy="-2.6">-10</tspan></text>
<text x="245.3" y="477.3" font-size="6.2" font-weight="bold" fill="#111" text-anchor="end">10<tspan font-size="3.8" dy="-2.6">-12</tspan></text>
<line x1="251.4" y1="474.6" x2="251.4" y2="472.40000000000003" stroke="#111" stroke-width="0.6"/>
<line x1="261.5" y1="474.6" x2="261.5" y2="473.3" stroke="#111" stroke-width="0.6"/>
<line x1="271.6" y1="474.6" x2="271.6" y2="472.40000000000003" stroke="#111" stroke-width="0.6"/>
<line x1="281.6" y1="474.6" x2="281.6" y2="473.3" stroke="#111" stroke-width="0.6"/>
<line x1="291.7" y1="474.6" x2="291.7" y2="472.40000000000003" stroke="#111" stroke-width="0.6"/>
<line x1="301.8" y1="474.6" x2="301.8" y2="473.3" stroke="#111" stroke-width="0.6"/>
<line x1="311.9" y1="474.6" x2="311.9" y2="472.40000000000003" stroke="#111" stroke-width="0.6"/>
<line x1="321.9" y1="474.6" x2="321.9" y2="473.3" stroke="#111" stroke-width="0.6"/>
<line x1="332.0" y1="474.6" x2="332.0" y2="472.40000000000003" stroke="#111" stroke-width="0.6"/>
<line x1="342.1" y1="474.6" x2="342.1" y2="473.3" stroke="#111" stroke-width="0.6"/>
<line x1="352.1" y1="474.6" x2="352.1" y2="472.40000000000003" stroke="#111" stroke-width="0.6"/>
<line x1="362.2" y1="474.6" x2="362.2" y2="473.3" stroke="#111" stroke-width="0.6"/>
<line x1="372.3" y1="474.6" x2="372.3" y2="472.40000000000003" stroke="#111" stroke-width="0.6"/>
<line x1="382.4" y1="474.6" x2="382.4" y2="473.3" stroke="#111" stroke-width="0.6"/>
<text x="251.4" y="481.6" font-size="6.6" font-weight="bold" fill="#111" text-anchor="middle">0.0</text>
<text x="291.7" y="481.6" font-size="6.6" font-weight="bold" fill="#111" text-anchor="middle">0.2</text>
<text x="332.0" y="481.6" font-size="6.6" font-weight="bold" fill="#111" text-anchor="middle">0.4</text>
<text x="372.3" y="481.6" font-size="6.6" font-weight="bold" fill="#111" text-anchor="middle">0.6</text>
<text x="320.4" y="491.4" font-size="7.6" font-weight="bold" fill="#111" text-anchor="middle" textLength="37.3" lengthAdjust="spacingAndGlyphs">Voltage (V)</text>
<text transform="translate(231.6,422.5) rotate(-90)" font-size="7.6" font-weight="bold" fill="#111" text-anchor="middle" textLength="38" lengthAdjust="spacingAndGlyphs">Current (A)</text>
<polyline points="251.2,423.0 251.7,412.0 252.5,398.0 253.1,389.8 257.9,384.0 262.7,381.0 267.6,379.6 272.4,378.8 277.2,378.5 282.0,378.3 286.9,378.2 291.7,378.1 296.5,378.1 301.3,378.1 306.2,378.1 311.0,378.1 315.8,378.1 320.6,378.1 325.5,378.1 330.3,378.1 335.1,378.1 339.9,378.1 344.8,378.1 349.6,378.1 354.4,378.1 359.2,378.1 364.1,378.1 368.9,378.1 373.7,378.1 378.5,378.1 383.4,378.1 388.2,378.1 393.0,378.1" fill="none" stroke="#2b3fb0" stroke-width="1.6"/>
<circle cx="253.1" cy="389.8" r="1.35" fill="#2b3fb0"/>
<circle cx="254.7" cy="387.4" r="1.35" fill="#2b3fb0"/>
<circle cx="256.3" cy="385.5" r="1.35" fill="#2b3fb0"/>
<circle cx="257.9" cy="384.0" r="1.35" fill="#2b3fb0"/>
<circle cx="259.5" cy="382.8" r="1.35" fill="#2b3fb0"/>
<circle cx="261.1" cy="381.8" r="1.35" fill="#2b3fb0"/>
<circle cx="262.7" cy="381.1" r="1.35" fill="#2b3fb0"/>
<circle cx="264.3" cy="380.5" r="1.35" fill="#2b3fb0"/>
<circle cx="265.9" cy="380.0" r="1.35" fill="#2b3fb0"/>
<circle cx="267.5" cy="379.6" r="1.35" fill="#2b3fb0"/>
<circle cx="269.1" cy="379.3" r="1.35" fill="#2b3fb0"/>
<circle cx="270.7" cy="379.0" r="1.35" fill="#2b3fb0"/>
<circle cx="272.3" cy="378.9" r="1.35" fill="#2b3fb0"/>
<circle cx="273.9" cy="378.7" r="1.35" fill="#2b3fb0"/>
<circle cx="275.5" cy="378.6" r="1.35" fill="#2b3fb0"/>
<circle cx="277.1" cy="378.5" r="1.35" fill="#2b3fb0"/>
<circle cx="278.7" cy="378.4" r="1.35" fill="#2b3fb0"/>
<circle cx="252.8" cy="389.6" r="1.7" fill="#2b3fb0"/>
<line x1="278" y1="378.3" x2="393" y2="378.3" stroke="#2b3fb0" stroke-width="2.6"/>
<line x1="278" y1="378.3" x2="393" y2="378.3" stroke="#5566cc" stroke-width="0.8" stroke-dasharray="0.8,1.7"/>
<polyline points="251.8,450.7 253.3,449.0 254.8,454.0 256.3,448.2 257.8,452.9 259.3,451.2 260.8,448.1 262.3,452.6 263.8,447.9 265.3,451.8 266.8,448.2 268.3,448.4 269.8,451.7 271.3,455.8 272.8,448.7 274.3,449.7 275.8,453.8 277.3,457.0 278.8,453.3 280.3,451.5 281.8,457.3 283.3,448.0 284.8,456.1 285.1,471.7 286.3,450.4 287.8,448.9 289.3,448.7 290.8,450.6 292.3,455.7 293.8,449.3 295.3,453.3 295.6,464.0 296.8,453.9 298.3,451.2 299.8,453.0 301.3,448.1 302.8,448.1 304.3,449.6 305.8,454.3 307.3,451.8 308.8,450.6 309.0,471.0 310.3,453.4" fill="none" stroke="#2b3fb0" stroke-width="0.6"/>
<circle cx="251.8" cy="450.7" r="1.45" fill="#2b3fb0"/>
<circle cx="254.8" cy="454.0" r="1.45" fill="#2b3fb0"/>
<circle cx="257.8" cy="452.9" r="1.45" fill="#2b3fb0"/>
<circle cx="260.8" cy="448.1" r="1.45" fill="#2b3fb0"/>
<circle cx="263.8" cy="447.9" r="1.45" fill="#2b3fb0"/>
<circle cx="266.8" cy="448.2" r="1.45" fill="#2b3fb0"/>
<circle cx="269.8" cy="451.7" r="1.45" fill="#2b3fb0"/>
<circle cx="272.8" cy="448.7" r="1.45" fill="#2b3fb0"/>
<circle cx="275.8" cy="453.8" r="1.45" fill="#2b3fb0"/>
<circle cx="278.8" cy="453.3" r="1.45" fill="#2b3fb0"/>
<circle cx="281.8" cy="457.3" r="1.45" fill="#2b3fb0"/>
<circle cx="284.8" cy="456.1" r="1.45" fill="#2b3fb0"/>
<circle cx="286.3" cy="450.4" r="1.45" fill="#2b3fb0"/>
<circle cx="289.3" cy="448.7" r="1.45" fill="#2b3fb0"/>
<circle cx="292.3" cy="455.7" r="1.45" fill="#2b3fb0"/>
<circle cx="295.3" cy="453.3" r="1.45" fill="#2b3fb0"/>
<circle cx="296.8" cy="453.9" r="1.45" fill="#2b3fb0"/>
<circle cx="299.8" cy="453.0" r="1.45" fill="#2b3fb0"/>
<circle cx="302.8" cy="448.1" r="1.45" fill="#2b3fb0"/>
<circle cx="305.8" cy="454.3" r="1.45" fill="#2b3fb0"/>
<circle cx="308.8" cy="450.6" r="1.45" fill="#2b3fb0"/>
<circle cx="310.3" cy="453.4" r="1.45" fill="#2b3fb0"/>
<line x1="312" y1="466" x2="313.4" y2="378" stroke="#2b3fb0" stroke-width="0.9"/>
<line x1="310" y1="471" x2="312" y2="466" stroke="#2b3fb0" stroke-width="0.7"/>
<line x1="295.6" y1="384" x2="295.6" y2="448" stroke="#2b3fb0" stroke-width="0.9" stroke-dasharray="1.2,1"/>
<path d="M295.6,380.5 L294,384.5 L297.2,384.5Z" fill="#2b3fb0"/>
<text x="278.7" y="418.6" font-size="6.2" fill="#2b3fb0" font-weight="bold">X 10<tspan font-size="3.8" dy="-2.4">7</tspan></text>
<line x1="305.7" y1="372.4" x2="267.1" y2="375.1" stroke="#2c8a3a" stroke-width="0.9"/>
<path d="M263.9,375.3 L267.0,373.6 L267.2,376.5Z" fill="#2c8a3a"/>
<line x1="256.6" y1="392.4" x2="253.7" y2="438.8" stroke="#2c8a3a" stroke-width="0.9"/>
<path d="M253.5,442 L252.3,438.7 L255.1,438.9Z" fill="#2c8a3a"/>
<line x1="261.3" y1="464" x2="300.8" y2="460.7" stroke="#2c8a3a" stroke-width="0.9"/>
<path d="M304,460.4 L300.9,462.1 L300.7,459.2Z" fill="#2c8a3a"/>
<line x1="316.8" y1="420" x2="316.8" y2="401.7" stroke="#2c8a3a" stroke-width="0.9"/>
<path d="M316.8,398.5 L318.2,401.7 L315.4,401.7Z" fill="#2c8a3a"/>
<text x="255.2" y="445.8" font-size="6.2" fill="#2c8a3a" textLength="19" lengthAdjust="spacingAndGlyphs" font-weight="bold">RESET</text>
<text x="316" y="392.4" font-size="6.2" fill="#2c8a3a" textLength="11" lengthAdjust="spacingAndGlyphs" font-weight="bold">SET</text>
<text x="346" y="374.2" font-size="6.6" fill="#e02a2a" textLength="23" lengthAdjust="spacingAndGlyphs" font-weight="bold">I<tspan font-size="4" dy="1.4">CC</tspan><tspan dy="-1.4">=1mA</tspan></text>
<rect x="327.3" y="398.1" width="63.69999999999999" height="56.39999999999998" fill="#fff" stroke="#222" stroke-width="0.5"/>
<path d="M329.5,448 L329.7,409 Q332,401.8 341,400.8 L380.5,400.5" fill="none" stroke="#222" stroke-width="0.8"/>
<path d="M329.575,448 L329.7,409 Q332,401.875 341,400.875 L380.5,400.55" fill="none" stroke="#3cb43c" stroke-width="0.8"/>
<path d="M329.65,448 L329.7,409 Q332,401.95 341,400.95 L380.5,400.6" fill="none" stroke="#2a3ac8" stroke-width="0.8"/>
<path d="M329.725,448 L329.7,409 Q332,402.02500000000003 341,401.02500000000003 L380.5,400.65" fill="none" stroke="#30c8d8" stroke-width="0.8"/>
<path d="M329.8,448 L329.7,409 Q332,402.1 341,401.1 L380.5,400.7" fill="none" stroke="#e02a2a" stroke-width="1.4"/>
<line x1="356.3" y1="401" x2="356.3" y2="452" stroke="#222" stroke-width="0.7"/>
<polyline points="330.0,437.2 331.6,439.3 333.2,436.0 334.8,437.7 336.4,438.9 338.0,448.4 339.6,437.0 341.2,435.4 342.8,434.7 344.4,439.1 346.0,439.8 347.6,438.7 349.2,438.0 350.8,439.5 352.4,437.3 354.0,434.9 355.6,438.4" fill="none" stroke="#222" stroke-width="0.5"/>
<line x1="356.90000000000003" y1="401" x2="356.90000000000003" y2="452" stroke="#3cb43c" stroke-width="0.7"/>
<polyline points="330.0,439.4 331.6,436.8 333.2,434.6 334.8,443.5 336.4,434.9 338.0,435.3 339.6,436.8 341.2,435.0 342.8,437.8 344.4,439.4 346.0,436.2 347.6,436.7 349.2,440.2 350.8,435.6 352.4,435.9 354.0,438.0 355.6,434.5" fill="none" stroke="#3cb43c" stroke-width="0.5"/>
<line x1="357.5" y1="401" x2="357.5" y2="452" stroke="#2a3ac8" stroke-width="0.7"/>
<polyline points="330.0,436.7 331.6,440.2 333.2,437.6 334.8,446.6 336.4,439.9 338.0,439.7 339.6,436.9 341.2,435.1 342.8,442.9 344.4,435.8 346.0,444.5 347.6,434.5 349.2,435.1 350.8,434.7 352.4,438.2 354.0,436.0 355.6,436.7" fill="none" stroke="#2a3ac8" stroke-width="0.5"/>
<line x1="358.1" y1="401" x2="358.1" y2="452" stroke="#30c8d8" stroke-width="0.7"/>
<polyline points="330.0,439.6 331.6,437.3 333.2,443.0 334.8,436.6 336.4,439.5 338.0,434.6 339.6,437.7 341.2,445.8 342.8,437.7 344.4,439.7 346.0,436.1 347.6,435.5 349.2,437.7 350.8,436.5 352.4,439.4 354.0,439.6 355.6,439.4" fill="none" stroke="#30c8d8" stroke-width="0.5"/>
<line x1="358.7" y1="401" x2="358.7" y2="452" stroke="#e02a2a" stroke-width="0.7"/>
<polyline points="330.0,435.9 331.6,444.6 333.2,434.7 334.8,436.1 336.4,440.2 338.0,440.1 339.6,440.2 341.2,435.8 342.8,435.7 344.4,438.2 346.0,439.5 347.6,438.4 349.2,435.0 350.8,440.0 352.4,439.0 354.0,435.6 355.6,436.5" fill="none" stroke="#e02a2a" stroke-width="0.5"/>
<line x1="354" y1="402.5" x2="338.0" y2="404.3" stroke="#2c8a3a" stroke-width="0.6"/>
<path d="M336,404.5 L337.9,403.4 L338.1,405.2Z" fill="#2c8a3a"/>
<line x1="332" y1="410" x2="332.0" y2="430.0" stroke="#2c8a3a" stroke-width="0.6"/>
<path d="M332,432 L331.1,430.0 L332.9,430.0Z" fill="#2c8a3a"/>
<line x1="333.5" y1="447" x2="351.0" y2="446.1" stroke="#30c8d8" stroke-width="0.6"/>
<path d="M353,446 L351.0,447.0 L351.0,445.2Z" fill="#30c8d8"/>
<text x="360" y="405" font-size="3" fill="#2c8a3a" font-weight="bold">SET</text>
<text x="376" y="405" font-size="3" fill="#e02a2a">I<tspan font-size="2" dy="0.8">CC</tspan><tspan dy="-0.8">=10μA</tspan></text>
<text x="334" y="434" font-size="3" fill="#2c8a3a" font-weight="bold">5th</text>
<text x="333" y="437.5" font-size="3" fill="#2c8a3a" font-weight="bold">RESET</text>
<text x="364.4" y="428.7" font-size="3.4" fill="#222" text-decoration="underline" textLength="21.6" lengthAdjust="spacingAndGlyphs">V DC sweeps</text>
<line x1="372" y1="431.0" x2="378.5" y2="431.0" stroke="#222" stroke-width="0.8" stroke-dasharray="1,0.6"/>
<text x="380" y="432.0" font-size="3.2" fill="#222">1st</text>
<line x1="372" y1="435.8" x2="378.5" y2="435.8" stroke="#3cb43c" stroke-width="0.8" stroke-dasharray="1,0.6"/>
<text x="380" y="436.8" font-size="3.2" fill="#222">5th</text>
<line x1="372" y1="440.5" x2="378.5" y2="440.5" stroke="#2a3ac8" stroke-width="0.8" stroke-dasharray="1,0.6"/>
<text x="380" y="441.5" font-size="3.2" fill="#222">10th</text>
<line x1="372" y1="445.2" x2="378.5" y2="445.2" stroke="#30c8d8" stroke-width="0.8" stroke-dasharray="1,0.6"/>
<text x="380" y="446.2" font-size="3.2" fill="#222">25th</text>
<line x1="372" y1="450.0" x2="378.5" y2="450.0" stroke="#e02a2a" stroke-width="0.8" stroke-dasharray="1,0.6"/>
<text x="380" y="451.0" font-size="3.2" fill="#222">50th</text>
<text x="328.3" y="457.6" font-size="2.6" fill="#222" text-anchor="middle">0.00</text>
<text x="346.9" y="457.6" font-size="2.6" fill="#222" text-anchor="middle">0.10</text>
<text x="365.5" y="457.6" font-size="2.6" fill="#222" text-anchor="middle">0.20</text>
<text x="384.1" y="457.6" font-size="2.6" fill="#222" text-anchor="middle">0.30</text>
<text x="357.8" y="461.6" font-size="3.2" fill="#222" text-anchor="middle">Voltage (V)</text>
<text transform="translate(325.5,425) rotate(-90)" font-size="2.8" fill="#222" text-anchor="middle">Current (A)</text>
<text x="326.7" y="400.1" font-size="2.2" fill="#222" text-anchor="end">10</text>
<text x="326.7" y="412.6" font-size="2.2" fill="#222" text-anchor="end">10</text>
<text x="326.7" y="425.1" font-size="2.2" fill="#222" text-anchor="end">10</text>
<text x="326.7" y="437.6" font-size="2.2" fill="#222" text-anchor="end">10</text>
<text x="326.7" y="450.1" font-size="2.2" fill="#222" text-anchor="end">10</text>
<line x1="328.5" y1="466.8" x2="341.5" y2="466.8" stroke="#2b3fb0" stroke-width="1.2"/>
<circle cx="335" cy="466.8" r="1.4" fill="#2b3fb0"/>
<text x="344.8" y="469.8" font-size="7.4" fill="#111" textLength="43" lengthAdjust="spacingAndGlyphs" font-weight="bold">Ag/N-GOQDs/Pt</text>
</g>
<g id="pg">
<text class="sf" x="396" y="355" font-size="20" stroke="#000" stroke-width="0.35">g</text>
<rect x="426.1" y="366.3" width="145.89999999999998" height="107.30000000000001" fill="#fff" stroke="#111" stroke-width="1.2"/>
<line x1="426.1" y1="366.3" x2="426.1" y2="473.6" stroke="#111" stroke-width="1.6"/>
<line x1="426.1" y1="473.6" x2="572" y2="473.6" stroke="#111" stroke-width="1.5"/>
<line x1="426.1" y1="469.0" x2="428.3" y2="469.0" stroke="#111" stroke-width="0.6"/>
<line x1="426.1" y1="460.5" x2="427.3" y2="460.5" stroke="#111" stroke-width="0.6"/>
<line x1="426.1" y1="451.9" x2="428.3" y2="451.9" stroke="#111" stroke-width="0.6"/>
<line x1="426.1" y1="443.4" x2="427.3" y2="443.4" stroke="#111" stroke-width="0.6"/>
<line x1="426.1" y1="434.9" x2="428.3" y2="434.9" stroke="#111" stroke-width="0.6"/>
<line x1="426.1" y1="426.4" x2="427.3" y2="426.4" stroke="#111" stroke-width="0.6"/>
<line x1="426.1" y1="417.8" x2="428.3" y2="417.8" stroke="#111" stroke-width="0.6"/>
<line x1="426.1" y1="409.3" x2="427.3" y2="409.3" stroke="#111" stroke-width="0.6"/>
<line x1="426.1" y1="400.8" x2="428.3" y2="400.8" stroke="#111" stroke-width="0.6"/>
<line x1="426.1" y1="392.3" x2="427.3" y2="392.3" stroke="#111" stroke-width="0.6"/>
<line x1="426.1" y1="383.8" x2="428.3" y2="383.8" stroke="#111" stroke-width="0.6"/>
<line x1="426.1" y1="375.2" x2="427.3" y2="375.2" stroke="#111" stroke-width="0.6"/>
<line x1="426.1" y1="366.7" x2="428.3" y2="366.7" stroke="#111" stroke-width="0.6"/>
<text x="423.3" y="471.3" font-size="7" font-weight="bold" fill="#111" text-anchor="end">-40</text>
<text x="423.3" y="454.2" font-size="7" font-weight="bold" fill="#111" text-anchor="end">-20</text>
<text x="423.3" y="437.2" font-size="7" font-weight="bold" fill="#111" text-anchor="end">0</text>
<text x="423.3" y="420.1" font-size="7" font-weight="bold" fill="#111" text-anchor="end">20</text>
<text x="423.3" y="403.1" font-size="7" font-weight="bold" fill="#111" text-anchor="end">40</text>
<text x="423.3" y="386.1" font-size="7" font-weight="bold" fill="#111" text-anchor="end">60</text>
<text x="423.3" y="369.0" font-size="7" font-weight="bold" fill="#111" text-anchor="end">80</text>
<line x1="429.2" y1="473.6" x2="429.2" y2="471.40000000000003" stroke="#111" stroke-width="0.6"/>
<line x1="437.9" y1="473.6" x2="437.9" y2="472.40000000000003" stroke="#111" stroke-width="0.6"/>
<line x1="446.6" y1="473.6" x2="446.6" y2="471.40000000000003" stroke="#111" stroke-width="0.6"/>
<line x1="455.3" y1="473.6" x2="455.3" y2="472.40000000000003" stroke="#111" stroke-width="0.6"/>
<line x1="464.0" y1="473.6" x2="464.0" y2="471.40000000000003" stroke="#111" stroke-width="0.6"/>
<line x1="472.7" y1="473.6" x2="472.7" y2="472.40000000000003" stroke="#111" stroke-width="0.6"/>
<line x1="481.4" y1="473.6" x2="481.4" y2="471.40000000000003" stroke="#111" stroke-width="0.6"/>
<line x1="490.1" y1="473.6" x2="490.1" y2="472.40000000000003" stroke="#111" stroke-width="0.6"/>
<line x1="498.8" y1="473.6" x2="498.8" y2="471.40000000000003" stroke="#111" stroke-width="0.6"/>
<line x1="507.5" y1="473.6" x2="507.5" y2="472.40000000000003" stroke="#111" stroke-width="0.6"/>
<line x1="516.2" y1="473.6" x2="516.2" y2="471.40000000000003" stroke="#111" stroke-width="0.6"/>
<line x1="524.9" y1="473.6" x2="524.9" y2="472.40000000000003" stroke="#111" stroke-width="0.6"/>
<line x1="533.6" y1="473.6" x2="533.6" y2="471.40000000000003" stroke="#111" stroke-width="0.6"/>
<line x1="542.3" y1="473.6" x2="542.3" y2="472.40000000000003" stroke="#111" stroke-width="0.6"/>
<line x1="551.0" y1="473.6" x2="551.0" y2="471.40000000000003" stroke="#111" stroke-width="0.6"/>
<line x1="559.7" y1="473.6" x2="559.7" y2="472.40000000000003" stroke="#111" stroke-width="0.6"/>
<line x1="568.4" y1="473.6" x2="568.4" y2="471.40000000000003" stroke="#111" stroke-width="0.6"/>
<text x="429.2" y="482.6" font-size="7" font-weight="bold" fill="#111" text-anchor="middle">-40</text>
<text x="446.6" y="482.6" font-size="7" font-weight="bold" fill="#111" text-anchor="middle">-30</text>
<text x="464.0" y="482.6" font-size="7" font-weight="bold" fill="#111" text-anchor="middle">-20</text>
<text x="481.4" y="482.6" font-size="7" font-weight="bold" fill="#111" text-anchor="middle">-10</text>
<text x="498.8" y="482.6" font-size="7" font-weight="bold" fill="#111" text-anchor="middle">0</text>
<text x="516.2" y="482.6" font-size="7" font-weight="bold" fill="#111" text-anchor="middle">10</text>
<text x="533.6" y="482.6" font-size="7" font-weight="bold" fill="#111" text-anchor="middle">20</text>
<text x="551.0" y="482.6" font-size="7" font-weight="bold" fill="#111" text-anchor="middle">30</text>
<text x="568.4" y="482.6" font-size="7" font-weight="bold" fill="#111" text-anchor="middle">40</text>
<text x="498.4" y="490.7" font-size="8" font-weight="bold" fill="#111" text-anchor="middle" textLength="42.5" lengthAdjust="spacingAndGlyphs">Interval Δt, μs</text>
<text transform="translate(411,421) rotate(-90)" font-size="7.8" font-weight="bold" fill="#111" text-anchor="middle" textLength="56" lengthAdjust="spacingAndGlyphs">Conductance ΔG, %</text>
<line x1="498.8" y1="366.3" x2="498.8" y2="473.6" stroke="#3aa04a" stroke-width="0.9" stroke-dasharray="1,1.1"/>
<line x1="426.1" y1="434.9" x2="572" y2="434.9" stroke="#3aa04a" stroke-width="0.9" stroke-dasharray="1,1.1"/>
<polyline points="500.5,382.2 501.4,383.5 502.3,384.8 503.2,386.1 504.0,387.3 504.9,388.5 505.8,389.7 506.6,390.8 507.5,392.0 508.4,393.1 509.2,394.2 510.1,395.2 511.0,396.3 511.9,397.3 512.7,398.3 513.6,399.2 514.5,400.2 515.3,401.1 516.2,402.0 517.1,402.9 517.9,403.8 518.8,404.6 519.7,405.5 520.5,406.3 521.4,407.1 522.3,407.9 523.2,408.6 524.0,409.4 524.9,410.1 525.8,410.8 526.6,411.5 527.5,412.2 528.4,412.9 529.2,413.5 530.1,414.2 531.0,414.8 531.9,415.4 532.7,416.0 533.6,416.6 534.5,417.2 535.3,417.8 536.2,418.3 537.1,418.9 538.0,419.4 538.8,419.9 539.7,420.4 540.6,420.9 541.4,421.4 542.3,421.9 543.2,422.3 544.0,422.8 544.9,423.2 545.8,423.7 546.6,424.1 547.5,424.5 548.4,424.9 549.3,425.3 550.1,425.7 551.0,426.1 551.9,426.4 552.7,426.8 553.6,427.2 554.5,427.5 555.4,427.9 556.2,428.2 557.1,428.5 558.0,428.8 558.8,429.2 559.7,429.5 560.6,429.8 561.4,430.1 562.3,430.3 563.2,430.6 564.0,430.9 564.9,431.2 565.8,431.4 566.7,431.7 567.5,431.9 568.4,432.2" fill="none" stroke="#111" stroke-width="1.3"/>
<line x1="432" y1="441.2" x2="498" y2="460.6" stroke="#111" stroke-width="1.3"/>
<path d="M500.6,376.40000000000003 L503.5,379.3 L500.6,382.2 L497.70000000000005,379.3Z" fill="#fff" stroke="#e02828" stroke-width="1.1"/>
<path d="M509.3,389.1 L512.2,392 L509.3,394.9 L506.40000000000003,392Z" fill="#fff" stroke="#e02828" stroke-width="1.1"/>
<path d="M526,396.8 L528.9,399.7 L526,402.59999999999997 L523.1,399.7Z" fill="#fff" stroke="#e02828" stroke-width="1.1"/>
<path d="M535,413.8 L537.9,416.7 L535,419.59999999999997 L532.1,416.7Z" fill="#fff" stroke="#e02828" stroke-width="1.1"/>
<path d="M543.3,421.90000000000003 L546.1999999999999,424.8 L543.3,427.7 L540.4,424.8Z" fill="#fff" stroke="#e02828" stroke-width="1.1"/>
<path d="M550.1,424.5 L553.0,427.4 L550.1,430.29999999999995 L547.2,427.4Z" fill="#fff" stroke="#e02828" stroke-width="1.1"/>
<path d="M564,427.6 L566.9,430.5 L564,433.4 L561.1,430.5Z" fill="#fff" stroke="#e02828" stroke-width="1.1"/>
<path d="M433.7,439.40000000000003 L436.59999999999997,442.3 L433.7,445.2 L430.8,442.3Z" fill="#fff" stroke="#2838b8" stroke-width="1.1"/>
<path d="M447.3,441.90000000000003 L450.2,444.8 L447.3,447.7 L444.40000000000003,444.8Z" fill="#fff" stroke="#2838b8" stroke-width="1.1"/>
<path d="M454.2,444.1 L457.09999999999997,447 L454.2,449.9 L451.3,447Z" fill="#fff" stroke="#2838b8" stroke-width="1.1"/>
<path d="M462.9,449.40000000000003 L465.79999999999995,452.3 L462.9,455.2 L460.0,452.3Z" fill="#fff" stroke="#2838b8" stroke-width="1.1"/>
<path d="M479.8,452.70000000000005 L482.7,455.6 L479.8,458.5 L476.90000000000003,455.6Z" fill="#fff" stroke="#2838b8" stroke-width="1.1"/>
<path d="M488.4,454.1 L491.29999999999995,457 L488.4,459.9 L485.5,457Z" fill="#fff" stroke="#2838b8" stroke-width="1.1"/>
<path d="M497.1,458.40000000000003 L500.0,461.3 L497.1,464.2 L494.20000000000005,461.3Z" fill="#fff" stroke="#2838b8" stroke-width="1.1"/>
<path d="M531,369.1 L533.9,372 L531,374.9 L528.1,372Z" fill="#fff" stroke="#e02828" stroke-width="1.1"/>
<path d="M531,377.0 L533.9,379.9 L531,382.79999999999995 L528.1,379.9Z" fill="#fff" stroke="#2838b8" stroke-width="1.1"/>
<line x1="524.6" y1="386.8" x2="537.6" y2="386.8" stroke="#111" stroke-width="1"/>
<text x="539.3" y="374.8" font-size="7" fill="#e02828" textLength="10.5" lengthAdjust="spacingAndGlyphs" font-weight="bold">LTP</text>
<text x="539.3" y="382.2" font-size="7" fill="#2838b8" textLength="11.4" lengthAdjust="spacingAndGlyphs" font-weight="bold">LTD</text>
<text x="539.3" y="389.4" font-size="7" fill="#111" textLength="29.7" lengthAdjust="spacingAndGlyphs" font-weight="bold">Exp Fitting</text>
<rect x="437.9" y="371.3" width="56.5" height="54.0" fill="#fff" stroke="#222" stroke-width="0.5"/>
<path d="M440.3,378.2 Q455,381 468.8,389 L469,423 M469.6,423 L469.8,389 Q474,380 494,376" fill="none" stroke="#2a3ad0" stroke-width="1.1"/>
<path d="M440.3,379 Q455,386 468.4,392 M470.5,392 Q476,382 483,378" fill="none" stroke="#2a3ad0" stroke-width="1.1"/>
<path d="M469.5,423.5 L471,420 L472.5,423 L474,419.5 L476,422 L478,420.5 L479.5,417 L480.3,381 Q483,377 494,375.5" fill="none" stroke="#e83030" stroke-width="0.8"/>
<path d="M478.5,382 Q483,379 488.5,377.5 L494,376.5" fill="none" stroke="#e83030" stroke-width="0.6"/>
<path d="M442.5,377 Q440,378.5 442.5,380.5" fill="none" stroke="#3aa04a" stroke-width="0.7"/>
<text x="442" y="386.2" font-size="2.8" fill="#3aa04a" font-weight="bold">RESET</text>
<text x="468.5" y="374.8" font-size="2.8" fill="#3aa04a" font-weight="bold">SET</text>
<text x="478" y="374.5" font-size="2.4" fill="#e83030">I<tspan font-size="1.6">CC</tspan>=100μA</text>
<text x="440.5" y="404.5" font-size="2.6" fill="#222" font-weight="bold">LDL Sweeps</text>
<line x1="440.5" y1="406.9" x2="444" y2="406.9" stroke="#e83030" stroke-width="1"/>
<text x="445" y="407.7" font-size="2.4" fill="#333">Shooting V</text>
<line x1="440.5" y1="410.0" x2="444" y2="410.0" stroke="#2a3ad0" stroke-width="1"/>
<text x="445" y="410.8" font-size="2.4" fill="#333">SET/RES cycle</text>
<line x1="440.5" y1="413.1" x2="444" y2="413.1" stroke="#ccc" stroke-width="1"/>
<text x="445" y="413.9" font-size="2.4" fill="#333">Repeatability</text>
<line x1="440.5" y1="416.2" x2="444" y2="416.2" stroke="#fff" stroke-width="1"/>
<text x="445" y="417.0" font-size="2.4" fill="#333">1000</text>
<text x="440.5" y="427.4" font-size="2.4" fill="#222" text-anchor="middle">-0.50</text>
<text x="454.3" y="427.4" font-size="2.4" fill="#222" text-anchor="middle">-0.25</text>
<text x="468.1" y="427.4" font-size="2.4" fill="#222" text-anchor="middle">0.00</text>
<text x="481.9" y="427.4" font-size="2.4" fill="#222" text-anchor="middle">0.25</text>
<text x="466" y="430.8" font-size="2.8" fill="#222" text-anchor="middle">Voltage (V)</text>
<text transform="translate(429.2,397) rotate(-90)" font-size="2.6" fill="#222" text-anchor="middle">Current (A)</text>
<text x="437.2" y="375.5" font-size="2.3" fill="#222" text-anchor="end">1m</text>
<text x="437.2" y="388.8" font-size="2.3" fill="#222" text-anchor="end">10μ</text>
<text x="437.2" y="402.1" font-size="2.3" fill="#222" text-anchor="end">100n</text>
<text x="437.2" y="415.4" font-size="2.3" fill="#222" text-anchor="end">1n</text>
<rect x="533.8" y="436.6" width="1.9" height="12.5" fill="#c81e32"/>
<rect x="537.2" y="438.6" width="1.9" height="10.5" fill="#c81e32"/>
<rect x="540.7" y="440.6" width="1.9" height="8.5" fill="#c81e32"/>
<rect x="544.1" y="442.4" width="1.9" height="6.7" fill="#c81e32"/>
<rect x="547.6" y="444.3" width="1.9" height="4.8" fill="#c81e32"/>
<rect x="551.0" y="445.9" width="1.9" height="3.2" fill="#c81e32"/>
<rect x="554.5" y="447.6" width="1.9" height="1.5" fill="#c81e32"/>
<rect x="508.0" y="449.1" width="1.9" height="1.2" fill="#1e2aa0"/>
<rect x="511.2" y="449.1" width="1.9" height="2.5" fill="#1e2aa0"/>
<rect x="514.4" y="449.1" width="1.9" height="3.8" fill="#1e2aa0"/>
<rect x="517.6" y="449.1" width="1.9" height="5" fill="#1e2aa0"/>
<rect x="520.8" y="449.1" width="1.9" height="6.3" fill="#1e2aa0"/>
<rect x="524.0" y="449.1" width="1.9" height="7.6" fill="#1e2aa0"/>
<rect x="527.2" y="449.1" width="1.9" height="8.8" fill="#1e2aa0"/>
<line x1="505" y1="449.1" x2="560" y2="449.1" stroke="#888" stroke-width="0.3"/>
<rect x="538.3" y="459.5" width="1.5" height="6.5" fill="#1e2aa0"/>
<rect x="534" y="465.5" width="1.5" height="6.5" fill="#c81e32"/>
<text x="502.5" y="438.5" font-size="2.6" fill="#222">Pre-spike</text>
<line x1="502.5" y1="441" x2="515" y2="441" stroke="#555" stroke-width="0.4"/>
<text x="552" y="460.5" font-size="2.6" fill="#222">Post-spike</text>
<line x1="553" y1="463" x2="566" y2="463" stroke="#555" stroke-width="0.4"/>
<text x="540" y="438" font-size="2.4" fill="#222">0.5V-0.16V</text>
<text x="512" y="447" font-size="2.4" fill="#222">-0.1V -0.40V</text>
<text x="516" y="457" font-size="2.2" fill="#222">Δt</text>
<text x="540" y="461" font-size="2.2" fill="#222">0.1V</text>
<text x="525" y="471" font-size="2.2" fill="#222">-0.1V</text>
</g>
</svg>
</body></html>
